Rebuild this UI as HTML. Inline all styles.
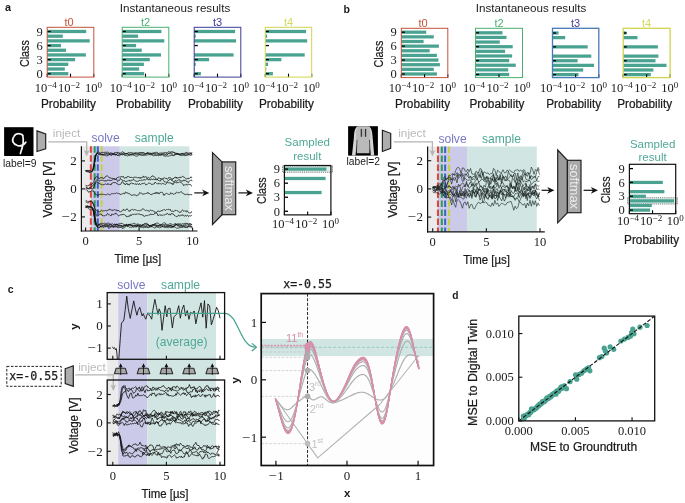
<!DOCTYPE html>
<html lang="en"><head><meta charset="utf-8"><title>Figure</title>
<style>
html,body{margin:0;padding:0;background:#fff;}
svg{display:block;}
</style></head><body>
<svg width="685" height="503" viewBox="0 0 685 503">
<rect width="685" height="503" fill="#ffffff"/>
<text x="4.9" y="10.8" font-size="10.8" fill="#1a1a1a" text-anchor="start" font-family='"Liberation Sans", sans-serif' font-weight="bold">a</text>
<text x="175" y="12.2" font-size="11.5" fill="#1a1a1a" text-anchor="middle" font-family='"Liberation Sans", sans-serif' textLength="110.5" lengthAdjust="spacingAndGlyphs">Instantaneous results</text>
<rect x="47.2" y="29.86" width="39" height="3.28" fill="#4aa391"/>
<rect x="47.2" y="34.55" width="15.6" height="3.28" fill="#4aa391"/>
<rect x="47.2" y="39.24" width="42.5" height="3.28" fill="#4aa391"/>
<rect x="47.2" y="43.93" width="13.8" height="3.28" fill="#4aa391"/>
<rect x="47.2" y="48.61" width="18.8" height="3.28" fill="#4aa391"/>
<rect x="47.2" y="53.3" width="38.7" height="3.28" fill="#4aa391"/>
<rect x="47.2" y="57.99" width="27.9" height="3.28" fill="#4aa391"/>
<rect x="47.2" y="62.68" width="21.1" height="3.28" fill="#4aa391"/>
<rect x="47.2" y="67.37" width="17.6" height="3.28" fill="#4aa391"/>
<rect x="47.2" y="72.06" width="21.1" height="3.28" fill="#4aa391"/>
<line x1="47.2" y1="31.5" x2="50.8" y2="31.5" stroke="#000" stroke-width="1.3"/>
<line x1="47.2" y1="45.57" x2="50.8" y2="45.57" stroke="#000" stroke-width="1.3"/>
<line x1="47.2" y1="59.63" x2="50.8" y2="59.63" stroke="#000" stroke-width="1.3"/>
<line x1="47.2" y1="73.7" x2="50.8" y2="73.7" stroke="#000" stroke-width="1.3"/>
<line x1="47.2" y1="77.1" x2="47.2" y2="73.7" stroke="#000" stroke-width="1.1"/>
<line x1="70.5" y1="77.1" x2="70.5" y2="73.7" stroke="#000" stroke-width="1.1"/>
<line x1="93.8" y1="77.1" x2="93.8" y2="73.7" stroke="#000" stroke-width="1.1"/>
<rect x="47.2" y="27.3" width="46.6" height="49.8" fill="none" stroke="#c5523c" stroke-width="1.0"/>
<text x="69" y="25.5" font-size="11" fill="#c5523c" text-anchor="middle" font-family='"Liberation Sans", sans-serif'>t0</text>
<text x="45.8" y="91.7" font-size="12.5" fill="#1a1a1a" text-anchor="middle" font-family='"Liberation Serif", serif'>10<tspan dy="-4.0" font-size="9">−4</tspan></text>
<text x="69.1" y="91.7" font-size="12.5" fill="#1a1a1a" text-anchor="middle" font-family='"Liberation Serif", serif'>10<tspan dy="-4.0" font-size="9">−2</tspan></text>
<text x="93.4" y="91.7" font-size="12.5" fill="#1a1a1a" text-anchor="middle" font-family='"Liberation Serif", serif'>10<tspan dy="-4.0" font-size="9">0</tspan></text>
<text x="68.5" y="107.9" font-size="12.3" fill="#1a1a1a" text-anchor="middle" font-family='"Liberation Sans", sans-serif' textLength="55" lengthAdjust="spacingAndGlyphs" stroke="#1a1a1a" stroke-width="0.22">Probability</text>
<rect x="122.2" y="29.86" width="39.2" height="3.28" fill="#4aa391"/>
<rect x="122.2" y="34.55" width="15.9" height="3.28" fill="#4aa391"/>
<rect x="122.2" y="39.24" width="42.1" height="3.28" fill="#4aa391"/>
<rect x="122.2" y="43.93" width="13.9" height="3.28" fill="#4aa391"/>
<rect x="122.2" y="48.61" width="19.6" height="3.28" fill="#4aa391"/>
<rect x="122.2" y="53.3" width="38.8" height="3.28" fill="#4aa391"/>
<rect x="122.2" y="57.99" width="27.6" height="3.28" fill="#4aa391"/>
<rect x="122.2" y="62.68" width="21.7" height="3.28" fill="#4aa391"/>
<rect x="122.2" y="67.37" width="17" height="3.28" fill="#4aa391"/>
<rect x="122.2" y="72.06" width="22" height="3.28" fill="#4aa391"/>
<line x1="122.2" y1="31.5" x2="125.8" y2="31.5" stroke="#000" stroke-width="1.3"/>
<line x1="122.2" y1="45.57" x2="125.8" y2="45.57" stroke="#000" stroke-width="1.3"/>
<line x1="122.2" y1="59.63" x2="125.8" y2="59.63" stroke="#000" stroke-width="1.3"/>
<line x1="122.2" y1="73.7" x2="125.8" y2="73.7" stroke="#000" stroke-width="1.3"/>
<line x1="122.2" y1="77.1" x2="122.2" y2="73.7" stroke="#000" stroke-width="1.1"/>
<line x1="145.5" y1="77.1" x2="145.5" y2="73.7" stroke="#000" stroke-width="1.1"/>
<line x1="168.8" y1="77.1" x2="168.8" y2="73.7" stroke="#000" stroke-width="1.1"/>
<rect x="122.2" y="27.3" width="46.6" height="49.8" fill="none" stroke="#4bb071" stroke-width="1.0"/>
<text x="145.5" y="25.5" font-size="11" fill="#4bb071" text-anchor="middle" font-family='"Liberation Sans", sans-serif'>t2</text>
<text x="120.8" y="91.7" font-size="12.5" fill="#1a1a1a" text-anchor="middle" font-family='"Liberation Serif", serif'>10<tspan dy="-4.0" font-size="9">−4</tspan></text>
<text x="144.1" y="91.7" font-size="12.5" fill="#1a1a1a" text-anchor="middle" font-family='"Liberation Serif", serif'>10<tspan dy="-4.0" font-size="9">−2</tspan></text>
<text x="168.4" y="91.7" font-size="12.5" fill="#1a1a1a" text-anchor="middle" font-family='"Liberation Serif", serif'>10<tspan dy="-4.0" font-size="9">0</tspan></text>
<text x="143.5" y="107.9" font-size="12.3" fill="#1a1a1a" text-anchor="middle" font-family='"Liberation Sans", sans-serif' textLength="55" lengthAdjust="spacingAndGlyphs" stroke="#1a1a1a" stroke-width="0.22">Probability</text>
<rect x="194.2" y="29.86" width="40.9" height="3.28" fill="#4aa391"/>
<rect x="194.2" y="34.55" width="1.6" height="3.28" fill="#4aa391"/>
<rect x="194.2" y="39.24" width="41.9" height="3.28" fill="#4aa391"/>
<rect x="194.2" y="53.3" width="39.4" height="3.28" fill="#4aa391"/>
<rect x="194.2" y="57.99" width="14.9" height="3.28" fill="#4aa391"/>
<rect x="194.2" y="62.68" width="1.6" height="3.28" fill="#4aa391"/>
<rect x="194.2" y="67.37" width="0.6" height="3.28" fill="#4aa391"/>
<rect x="194.2" y="72.06" width="6.7" height="3.28" fill="#4aa391"/>
<line x1="194.2" y1="31.5" x2="197.8" y2="31.5" stroke="#000" stroke-width="1.3"/>
<line x1="194.2" y1="45.57" x2="197.8" y2="45.57" stroke="#000" stroke-width="1.3"/>
<line x1="194.2" y1="59.63" x2="197.8" y2="59.63" stroke="#000" stroke-width="1.3"/>
<line x1="194.2" y1="73.7" x2="197.8" y2="73.7" stroke="#000" stroke-width="1.3"/>
<line x1="194.2" y1="77.1" x2="194.2" y2="73.7" stroke="#000" stroke-width="1.1"/>
<line x1="217.5" y1="77.1" x2="217.5" y2="73.7" stroke="#000" stroke-width="1.1"/>
<line x1="240.8" y1="77.1" x2="240.8" y2="73.7" stroke="#000" stroke-width="1.1"/>
<rect x="194.2" y="27.3" width="46.6" height="49.8" fill="none" stroke="#3d3c98" stroke-width="1.0"/>
<text x="217.5" y="25.5" font-size="11" fill="#3d3c98" text-anchor="middle" font-family='"Liberation Sans", sans-serif'>t3</text>
<text x="192.8" y="91.7" font-size="12.5" fill="#1a1a1a" text-anchor="middle" font-family='"Liberation Serif", serif'>10<tspan dy="-4.0" font-size="9">−4</tspan></text>
<text x="216.1" y="91.7" font-size="12.5" fill="#1a1a1a" text-anchor="middle" font-family='"Liberation Serif", serif'>10<tspan dy="-4.0" font-size="9">−2</tspan></text>
<text x="240.4" y="91.7" font-size="12.5" fill="#1a1a1a" text-anchor="middle" font-family='"Liberation Serif", serif'>10<tspan dy="-4.0" font-size="9">0</tspan></text>
<text x="215.5" y="107.9" font-size="12.3" fill="#1a1a1a" text-anchor="middle" font-family='"Liberation Sans", sans-serif' textLength="55" lengthAdjust="spacingAndGlyphs" stroke="#1a1a1a" stroke-width="0.22">Probability</text>
<rect x="265.3" y="29.86" width="40.7" height="3.28" fill="#4aa391"/>
<rect x="265.3" y="34.55" width="1.8" height="3.28" fill="#4aa391"/>
<rect x="265.3" y="39.24" width="41.9" height="3.28" fill="#4aa391"/>
<rect x="265.3" y="53.3" width="39.4" height="3.28" fill="#4aa391"/>
<rect x="265.3" y="57.99" width="16.1" height="3.28" fill="#4aa391"/>
<rect x="265.3" y="62.68" width="2.8" height="3.28" fill="#4aa391"/>
<rect x="265.3" y="67.37" width="1" height="3.28" fill="#4aa391"/>
<rect x="265.3" y="72.06" width="7.6" height="3.28" fill="#4aa391"/>
<line x1="265.3" y1="31.5" x2="268.9" y2="31.5" stroke="#000" stroke-width="1.3"/>
<line x1="265.3" y1="45.57" x2="268.9" y2="45.57" stroke="#000" stroke-width="1.3"/>
<line x1="265.3" y1="59.63" x2="268.9" y2="59.63" stroke="#000" stroke-width="1.3"/>
<line x1="265.3" y1="73.7" x2="268.9" y2="73.7" stroke="#000" stroke-width="1.3"/>
<line x1="265.3" y1="77.1" x2="265.3" y2="73.7" stroke="#000" stroke-width="1.1"/>
<line x1="288.5" y1="77.1" x2="288.5" y2="73.7" stroke="#000" stroke-width="1.1"/>
<line x1="311.7" y1="77.1" x2="311.7" y2="73.7" stroke="#000" stroke-width="1.1"/>
<rect x="265.3" y="27.3" width="46.4" height="49.8" fill="none" stroke="#d0d44c" stroke-width="1.0"/>
<text x="288.5" y="25.5" font-size="11" fill="#d6d95f" text-anchor="middle" font-family='"Liberation Sans", sans-serif'>t4</text>
<text x="263.9" y="91.7" font-size="12.5" fill="#1a1a1a" text-anchor="middle" font-family='"Liberation Serif", serif'>10<tspan dy="-4.0" font-size="9">−4</tspan></text>
<text x="287.1" y="91.7" font-size="12.5" fill="#1a1a1a" text-anchor="middle" font-family='"Liberation Serif", serif'>10<tspan dy="-4.0" font-size="9">−2</tspan></text>
<text x="311.3" y="91.7" font-size="12.5" fill="#1a1a1a" text-anchor="middle" font-family='"Liberation Serif", serif'>10<tspan dy="-4.0" font-size="9">0</tspan></text>
<text x="286.5" y="107.9" font-size="12.3" fill="#1a1a1a" text-anchor="middle" font-family='"Liberation Sans", sans-serif' textLength="55" lengthAdjust="spacingAndGlyphs" stroke="#1a1a1a" stroke-width="0.22">Probability</text>
<text x="39.7" y="35.7" font-size="12.5" fill="#1a1a1a" text-anchor="middle" font-family='"Liberation Serif", serif'>9</text>
<text x="39.7" y="49.77" font-size="12.5" fill="#1a1a1a" text-anchor="middle" font-family='"Liberation Serif", serif'>6</text>
<text x="39.7" y="63.83" font-size="12.5" fill="#1a1a1a" text-anchor="middle" font-family='"Liberation Serif", serif'>3</text>
<text x="39.7" y="77.9" font-size="12.5" fill="#1a1a1a" text-anchor="middle" font-family='"Liberation Serif", serif'>0</text>
<text x="29" y="53.6" font-size="12.3" fill="#1a1a1a" text-anchor="middle" font-family='"Liberation Sans", sans-serif' transform="rotate(-90 29 53.6)" textLength="26.8" lengthAdjust="spacingAndGlyphs" stroke="#1a1a1a" stroke-width="0.22">Class</text>
<text x="343.4" y="12.8" font-size="10.5" fill="#1a1a1a" text-anchor="start" font-family='"Liberation Sans", sans-serif' font-weight="bold">b</text>
<text x="531" y="12.2" font-size="11.5" fill="#1a1a1a" text-anchor="middle" font-family='"Liberation Sans", sans-serif' textLength="110.5" lengthAdjust="spacingAndGlyphs">Instantaneous results</text>
<rect x="401.3" y="30.57" width="24.9" height="3.25" fill="#4aa391"/>
<rect x="401.3" y="35.22" width="32.5" height="3.25" fill="#4aa391"/>
<rect x="401.3" y="39.86" width="22.3" height="3.25" fill="#4aa391"/>
<rect x="401.3" y="44.51" width="37.6" height="3.25" fill="#4aa391"/>
<rect x="401.3" y="49.15" width="28.4" height="3.25" fill="#4aa391"/>
<rect x="401.3" y="53.8" width="35.6" height="3.25" fill="#4aa391"/>
<rect x="401.3" y="58.44" width="37.2" height="3.25" fill="#4aa391"/>
<rect x="401.3" y="63.09" width="38.6" height="3.25" fill="#4aa391"/>
<rect x="401.3" y="67.73" width="32.5" height="3.25" fill="#4aa391"/>
<rect x="401.3" y="72.37" width="35.6" height="3.25" fill="#4aa391"/>
<line x1="401.3" y1="32.2" x2="404.9" y2="32.2" stroke="#000" stroke-width="1.3"/>
<line x1="401.3" y1="46.13" x2="404.9" y2="46.13" stroke="#000" stroke-width="1.3"/>
<line x1="401.3" y1="60.07" x2="404.9" y2="60.07" stroke="#000" stroke-width="1.3"/>
<line x1="401.3" y1="74" x2="404.9" y2="74" stroke="#000" stroke-width="1.3"/>
<line x1="401.3" y1="77.6" x2="401.3" y2="74.2" stroke="#000" stroke-width="1.1"/>
<line x1="424.55" y1="77.6" x2="424.55" y2="74.2" stroke="#000" stroke-width="1.1"/>
<line x1="447.8" y1="77.6" x2="447.8" y2="74.2" stroke="#000" stroke-width="1.1"/>
<rect x="401.3" y="28.3" width="46.5" height="49.3" fill="none" stroke="#c5523c" stroke-width="1.0"/>
<text x="423.05" y="26.5" font-size="11" fill="#c5523c" text-anchor="middle" font-family='"Liberation Sans", sans-serif'>t0</text>
<text x="399.9" y="92.1" font-size="12.5" fill="#1a1a1a" text-anchor="middle" font-family='"Liberation Serif", serif'>10<tspan dy="-4.0" font-size="9">−4</tspan></text>
<text x="423.15" y="92.1" font-size="12.5" fill="#1a1a1a" text-anchor="middle" font-family='"Liberation Serif", serif'>10<tspan dy="-4.0" font-size="9">−2</tspan></text>
<text x="447.4" y="92.1" font-size="12.5" fill="#1a1a1a" text-anchor="middle" font-family='"Liberation Serif", serif'>10<tspan dy="-4.0" font-size="9">0</tspan></text>
<text x="422.55" y="108.3" font-size="12.3" fill="#1a1a1a" text-anchor="middle" font-family='"Liberation Sans", sans-serif' textLength="55" lengthAdjust="spacingAndGlyphs" stroke="#1a1a1a" stroke-width="0.22">Probability</text>
<rect x="475.5" y="31.18" width="27" height="3.24" fill="#4aa391"/>
<rect x="475.5" y="35.81" width="31" height="3.24" fill="#4aa391"/>
<rect x="475.5" y="40.44" width="24.3" height="3.24" fill="#4aa391"/>
<rect x="475.5" y="45.08" width="37.2" height="3.24" fill="#4aa391"/>
<rect x="475.5" y="49.71" width="29.6" height="3.24" fill="#4aa391"/>
<rect x="475.5" y="54.34" width="36.6" height="3.24" fill="#4aa391"/>
<rect x="475.5" y="58.98" width="33.7" height="3.24" fill="#4aa391"/>
<rect x="475.5" y="63.61" width="40.3" height="3.24" fill="#4aa391"/>
<rect x="475.5" y="68.25" width="32.7" height="3.24" fill="#4aa391"/>
<rect x="475.5" y="72.88" width="33.7" height="3.24" fill="#4aa391"/>
<line x1="475.5" y1="32.8" x2="479.1" y2="32.8" stroke="#000" stroke-width="1.3"/>
<line x1="475.5" y1="46.7" x2="479.1" y2="46.7" stroke="#000" stroke-width="1.3"/>
<line x1="475.5" y1="60.6" x2="479.1" y2="60.6" stroke="#000" stroke-width="1.3"/>
<line x1="475.5" y1="74.5" x2="479.1" y2="74.5" stroke="#000" stroke-width="1.3"/>
<line x1="475.5" y1="77.6" x2="475.5" y2="74.2" stroke="#000" stroke-width="1.1"/>
<line x1="499" y1="77.6" x2="499" y2="74.2" stroke="#000" stroke-width="1.1"/>
<line x1="522.5" y1="77.6" x2="522.5" y2="74.2" stroke="#000" stroke-width="1.1"/>
<rect x="475.5" y="28.3" width="47" height="49.3" fill="none" stroke="#4bb071" stroke-width="1.0"/>
<text x="499" y="26.5" font-size="11" fill="#4bb071" text-anchor="middle" font-family='"Liberation Sans", sans-serif'>t2</text>
<text x="474.1" y="92.1" font-size="12.5" fill="#1a1a1a" text-anchor="middle" font-family='"Liberation Serif", serif'>10<tspan dy="-4.0" font-size="9">−4</tspan></text>
<text x="497.6" y="92.1" font-size="12.5" fill="#1a1a1a" text-anchor="middle" font-family='"Liberation Serif", serif'>10<tspan dy="-4.0" font-size="9">−2</tspan></text>
<text x="522.1" y="92.1" font-size="12.5" fill="#1a1a1a" text-anchor="middle" font-family='"Liberation Serif", serif'>10<tspan dy="-4.0" font-size="9">0</tspan></text>
<text x="497" y="108.3" font-size="12.3" fill="#1a1a1a" text-anchor="middle" font-family='"Liberation Sans", sans-serif' textLength="55" lengthAdjust="spacingAndGlyphs" stroke="#1a1a1a" stroke-width="0.22">Probability</text>
<rect x="552.5" y="31.38" width="6.1" height="3.24" fill="#4aa391"/>
<rect x="552.5" y="36" width="12.7" height="3.24" fill="#4aa391"/>
<rect x="552.5" y="45.25" width="35.2" height="3.24" fill="#4aa391"/>
<rect x="552.5" y="54.49" width="38.8" height="3.24" fill="#4aa391"/>
<rect x="552.5" y="59.12" width="25.1" height="3.24" fill="#4aa391"/>
<rect x="552.5" y="63.74" width="41.5" height="3.24" fill="#4aa391"/>
<rect x="552.5" y="68.36" width="30.7" height="3.24" fill="#4aa391"/>
<rect x="552.5" y="72.98" width="26" height="3.24" fill="#4aa391"/>
<line x1="552.5" y1="33" x2="556.1" y2="33" stroke="#000" stroke-width="1.3"/>
<line x1="552.5" y1="46.87" x2="556.1" y2="46.87" stroke="#000" stroke-width="1.3"/>
<line x1="552.5" y1="60.73" x2="556.1" y2="60.73" stroke="#000" stroke-width="1.3"/>
<line x1="552.5" y1="74.6" x2="556.1" y2="74.6" stroke="#000" stroke-width="1.3"/>
<line x1="552.5" y1="77.6" x2="552.5" y2="74.2" stroke="#000" stroke-width="1.1"/>
<line x1="575.65" y1="77.6" x2="575.65" y2="74.2" stroke="#000" stroke-width="1.1"/>
<line x1="598.8" y1="77.6" x2="598.8" y2="74.2" stroke="#000" stroke-width="1.1"/>
<rect x="552.5" y="28.3" width="46.3" height="49.3" fill="none" stroke="#4878b6" stroke-width="1.3"/>
<text x="575.65" y="26.5" font-size="11" fill="#463f93" text-anchor="middle" font-family='"Liberation Sans", sans-serif'>t3</text>
<text x="551.1" y="92.1" font-size="12.5" fill="#1a1a1a" text-anchor="middle" font-family='"Liberation Serif", serif'>10<tspan dy="-4.0" font-size="9">−4</tspan></text>
<text x="574.25" y="92.1" font-size="12.5" fill="#1a1a1a" text-anchor="middle" font-family='"Liberation Serif", serif'>10<tspan dy="-4.0" font-size="9">−2</tspan></text>
<text x="598.4" y="92.1" font-size="12.5" fill="#1a1a1a" text-anchor="middle" font-family='"Liberation Serif", serif'>10<tspan dy="-4.0" font-size="9">0</tspan></text>
<text x="573.65" y="108.3" font-size="12.3" fill="#1a1a1a" text-anchor="middle" font-family='"Liberation Sans", sans-serif' textLength="55" lengthAdjust="spacingAndGlyphs" stroke="#1a1a1a" stroke-width="0.22">Probability</text>
<rect x="623.2" y="31.38" width="3" height="3.24" fill="#4aa391"/>
<rect x="623.2" y="36" width="14.3" height="3.24" fill="#4aa391"/>
<rect x="623.2" y="45.25" width="34.7" height="3.24" fill="#4aa391"/>
<rect x="623.2" y="54.49" width="35.2" height="3.24" fill="#4aa391"/>
<rect x="623.2" y="59.12" width="32.3" height="3.24" fill="#4aa391"/>
<rect x="623.2" y="63.74" width="43.3" height="3.24" fill="#4aa391"/>
<rect x="623.2" y="68.36" width="30.2" height="3.24" fill="#4aa391"/>
<rect x="623.2" y="72.98" width="27.6" height="3.24" fill="#4aa391"/>
<line x1="623.2" y1="33" x2="626.8" y2="33" stroke="#000" stroke-width="1.3"/>
<line x1="623.2" y1="46.87" x2="626.8" y2="46.87" stroke="#000" stroke-width="1.3"/>
<line x1="623.2" y1="60.73" x2="626.8" y2="60.73" stroke="#000" stroke-width="1.3"/>
<line x1="623.2" y1="74.6" x2="626.8" y2="74.6" stroke="#000" stroke-width="1.3"/>
<line x1="623.2" y1="77.6" x2="623.2" y2="74.2" stroke="#000" stroke-width="1.1"/>
<line x1="646.65" y1="77.6" x2="646.65" y2="74.2" stroke="#000" stroke-width="1.1"/>
<line x1="670.1" y1="77.6" x2="670.1" y2="74.2" stroke="#000" stroke-width="1.1"/>
<rect x="623.2" y="28.3" width="46.9" height="49.3" fill="none" stroke="#d0d44c" stroke-width="1.3"/>
<text x="646.65" y="26.5" font-size="11" fill="#d6d95f" text-anchor="middle" font-family='"Liberation Sans", sans-serif'>t4</text>
<text x="621.8" y="92.1" font-size="12.5" fill="#1a1a1a" text-anchor="middle" font-family='"Liberation Serif", serif'>10<tspan dy="-4.0" font-size="9">−4</tspan></text>
<text x="645.25" y="92.1" font-size="12.5" fill="#1a1a1a" text-anchor="middle" font-family='"Liberation Serif", serif'>10<tspan dy="-4.0" font-size="9">−2</tspan></text>
<text x="669.7" y="92.1" font-size="12.5" fill="#1a1a1a" text-anchor="middle" font-family='"Liberation Serif", serif'>10<tspan dy="-4.0" font-size="9">0</tspan></text>
<text x="644.65" y="108.3" font-size="12.3" fill="#1a1a1a" text-anchor="middle" font-family='"Liberation Sans", sans-serif' textLength="55" lengthAdjust="spacingAndGlyphs" stroke="#1a1a1a" stroke-width="0.22">Probability</text>
<text x="393.6" y="36.4" font-size="12.5" fill="#1a1a1a" text-anchor="middle" font-family='"Liberation Serif", serif'>9</text>
<text x="393.6" y="50.33" font-size="12.5" fill="#1a1a1a" text-anchor="middle" font-family='"Liberation Serif", serif'>6</text>
<text x="393.6" y="64.27" font-size="12.5" fill="#1a1a1a" text-anchor="middle" font-family='"Liberation Serif", serif'>3</text>
<text x="393.6" y="78.2" font-size="12.5" fill="#1a1a1a" text-anchor="middle" font-family='"Liberation Serif", serif'>0</text>
<text x="383" y="54.1" font-size="12.3" fill="#1a1a1a" text-anchor="middle" font-family='"Liberation Sans", sans-serif' transform="rotate(-90 383 54.1)" textLength="26.8" lengthAdjust="spacingAndGlyphs" stroke="#1a1a1a" stroke-width="0.22">Class</text>
<rect x="4.1" y="127.2" width="29.4" height="28.8" fill="#000"/>
<path d="M23.04 135.75 C21.53 133.18 16.24 132.42 13.97 136.35 C11.18 140.5 12.84 144.05 17.52 145.56 C21.15 146.62 24.02 144.81 25.83 142.24 M22.51 134.99 C24.32 139.52 23.56 144.66 20.39 153.57" fill="none" stroke="#f4f4f4" stroke-width="1.7" stroke-linecap="round" stroke-linejoin="round"/>
<path d="M37 130.9 L45.7 133.9 L45.7 148.8 L37 151.5 Z" fill="#adadad" stroke="#222" stroke-width="1.2" stroke-linejoin="miter"/>
<text x="3" y="167" font-size="10.2" fill="#1a1a1a" text-anchor="start" font-family='"Liberation Sans", sans-serif' textLength="33.4" lengthAdjust="spacingAndGlyphs">label=9</text>
<text x="66.6" y="136.6" font-size="11.8" fill="#b9b9b9" text-anchor="middle" font-family='"Liberation Sans", sans-serif'>inject</text>
<rect x="81.4" y="146.3" width="9.55" height="84.7" fill="#ebebeb"/>
<rect x="90.95" y="146.3" width="28.89" height="84.7" fill="#cbcbe9"/>
<rect x="119.84" y="146.3" width="69.55" height="84.7" fill="#d1e6e2"/>
<line x1="90.84" y1="146.3" x2="90.84" y2="231" stroke="#e0423c" stroke-width="2.0" stroke-dasharray="6.4 2.6"/>
<line x1="94.69" y1="146.3" x2="94.69" y2="231" stroke="#2e9a58" stroke-width="2.0" stroke-dasharray="6.4 2.6"/>
<line x1="97.8" y1="146.3" x2="97.8" y2="231" stroke="#3c62c4" stroke-width="2.0" stroke-dasharray="6.4 2.6"/>
<line x1="101.65" y1="146.3" x2="101.65" y2="231" stroke="#c8cf45" stroke-width="2.0" stroke-dasharray="6.4 2.6"/>
<clipPath id="cpa"><rect x="81.4" y="144.3" width="116.1" height="86.69999999999999"/></clipPath><g clip-path="url(#cpa)">
<polyline points="85.6,170.5 86.05,170.39 86.49,170.64 86.94,170.96 87.38,170.58 87.83,170.67 88.27,170.96 88.72,171.68 89.16,171.95 89.61,172.11 90.05,172.06 90.5,172.55 90.95,172.28 91.39,171.87 91.84,171.44 92.28,171.17 92.73,169.94 93.17,169.23 93.62,167.54 94.06,165.79 94.51,163.84 94.95,160.61 95.4,157.36 95.85,155.08 96.29,154.07 96.74,153.36 97.18,152.31 97.63,152.03 98.07,151.82 98.52,151.9 98.96,152.15 99.41,152.48 99.85,152.84 100.3,152.99 100.75,153.02 101.19,152.48 101.64,152.59 102.08,152.8 102.53,152.17 102.97,152.07 103.42,152.7 103.86,152.39 104.31,152.41 104.75,152.26 105.2,151.9 105.65,152.57 106.09,152.74 106.54,152.21 106.98,152.1 107.43,152.04 107.87,152.3 108.32,152.53 108.76,152.94 109.21,153.19 109.65,153.31 110.1,152.99 110.55,152.92 110.99,153.09 111.44,153.26 111.88,153.02 112.33,153.38 112.77,153.35 113.22,153.43 113.66,153.4 114.11,152.98 114.55,152.58 115,152.92 115.45,152.8 115.89,152.28 116.34,152.28 116.78,152.79 117.23,152.8 117.67,152.37 118.12,152.42 118.56,152.9 119.01,153.36 119.45,153.29 119.9,152.98 120.35,153.1 120.79,152.75 121.24,152.53 121.68,152.38 122.13,151.82 122.57,151.83 123.02,152.09 123.46,152.31 123.91,152.32 124.36,153.19 124.8,153.72 125.25,153.95 125.69,153.79 126.14,153.77 126.58,153.27 127.03,153.77 127.47,153.48 127.92,152.82 128.36,152.6 128.81,152.44 129.26,152.46 129.7,152.88 130.15,152.61 130.59,152.64 131.04,152.71 131.48,152.78 131.93,152.73 132.37,152.61 132.82,153.2 133.26,153.39 133.71,153.07 134.16,153.06 134.6,153.44 135.05,152.86 135.49,153.11 135.94,153.3 136.38,153.75 136.83,154.3 137.27,154 137.72,154.13 138.16,153.56 138.61,153.35 139.06,153.3 139.5,153.53 139.95,153.31 140.39,153.09 140.84,152.5 141.28,152.65 141.73,152.52 142.17,152.61 142.62,152.57 143.06,151.98 143.51,152.58 143.96,153 144.4,153.12 144.85,153.31 145.29,153.6 145.74,153.2 146.18,153.63 146.63,153.02 147.07,152.84 147.52,152.89 147.96,152.67 148.41,152.76 148.86,153.27 149.3,153.08 149.75,153.22 150.19,153.61 150.64,153.55 151.08,153.02 151.53,153.33 151.97,153.72 152.42,153.3 152.86,152.73 153.31,153.1 153.76,152.85 154.2,153.05 154.65,153.3 155.09,153.02 155.54,153.31 155.98,153.71 156.43,153.19 156.87,152.91 157.32,153.01 157.76,152.7 158.21,153.31 158.66,153.71 159.1,153.49 159.55,153.1 159.99,153.24 160.44,153.12 160.88,152.98 161.33,153.12 161.77,152.8 162.22,153.1 162.66,152.96 163.11,153.03 163.56,152.86 164,152.57 164.45,152.39 164.89,152.79 165.34,152.91 165.78,152.38 166.23,152.36 166.67,152.77 167.12,152.69 167.56,152.73 168.01,152.21 168.46,151.63 168.9,151.87 169.35,151.78 169.79,152.17 170.24,152.03 170.68,152.24 171.13,152.13 171.57,151.83 172.02,151.39 172.46,151.98 172.91,152.3 173.36,152.31 173.8,152.51 174.25,152.58 174.69,152.94 175.14,153.78 175.58,154.1 176.03,153.57 176.47,153.66 176.92,153.8 177.36,153.66 177.81,153.68 178.26,153.83 178.7,153.67 179.15,153.85 179.59,154.24 180.04,153.93 180.48,153.91 180.93,153.76 181.37,153.46 181.82,153.58 182.26,153.61 182.71,153.46 183.16,153.74 183.6,154.02 184.05,153.64 184.49,153.14 184.94,152.73 185.38,152.79 185.83,152.39 186.27,152.45 186.72,152.05 187.16,152.6 187.61,153.23 188.06,153.51 188.5,153.19 188.95,153.15 189.39,152.92 189.84,152.87 190.28,152.82 190.73,153.14 191.17,153.12 191.62,153.86 192.06,154.73" fill="none" stroke="#0d0d0d" stroke-width="0.75" stroke-linejoin="round"/>
<polyline points="85.6,171.68 86.05,171.89 86.49,171.61 86.94,171.42 87.38,171.37 87.83,170.97 88.27,170.48 88.72,170.7 89.16,170.94 89.61,170.47 90.05,170.5 90.5,170.71 90.95,170.75 91.39,171.33 91.84,171.2 92.28,170.76 92.73,170.03 93.17,169.29 93.62,168.25 94.06,166.36 94.51,163.65 94.95,160.42 95.4,157.72 95.85,156.03 96.29,154.95 96.74,153.78 97.18,153.6 97.63,153.41 98.07,153.43 98.52,154.33 98.96,154.42 99.41,154.22 99.85,154.44 100.3,154.13 100.75,154.04 101.19,154.06 101.64,153.8 102.08,154.33 102.53,154.42 102.97,154.55 103.42,154.48 103.86,154.21 104.31,153.97 104.75,154.31 105.2,153.93 105.65,154.03 106.09,153.75 106.54,153.73 106.98,153.66 107.43,153.57 107.87,153.54 108.32,153.65 108.76,153.31 109.21,153.31 109.65,153.55 110.1,153.97 110.55,153.79 110.99,153.39 111.44,153.28 111.88,153.18 112.33,153.39 112.77,153.6 113.22,153.56 113.66,154.04 114.11,153.99 114.55,154.53 115,154.8 115.45,154.61 115.89,154.49 116.34,154.55 116.78,154.08 117.23,153.6 117.67,152.68 118.12,152.69 118.56,153 119.01,153.47 119.45,153.37 119.9,153.38 120.35,153.8 120.79,153.95 121.24,153.8 121.68,154.02 122.13,153.72 122.57,153.59 123.02,153.68 123.46,153.34 123.91,153.08 124.36,153.31 124.8,153.33 125.25,153.55 125.69,153.68 126.14,153.55 126.58,153.88 127.03,154.08 127.47,154.26 127.92,154.36 128.36,154.51 128.81,154.39 129.26,154.61 129.7,154.53 130.15,154.46 130.59,154.14 131.04,154.22 131.48,154.12 131.93,153.94 132.37,153.65 132.82,153.5 133.26,153.94 133.71,153.99 134.16,153.44 134.6,153.05 135.05,153.24 135.49,153.02 135.94,152.82 136.38,152.81 136.83,152.9 137.27,152.89 137.72,152.7 138.16,152.86 138.61,153.1 139.06,153.21 139.5,152.44 139.95,152.45 140.39,152.58 140.84,153.22 141.28,153.03 141.73,153.2 142.17,153.32 142.62,153.2 143.06,153.38 143.51,153.96 143.96,153.76 144.4,153.83 144.85,154.11 145.29,154.04 145.74,154.31 146.18,153.91 146.63,153.57 147.07,153.55 147.52,153.61 147.96,152.9 148.41,153.38 148.86,153.7 149.3,153.76 149.75,153.68 150.19,153.33 150.64,153.12 151.08,153.83 151.53,153.8 151.97,153.66 152.42,153.6 152.86,153.41 153.31,153.8 153.76,153.68 154.2,152.91 154.65,152.49 155.09,152.38 155.54,152.78 155.98,152.35 156.43,152.11 156.87,152.57 157.32,153.01 157.76,153.38 158.21,153.88 158.66,154.06 159.1,154.28 159.55,154.22 159.99,154.26 160.44,154.2 160.88,154.31 161.33,154.25 161.77,153.96 162.22,153.35 162.66,153.8 163.11,153.72 163.56,153.8 164,153.91 164.45,153.8 164.89,153.75 165.34,154.23 165.78,154.14 166.23,153.65 166.67,153.57 167.12,154.16 167.56,154.32 168.01,153.55 168.46,153.43 168.9,153.45 169.35,153.37 169.79,152.78 170.24,152.68 170.68,152.6 171.13,152.79 171.57,152.96 172.02,152.86 172.46,152.89 172.91,152.84 173.36,152.49 173.8,152.18 174.25,152.32 174.69,152.68 175.14,152.86 175.58,152.98 176.03,153.21 176.47,153.28 176.92,153.2 177.36,154.14 177.81,154.01 178.26,153.95 178.7,153.75 179.15,153.94 179.59,154.25 180.04,154.66 180.48,154.01 180.93,154.1 181.37,153.7 181.82,153.52 182.26,153.45 182.71,153.58 183.16,153.26 183.6,153.63 184.05,154.01 184.49,154.13 184.94,154.91 185.38,155.01 185.83,155.03 186.27,154.69 186.72,154.22 187.16,154.05 187.61,154.16 188.06,153.88 188.5,154.04 188.95,154.22 189.39,154.21 189.84,153.69 190.28,153.36 190.73,153.25 191.17,152.99 191.62,152.96 192.06,152.45" fill="none" stroke="#0d0d0d" stroke-width="0.75" stroke-linejoin="round"/>
<polyline points="85.6,170.48 86.05,171.09 86.49,170.88 86.94,171.2 87.38,172.06 87.83,171.91 88.27,172.07 88.72,172.18 89.16,172.29 89.61,172.39 90.05,172.54 90.5,172.04 90.95,172.01 91.39,171.87 91.84,171.95 92.28,171.73 92.73,170.82 93.17,169.43 93.62,168.17 94.06,165.5 94.51,162.41 94.95,159.44 95.4,156.83 95.85,155.03 96.29,154.28 96.74,153.4 97.18,153.35 97.63,152.93 98.07,153.16 98.52,153.06 98.96,153.29 99.41,153.42 99.85,153.76 100.3,153.65 100.75,154.42 101.19,154.46 101.64,154.42 102.08,154.15 102.53,154.4 102.97,154.48 103.42,154.91 103.86,154.47 104.31,153.91 104.75,154.05 105.2,154.32 105.65,154.32 106.09,154.3 106.54,153.92 106.98,154.12 107.43,154.48 107.87,154.71 108.32,154.48 108.76,154.3 109.21,154.44 109.65,154.74 110.1,154.74 110.55,155.04 110.99,155.22 111.44,155.47 111.88,155.21 112.33,154.7 112.77,154.1 113.22,154.53 113.66,154.04 114.11,153.67 114.55,153.45 115,153.71 115.45,154.22 115.89,154.92 116.34,154.3 116.78,154.58 117.23,155.15 117.67,155.27 118.12,155.31 118.56,155.14 119.01,154.33 119.45,154.67 119.9,154.16 120.35,154.37 120.79,154.56 121.24,154.56 121.68,154.6 122.13,154.77 122.57,154.74 123.02,154.96 123.46,154.39 123.91,154.38 124.36,154.5 124.8,154.32 125.25,153.84 125.69,153.88 126.14,153.85 126.58,153.58 127.03,153.42 127.47,153.31 127.92,153.82 128.36,154.33 128.81,153.94 129.26,153.88 129.7,154.02 130.15,154.44 130.59,154.85 131.04,154.78 131.48,154.64 131.93,154.9 132.37,154.63 132.82,154.57 133.26,154.73 133.71,154.66 134.16,154.21 134.6,154.02 135.05,154.05 135.49,154.21 135.94,154.07 136.38,154.17 136.83,154.14 137.27,154.2 137.72,154.22 138.16,154.54 138.61,154.7 139.06,154.58 139.5,154.54 139.95,154.85 140.39,154.97 140.84,154.95 141.28,154.8 141.73,155.36 142.17,155.29 142.62,154.84 143.06,155.11 143.51,154.97 143.96,154.68 144.4,154.32 144.85,154.11 145.29,154.06 145.74,154.01 146.18,154 146.63,153.13 147.07,152.62 147.52,153 147.96,153.11 148.41,153.26 148.86,153.4 149.3,153.84 149.75,154.43 150.19,154.76 150.64,154.83 151.08,154.61 151.53,154.81 151.97,154.4 152.42,154.36 152.86,154.13 153.31,153.83 153.76,153.71 154.2,154.16 154.65,154.52 155.09,154.68 155.54,154.62 155.98,154.86 156.43,155.07 156.87,155.14 157.32,155.11 157.76,154.71 158.21,154.61 158.66,154.44 159.1,154.89 159.55,155.06 159.99,154.7 160.44,155.27 160.88,155.46 161.33,155.03 161.77,154.67 162.22,154.59 162.66,154.71 163.11,154.99 163.56,154.55 164,154.83 164.45,154.83 164.89,154.98 165.34,154.9 165.78,154.93 166.23,154.92 166.67,154.86 167.12,154.6 167.56,154.37 168.01,153.96 168.46,153.59 168.9,153.35 169.35,153.34 169.79,153.71 170.24,153.59 170.68,153.97 171.13,153.99 171.57,154.02 172.02,154.34 172.46,154.86 172.91,154.93 173.36,155.21 173.8,154.78 174.25,154.54 174.69,154.91 175.14,154.53 175.58,153.9 176.03,154.04 176.47,154.24 176.92,154.2 177.36,154.07 177.81,154.19 178.26,154.52 178.7,154.32 179.15,154.57 179.59,154.67 180.04,154.56 180.48,154.72 180.93,155.09 181.37,154.9 181.82,154.63 182.26,154.59 182.71,154.14 183.16,154.42 183.6,154.49 184.05,154 184.49,154.06 184.94,154.1 185.38,153.76 185.83,153.39 186.27,153.07 186.72,153.29 187.16,153.57 187.61,153.9 188.06,154.11 188.5,154.07 188.95,154.32 189.39,154.32 189.84,153.79 190.28,153.92 190.73,154.05 191.17,153.89 191.62,153.94 192.06,153.82" fill="none" stroke="#0d0d0d" stroke-width="0.75" stroke-linejoin="round"/>
<polyline points="85.6,170.55 86.05,171.03 86.49,170.85 86.94,170.59 87.38,170.62 87.83,170.34 88.27,170.6 88.72,171.14 89.16,170.51 89.61,170.91 90.05,171.71 90.5,171.85 90.95,171.58 91.39,171.68 91.84,171.36 92.28,170.89 92.73,169.18 93.17,167.53 93.62,165.23 94.06,162.13 94.51,159.47 94.95,157.13 95.4,155.04 95.85,154.62 96.29,154.44 96.74,153.8 97.18,153.74 97.63,153.62 98.07,153.8 98.52,154.2 98.96,154.02 99.41,154.33 99.85,154.96 100.3,154.77 100.75,154.77 101.19,154.76 101.64,154.89 102.08,155.33 102.53,154.93 102.97,155.11 103.42,155.1 103.86,155.11 104.31,155.15 104.75,155.14 105.2,155.42 105.65,155.95 106.09,155.74 106.54,155.87 106.98,155.61 107.43,155.72 107.87,155.82 108.32,155.24 108.76,155.08 109.21,154.43 109.65,154.36 110.1,154.88 110.55,154.71 110.99,154.25 111.44,154.35 111.88,154.56 112.33,154.52 112.77,154.52 113.22,154.68 113.66,154.05 114.11,154.26 114.55,155.04 115,155.09 115.45,155.01 115.89,154.81 116.34,154.42 116.78,155.14 117.23,155.37 117.67,155.38 118.12,155.46 118.56,155.59 119.01,155.74 119.45,155.77 119.9,155.53 120.35,155.21 120.79,154.86 121.24,154.1 121.68,154.25 122.13,154.19 122.57,153.99 123.02,154.3 123.46,154.74 123.91,154.8 124.36,155.03 124.8,155.51 125.25,155.51 125.69,155.45 126.14,155.5 126.58,155.59 127.03,155.84 127.47,156.14 127.92,155.58 128.36,155.59 128.81,155.4 129.26,155.59 129.7,155.3 130.15,154.87 130.59,155.06 131.04,155.22 131.48,154.84 131.93,155.07 132.37,154.91 132.82,154.73 133.26,154.87 133.71,155.07 134.16,155.08 134.6,155.58 135.05,155.71 135.49,155.98 135.94,155.91 136.38,156.07 136.83,156.23 137.27,156.09 137.72,155.7 138.16,155.27 138.61,155.01 139.06,154.69 139.5,154.84 139.95,154.86 140.39,154.69 140.84,154.76 141.28,154.74 141.73,154.75 142.17,155.1 142.62,155.4 143.06,155.11 143.51,155.09 143.96,155.17 144.4,155.31 144.85,155.28 145.29,155.35 145.74,155.13 146.18,155.18 146.63,154.98 147.07,155.19 147.52,154.88 147.96,154.79 148.41,154.73 148.86,154.71 149.3,154.71 149.75,154.31 150.19,154.15 150.64,153.85 151.08,154.23 151.53,154.45 151.97,154.9 152.42,154.93 152.86,155.69 153.31,155.68 153.76,155.76 154.2,155.58 154.65,155.61 155.09,155.64 155.54,155.26 155.98,154.84 156.43,155.38 156.87,155.43 157.32,155.1 157.76,155.07 158.21,155.43 158.66,155.66 159.1,155.38 159.55,154.85 159.99,155.14 160.44,154.8 160.88,154.67 161.33,154.83 161.77,154.54 162.22,154.66 162.66,155.13 163.11,155.41 163.56,155.61 164,155.67 164.45,155.94 164.89,156.27 165.34,156.43 165.78,155.95 166.23,155.81 166.67,155.92 167.12,156.01 167.56,156.13 168.01,156.42 168.46,156.09 168.9,155.9 169.35,155.83 169.79,155.81 170.24,155.73 170.68,155.58 171.13,155.56 171.57,155.37 172.02,155.76 172.46,155.53 172.91,155.59 173.36,155.66 173.8,155.41 174.25,155.05 174.69,155.31 175.14,154.62 175.58,154.6 176.03,154.37 176.47,153.9 176.92,153.81 177.36,153.99 177.81,154.28 178.26,154.13 178.7,154.05 179.15,154.63 179.59,155.04 180.04,155.26 180.48,155.32 180.93,155.41 181.37,155.3 181.82,155.51 182.26,155.63 182.71,155.38 183.16,155.21 183.6,155.44 184.05,155.79 184.49,155.6 184.94,155.43 185.38,155.34 185.83,155.88 186.27,155.39 186.72,155.26 187.16,155.02 187.61,155.4 188.06,155.17 188.5,154.85 188.95,154.52 189.39,154.67 189.84,154.97 190.28,155.5 190.73,155.2 191.17,154.71 191.62,155.09 192.06,154.95" fill="none" stroke="#0d0d0d" stroke-width="0.75" stroke-linejoin="round"/>
<polyline points="85.6,185.31 86.05,185.58 86.49,185.52 86.94,185.81 87.38,186.01 87.83,185.82 88.27,185.72 88.72,185.12 89.16,185.35 89.61,185.29 90.05,184.37 90.5,183.9 90.95,184.34 91.39,184.59 91.84,184.32 92.28,183.33 92.73,183.48 93.17,182.82 93.62,182.47 94.06,181.15 94.51,178.9 94.95,177.83 95.4,178.1 95.85,177.13 96.29,176.62 96.74,176.55 97.18,176.9 97.63,177.06 98.07,177.58 98.52,178.05 98.96,178.37 99.41,178.94 99.85,178.66 100.3,177.46 100.75,177.52 101.19,177.85 101.64,177.24 102.08,177.71 102.53,177.95 102.97,177.67 103.42,178.64 103.86,178.69 104.31,177.8 104.75,177.78 105.2,177.03 105.65,176.35 106.09,176.54 106.54,175.9 106.98,175.77 107.43,175.67 107.87,176.22 108.32,176.79 108.76,177.44 109.21,177.71 109.65,177.96 110.1,177.36 110.55,178.21 110.99,177.98 111.44,178.45 111.88,178.16 112.33,178.23 112.77,178.37 113.22,179.07 113.66,178.81 114.11,178.98 114.55,179.13 115,179.2 115.45,179.3 115.89,178.76 116.34,178.67 116.78,177.98 117.23,177.68 117.67,177.61 118.12,177.69 118.56,176.99 119.01,177.03 119.45,176.84 119.9,177.34 120.35,177.22 120.79,177.16 121.24,176.24 121.68,176.5 122.13,176.83 122.57,177.17 123.02,176.17 123.46,176.6 123.91,177.55 124.36,178.43 124.8,178.07 125.25,177.53 125.69,177.43 126.14,178.2 126.58,177.99 127.03,176.87 127.47,176.63 127.92,176.04 128.36,176.58 128.81,176.75 129.26,176.86 129.7,176.95 130.15,177.78 130.59,177.21 131.04,177.71 131.48,177.27 131.93,176.89 132.37,177.34 132.82,177.81 133.26,177.92 133.71,178.13 134.16,177.04 134.6,177.15 135.05,177.05 135.49,177.25 135.94,176.96 136.38,177.4 136.83,177.16 137.27,177.55 137.72,178.01 138.16,177.99 138.61,177.33 139.06,178.03 139.5,177.6 139.95,178.63 140.39,178.39 140.84,177.32 141.28,177.88 141.73,178.08 142.17,177.18 142.62,177.1 143.06,176.37 143.51,176.22 143.96,177.51 144.4,176.86 144.85,177.21 145.29,176.92 145.74,176.63 146.18,176.67 146.63,177.43 147.07,177.54 147.52,178.06 147.96,177.72 148.41,177.46 148.86,178.1 149.3,178.45 149.75,178.1 150.19,177.55 150.64,177.22 151.08,176.78 151.53,176.82 151.97,175.99 152.42,176 152.86,175.63 153.31,176.46 153.76,176.23 154.2,176.85 154.65,176.95 155.09,177.55 155.54,178.48 155.98,179.33 156.43,178.86 156.87,178.95 157.32,179.4 157.76,178.97 158.21,178.46 158.66,177.54 159.1,177.75 159.55,178.03 159.99,178.49 160.44,178.53 160.88,179.03 161.33,178.96 161.77,179.2 162.22,179 162.66,179.29 163.11,178.85 163.56,177.94 164,177.78 164.45,177.85 164.89,178.01 165.34,178.41 165.78,178.43 166.23,177.98 166.67,178.86 167.12,179.25 167.56,179.3 168.01,178.64 168.46,177.65 168.9,177.31 169.35,177.87 169.79,177.98 170.24,177.68 170.68,177.81 171.13,178.21 171.57,179.26 172.02,179.77 172.46,179.49 172.91,178.36 173.36,178.89 173.8,178 174.25,177.75 174.69,177.57 175.14,176.9 175.58,177.2 176.03,178.19 176.47,177.01 176.92,178.29 177.36,178.35 177.81,177.68 178.26,177.85 178.7,177.67 179.15,177.28 179.59,178.05 180.04,177.29 180.48,177.21 180.93,177.91 181.37,177.31 181.82,176.71 182.26,176.44 182.71,176.04 183.16,176.67 183.6,177.15 184.05,176.88 184.49,177.41 184.94,177.75 185.38,178.34 185.83,178.62 186.27,178.72 186.72,178.84 187.16,178.54 187.61,178.49 188.06,179.11 188.5,178.17 188.95,178.42 189.39,178.25 189.84,178.51 190.28,178.1 190.73,177.06 191.17,176.66 191.62,177.6 192.06,177.35" fill="none" stroke="#0d0d0d" stroke-width="0.75" stroke-linejoin="round"/>
<polyline points="85.6,187.14 86.05,186.6 86.49,186.93 86.94,188.28 87.38,188.28 87.83,187.9 88.27,188.13 88.72,188.76 89.16,189.34 89.61,188.32 90.05,188.06 90.5,187.76 90.95,187.77 91.39,186.8 91.84,186.1 92.28,186.18 92.73,185.86 93.17,184.9 93.62,185.13 94.06,183.84 94.51,183.87 94.95,183.2 95.4,181.25 95.85,180.6 96.29,180.49 96.74,179.76 97.18,180.15 97.63,180.34 98.07,180.1 98.52,180.94 98.96,181.07 99.41,180.98 99.85,181.23 100.3,180.49 100.75,179.91 101.19,180.36 101.64,180.16 102.08,180.32 102.53,180.27 102.97,180.17 103.42,180.51 103.86,181.02 104.31,180.85 104.75,181.22 105.2,180.37 105.65,180.72 106.09,181.35 106.54,180.9 106.98,180.03 107.43,180.25 107.87,179.83 108.32,180.28 108.76,180.13 109.21,179.9 109.65,180.65 110.1,180.85 110.55,180.44 110.99,180.55 111.44,180.46 111.88,180.48 112.33,179.81 112.77,179.43 113.22,178.97 113.66,178.64 114.11,179.19 114.55,178.86 115,178.73 115.45,179.66 115.89,179.19 116.34,179.12 116.78,179.33 117.23,180.81 117.67,181.47 118.12,181.24 118.56,180.67 119.01,180.81 119.45,180.03 119.9,179.76 120.35,178.45 120.79,179.21 121.24,179.7 121.68,179.66 122.13,179.7 122.57,180.56 123.02,180.29 123.46,180.7 123.91,180.73 124.36,180.38 124.8,180.97 125.25,181.87 125.69,181.95 126.14,181.17 126.58,181.29 127.03,181.01 127.47,181.03 127.92,180.77 128.36,180.79 128.81,180.56 129.26,180.93 129.7,180.07 130.15,180.49 130.59,181.14 131.04,180.93 131.48,180.1 131.93,180.04 132.37,180.12 132.82,180.12 133.26,180.07 133.71,179.29 134.16,179.89 134.6,180.4 135.05,180.62 135.49,180.9 135.94,181.1 136.38,181.26 136.83,181.45 137.27,180.88 137.72,181.43 138.16,181.27 138.61,180.97 139.06,180.88 139.5,180.39 139.95,180.55 140.39,180.99 140.84,180.49 141.28,180.43 141.73,179.99 142.17,179.91 142.62,180.45 143.06,179.94 143.51,179.75 143.96,180.26 144.4,179.53 144.85,180.06 145.29,180.11 145.74,179.78 146.18,179.31 146.63,179.05 147.07,178.34 147.52,179.13 147.96,179.93 148.41,179.97 148.86,179.28 149.3,179.81 149.75,179.6 150.19,180.05 150.64,180.08 151.08,178.65 151.53,178.96 151.97,179.48 152.42,179.59 152.86,179.4 153.31,179.24 153.76,178.8 154.2,179.8 154.65,179.6 155.09,179.16 155.54,179.61 155.98,179.84 156.43,179.83 156.87,179.64 157.32,178.86 157.76,179.86 158.21,180.45 158.66,180.58 159.1,180.88 159.55,180.89 159.99,181.3 160.44,181.14 160.88,179.6 161.33,179.51 161.77,178.81 162.22,178.85 162.66,179.29 163.11,179.7 163.56,180.21 164,181.45 164.45,181.67 164.89,181.79 165.34,181.78 165.78,182.25 166.23,182.52 166.67,182.19 167.12,181.79 167.56,181.12 168.01,180.6 168.46,180.66 168.9,180.18 169.35,179.95 169.79,179.24 170.24,179.06 170.68,179.36 171.13,180.09 171.57,180.03 172.02,180.85 172.46,180.84 172.91,181.18 173.36,181.45 173.8,181.71 174.25,180.97 174.69,181.28 175.14,180.5 175.58,180.5 176.03,181.2 176.47,181.09 176.92,181.22 177.36,180.87 177.81,180.51 178.26,180 178.7,179.99 179.15,179.46 179.59,180.17 180.04,180.32 180.48,180.98 180.93,180.47 181.37,181.38 181.82,180.91 182.26,181.37 182.71,180.72 183.16,180.18 183.6,180.04 184.05,181.1 184.49,180.36 184.94,180.2 185.38,179.91 185.83,180.67 186.27,181.32 186.72,181.83 187.16,181.33 187.61,182.19 188.06,182.71 188.5,182.44 188.95,181.42 189.39,181.05 189.84,180.76 190.28,180.4 190.73,180.42 191.17,180.14 191.62,180.02 192.06,181.13" fill="none" stroke="#0d0d0d" stroke-width="0.75" stroke-linejoin="round"/>
<polyline points="85.6,188.35 86.05,188.37 86.49,188.64 86.94,188.87 87.38,188.74 87.83,188.04 88.27,188.64 88.72,188.02 89.16,187.64 89.61,187.35 90.05,187.87 90.5,188.48 90.95,188.23 91.39,188.7 91.84,189.1 92.28,188.84 92.73,189.12 93.17,188.76 93.62,187.09 94.06,187.38 94.51,185.36 94.95,184.12 95.4,183.58 95.85,182.69 96.29,181.96 96.74,181.62 97.18,181.4 97.63,181.93 98.07,182.88 98.52,182.82 98.96,182.88 99.41,183.09 99.85,184.04 100.3,184 100.75,184.36 101.19,184.45 101.64,184.69 102.08,184.57 102.53,184.89 102.97,184.33 103.42,184.7 103.86,184.99 104.31,184.35 104.75,184.35 105.2,184 105.65,183.73 106.09,184.27 106.54,184.49 106.98,184.26 107.43,184.51 107.87,183.42 108.32,184.19 108.76,184.32 109.21,184.32 109.65,184.43 110.1,184.77 110.55,184.37 110.99,185.09 111.44,183.6 111.88,183.46 112.33,183.43 112.77,182.63 113.22,182.24 113.66,182.8 114.11,182.29 114.55,182.96 115,183.11 115.45,182.71 115.89,182.44 116.34,183.01 116.78,183.78 117.23,183.75 117.67,183.98 118.12,184.19 118.56,184.87 119.01,185.21 119.45,184.83 119.9,184.28 120.35,184.54 120.79,183.73 121.24,183.63 121.68,182.09 122.13,181.61 122.57,181.75 123.02,182.14 123.46,182.9 123.91,183.91 124.36,183.68 124.8,183.88 125.25,184.92 125.69,184.31 126.14,184.2 126.58,183.21 127.03,183.74 127.47,183.82 127.92,184.88 128.36,183.94 128.81,184.68 129.26,185.1 129.7,184.84 130.15,183.42 130.59,183.43 131.04,183.28 131.48,182.94 131.93,182.96 132.37,183.27 132.82,184.03 133.26,183.63 133.71,183.59 134.16,183.77 134.6,184.22 135.05,184.29 135.49,183.91 135.94,183.75 136.38,184.5 136.83,183.84 137.27,183.83 137.72,183.9 138.16,184.41 138.61,184.48 139.06,183.74 139.5,183.49 139.95,184.53 140.39,184.57 140.84,184.35 141.28,184.2 141.73,183.67 142.17,183.87 142.62,183.28 143.06,183.56 143.51,183.55 143.96,183.11 144.4,182.84 144.85,183.64 145.29,184.02 145.74,184.85 146.18,184.48 146.63,184.59 147.07,184.6 147.52,184.09 147.96,183.56 148.41,183.19 148.86,183.21 149.3,183.41 149.75,183.15 150.19,183.4 150.64,183.47 151.08,183.75 151.53,184.53 151.97,184.74 152.42,184.33 152.86,184.44 153.31,184.12 153.76,184.15 154.2,184 154.65,183.04 155.09,182.04 155.54,182.49 155.98,182.67 156.43,183.19 156.87,183.66 157.32,183.8 157.76,183.86 158.21,184.07 158.66,183.19 159.1,183.44 159.55,183.68 159.99,183.55 160.44,183.68 160.88,183.93 161.33,184.07 161.77,184.05 162.22,183.68 162.66,183.16 163.11,183.41 163.56,183.85 164,183.63 164.45,184.11 164.89,184.53 165.34,184.55 165.78,183.87 166.23,183.72 166.67,183.37 167.12,183.01 167.56,182.25 168.01,182.52 168.46,182.68 168.9,183.26 169.35,183.08 169.79,182.52 170.24,182.61 170.68,182.96 171.13,183.47 171.57,184.04 172.02,183.15 172.46,183.76 172.91,184.86 173.36,183.69 173.8,182.68 174.25,183.15 174.69,182.25 175.14,182.28 175.58,182.18 176.03,182.17 176.47,182.83 176.92,183.14 177.36,182.54 177.81,182.83 178.26,182.7 178.7,182.44 179.15,182.24 179.59,182.05 180.04,182.18 180.48,182.19 180.93,182.28 181.37,182.92 181.82,183.33 182.26,183.75 182.71,183.72 183.16,184.46 183.6,185.56 184.05,185.41 184.49,184.77 184.94,184.73 185.38,184.95 185.83,184.78 186.27,184.87 186.72,184.25 187.16,184.57 187.61,185.06 188.06,184.75 188.5,183.93 188.95,184.38 189.39,184.42 189.84,184.38 190.28,184.45 190.73,184.67 191.17,185.65 191.62,185.98 192.06,185.65" fill="none" stroke="#0d0d0d" stroke-width="0.75" stroke-linejoin="round"/>
<polyline points="85.6,189.9 86.05,189.97 86.49,189.79 86.94,190.31 87.38,190.46 87.83,190.77 88.27,192.04 88.72,192.35 89.16,191.82 89.61,191.93 90.05,191.19 90.5,191.68 90.95,191.12 91.39,190.64 91.84,190.99 92.28,190.91 92.73,190.96 93.17,190.84 93.62,190.91 94.06,192.05 94.51,192.66 94.95,192.98 95.4,194.56 95.85,195.02 96.29,194.95 96.74,194.59 97.18,195.2 97.63,195.48 98.07,195.61 98.52,194.53 98.96,194.28 99.41,194.43 99.85,194.97 100.3,194.64 100.75,194.22 101.19,193.79 101.64,194.43 102.08,194.43 102.53,194.42 102.97,194.34 103.42,194.15 103.86,194.74 104.31,194.89 104.75,194.43 105.2,194.45 105.65,194.71 106.09,195.23 106.54,194.81 106.98,194.24 107.43,193.89 107.87,194.04 108.32,194.19 108.76,194.1 109.21,194.62 109.65,195.03 110.1,194.85 110.55,194.68 110.99,194.31 111.44,193.58 111.88,193.62 112.33,193.67 112.77,193.64 113.22,193.59 113.66,193.7 114.11,193.38 114.55,193.45 115,193.43 115.45,193.68 115.89,193.23 116.34,192.72 116.78,192.99 117.23,193.17 117.67,193.33 118.12,193.51 118.56,193.63 119.01,193.4 119.45,193.64 119.9,193.72 120.35,194.64 120.79,194.71 121.24,194.08 121.68,194.03 122.13,193.99 122.57,193.65 123.02,193.71 123.46,193.17 123.91,193 124.36,193.89 124.8,193.91 125.25,192.18 125.69,191.89 126.14,192.48 126.58,192.76 127.03,192.97 127.47,193.03 127.92,192.69 128.36,193.5 128.81,194.06 129.26,193.68 129.7,193.65 130.15,194.19 130.59,194.8 131.04,195.22 131.48,195.55 131.93,194.75 132.37,195.25 132.82,195.25 133.26,194.95 133.71,194.7 134.16,194.92 134.6,194.96 135.05,194.54 135.49,195.05 135.94,195.17 136.38,195.92 136.83,195.85 137.27,195.22 137.72,194.97 138.16,195.25 138.61,194.8 139.06,193.9 139.5,192.89 139.95,192.41 140.39,193.13 140.84,193.42 141.28,193.31 141.73,193.02 142.17,193.72 142.62,194.01 143.06,194.53 143.51,193.82 143.96,193.78 144.4,193.89 144.85,193.7 145.29,193.5 145.74,193.91 146.18,193.27 146.63,193.36 147.07,193.11 147.52,193.05 147.96,192.32 148.41,193.48 148.86,193.01 149.3,193.39 149.75,193.95 150.19,194.11 150.64,194.61 151.08,195.06 151.53,194.26 151.97,194.06 152.42,194.09 152.86,194.15 153.31,193.49 153.76,193.62 154.2,192.89 154.65,193.17 155.09,193.93 155.54,193.23 155.98,192.27 156.43,193.25 156.87,192.52 157.32,193.4 157.76,192.7 158.21,192.6 158.66,193.8 159.1,194.01 159.55,193.17 159.99,193.1 160.44,192.21 160.88,192.51 161.33,192.47 161.77,192.11 162.22,192.29 162.66,192.61 163.11,193.61 163.56,195.17 164,195.38 164.45,195.26 164.89,194.03 165.34,193.89 165.78,193.81 166.23,193.52 166.67,193.32 167.12,193.63 167.56,193.85 168.01,193.99 168.46,194.27 168.9,194.58 169.35,194.68 169.79,194.16 170.24,193.94 170.68,192.69 171.13,193.47 171.57,194.13 172.02,193.6 172.46,193.38 172.91,194.03 173.36,194.34 173.8,194.07 174.25,194.17 174.69,193.68 175.14,193.64 175.58,193.61 176.03,192.64 176.47,191.98 176.92,192.3 177.36,192.69 177.81,193.14 178.26,192.62 178.7,192.61 179.15,193.06 179.59,192.56 180.04,192.35 180.48,191.99 180.93,191.61 181.37,191.65 181.82,191.96 182.26,192.77 182.71,193.36 183.16,193.87 183.6,193.56 184.05,194.14 184.49,194 184.94,194.61 185.38,194.09 185.83,194.68 186.27,194.47 186.72,194.22 187.16,193.89 187.61,194.29 188.06,194.08 188.5,195.06 188.95,194.64 189.39,194.46 189.84,194.8 190.28,194.47 190.73,195.09 191.17,194.98 191.62,194.2 192.06,194.75" fill="none" stroke="#0d0d0d" stroke-width="0.75" stroke-linejoin="round"/>
<polyline points="85.6,200.33 86.05,200.78 86.49,200.84 86.94,200.77 87.38,201.36 87.83,201.59 88.27,201.26 88.72,201.97 89.16,201.65 89.61,201.27 90.05,201.28 90.5,201.26 90.95,200.93 91.39,201.43 91.84,201.83 92.28,201.94 92.73,202.17 93.17,203.42 93.62,204.27 94.06,205.3 94.51,206.07 94.95,208.11 95.4,209.43 95.85,210.14 96.29,210.25 96.74,210.63 97.18,211.2 97.63,211.48 98.07,211.54 98.52,211.6 98.96,211.9 99.41,211.9 99.85,211.94 100.3,211.28 100.75,210.71 101.19,210.37 101.64,210.39 102.08,210.72 102.53,211.02 102.97,210.9 103.42,210.75 103.86,210.8 104.31,211.05 104.75,210.54 105.2,210.65 105.65,210.48 106.09,210.62 106.54,210.94 106.98,210.71 107.43,209.95 107.87,210.45 108.32,209.95 108.76,209.66 109.21,209.74 109.65,209.04 110.1,209.19 110.55,210 110.99,210.2 111.44,210.13 111.88,210.2 112.33,209.84 112.77,210.68 113.22,210.46 113.66,209.9 114.11,209.49 114.55,209.71 115,209.92 115.45,210.07 115.89,209.93 116.34,209.92 116.78,210.82 117.23,211.05 117.67,210.26 118.12,210.41 118.56,210.54 119.01,210.61 119.45,211.46 119.9,211.45 120.35,211.67 120.79,211.82 121.24,211.74 121.68,211.54 122.13,210.68 122.57,210.03 123.02,209.47 123.46,209.41 123.91,210.46 124.36,210.01 124.8,210.21 125.25,210.57 125.69,209.7 126.14,209.5 126.58,209.51 127.03,208.71 127.47,209.29 127.92,209.97 128.36,210.38 128.81,211.28 129.26,210.93 129.7,211.22 130.15,211.19 130.59,209.98 131.04,209.59 131.48,209.77 131.93,209.44 132.37,209.4 132.82,209.47 133.26,209.88 133.71,210.08 134.16,210.1 134.6,209.59 135.05,209.52 135.49,210.07 135.94,209.71 136.38,210.2 136.83,210.23 137.27,210.39 137.72,210.74 138.16,210.74 138.61,210.22 139.06,210.68 139.5,210.71 139.95,210.49 140.39,210.41 140.84,210.23 141.28,210.24 141.73,210.15 142.17,209.39 142.62,208.69 143.06,208.74 143.51,209.12 143.96,209.3 144.4,209.72 144.85,209.89 145.29,210.45 145.74,210.66 146.18,210.33 146.63,210.26 147.07,210.68 147.52,210.83 147.96,210.35 148.41,210.75 148.86,210.84 149.3,211.44 149.75,210.65 150.19,210.29 150.64,210.04 151.08,210.22 151.53,210.8 151.97,210.91 152.42,210.59 152.86,210.95 153.31,210.69 153.76,211.17 154.2,212.06 154.65,212.12 155.09,212.05 155.54,212.22 155.98,212 156.43,212.56 156.87,211.79 157.32,211.3 157.76,211.3 158.21,211.4 158.66,210.7 159.1,211.51 159.55,211.61 159.99,211.46 160.44,211.38 160.88,211.03 161.33,210.48 161.77,211.13 162.22,210.16 162.66,210.17 163.11,210.08 163.56,210.01 164,209.53 164.45,209.47 164.89,209.95 165.34,210.46 165.78,210.01 166.23,209.71 166.67,209.66 167.12,209.75 167.56,209.23 168.01,209.68 168.46,209.28 168.9,209.3 169.35,209.76 169.79,210.05 170.24,209.35 170.68,210.63 171.13,210.68 171.57,211.36 172.02,211.01 172.46,211.08 172.91,210.8 173.36,211.54 173.8,211.62 174.25,211.08 174.69,210.68 175.14,210.83 175.58,210.21 176.03,210.5 176.47,211 176.92,210.48 177.36,210.82 177.81,210.74 178.26,211.27 178.7,211.76 179.15,212.5 179.59,212.24 180.04,212.28 180.48,212.25 180.93,212.41 181.37,211.32 181.82,210.52 182.26,210.18 182.71,210.08 183.16,210.45 183.6,211.24 184.05,211.24 184.49,210.75 184.94,211.19 185.38,211.13 185.83,211.51 186.27,211.88 186.72,210.73 187.16,210.68 187.61,211.62 188.06,212.3 188.5,212.37 188.95,212.71 189.39,212.89 189.84,213 190.28,212.8 190.73,213.1 191.17,211.83 191.62,211.75 192.06,211.46" fill="none" stroke="#0d0d0d" stroke-width="0.75" stroke-linejoin="round"/>
<polyline points="85.6,201.81 86.05,201.71 86.49,202.14 86.94,202.37 87.38,202.98 87.83,202.93 88.27,202.81 88.72,202.7 89.16,202.38 89.61,201.93 90.05,201.66 90.5,201.12 90.95,201.59 91.39,201.34 91.84,201.82 92.28,202.11 92.73,203.66 93.17,203.7 93.62,205.16 94.06,206.32 94.51,208.28 94.95,209.43 95.4,211.93 95.85,213.43 96.29,215.56 96.74,216.14 97.18,216.22 97.63,215.86 98.07,216.19 98.52,215.6 98.96,215.25 99.41,214.3 99.85,213.77 100.3,214.04 100.75,213.88 101.19,214.05 101.64,214.94 102.08,215.5 102.53,215.27 102.97,215.97 103.42,216.07 103.86,215.58 104.31,215.9 104.75,215.51 105.2,215.37 105.65,215.1 106.09,215.55 106.54,215.16 106.98,214.27 107.43,213.56 107.87,213.6 108.32,214.26 108.76,214.85 109.21,214.49 109.65,214.86 110.1,215.46 110.55,215.66 110.99,216.08 111.44,215.13 111.88,213.88 112.33,214.01 112.77,214.61 113.22,214.78 113.66,214.4 114.11,213.77 114.55,213.88 115,213.71 115.45,213.77 115.89,212.9 116.34,213.88 116.78,214.35 117.23,214.74 117.67,215.04 118.12,215.46 118.56,215.88 119.01,215.76 119.45,215.16 119.9,215.06 120.35,214.73 120.79,215.08 121.24,215.16 121.68,214.44 122.13,215.06 122.57,214.39 123.02,214.33 123.46,214.39 123.91,214.09 124.36,214.64 124.8,215.12 125.25,215.28 125.69,215.95 126.14,215.85 126.58,216.82 127.03,216.7 127.47,216.81 127.92,216.14 128.36,216.19 128.81,216.33 129.26,216.62 129.7,215.39 130.15,215.24 130.59,214.67 131.04,215.77 131.48,215.13 131.93,214.81 132.37,214.09 132.82,214.16 133.26,214.34 133.71,214.44 134.16,214.03 134.6,214.42 135.05,214.2 135.49,214.12 135.94,214.74 136.38,214.39 136.83,213.82 137.27,214.23 137.72,213.75 138.16,213.9 138.61,214.1 139.06,213.73 139.5,213.97 139.95,214.68 140.39,214.46 140.84,214.85 141.28,214.76 141.73,214.32 142.17,215.03 142.62,215.3 143.06,214.87 143.51,215.71 143.96,216.32 144.4,215.85 144.85,216.45 145.29,215.86 145.74,215.42 146.18,215.56 146.63,215.38 147.07,215.29 147.52,215.74 147.96,215.61 148.41,215.09 148.86,214.68 149.3,215.08 149.75,214.78 150.19,214.76 150.64,213.88 151.08,213.88 151.53,214.6 151.97,214.87 152.42,214.48 152.86,214.6 153.31,214.45 153.76,214.66 154.2,214.14 154.65,213.2 155.09,213.25 155.54,212.91 155.98,213.41 156.43,212.91 156.87,213.15 157.32,213.74 157.76,215.37 158.21,215.98 158.66,215.31 159.1,214.7 159.55,215.05 159.99,214.62 160.44,214.95 160.88,215.46 161.33,214.85 161.77,215.23 162.22,215.49 162.66,215.2 163.11,215.28 163.56,214.83 164,214.81 164.45,215.01 164.89,214.89 165.34,214.31 165.78,214.42 166.23,214.51 166.67,214.17 167.12,213.13 167.56,213.59 168.01,214.19 168.46,214.64 168.9,213.99 169.35,214.14 169.79,214.36 170.24,215.18 170.68,214.2 171.13,213.57 171.57,213.58 172.02,214.27 172.46,213.61 172.91,213.64 173.36,213.93 173.8,214.75 174.25,215.38 174.69,215.39 175.14,215.58 175.58,216.15 176.03,216.76 176.47,216.64 176.92,216.5 177.36,216.27 177.81,216.32 178.26,215.83 178.7,214.87 179.15,215.56 179.59,215.94 180.04,215.93 180.48,215.73 180.93,215.22 181.37,214.88 181.82,215.55 182.26,215.56 182.71,214.64 183.16,214.88 183.6,215.44 184.05,215.96 184.49,216.27 184.94,215.65 185.38,215.31 185.83,216.09 186.27,216.13 186.72,216.07 187.16,215.36 187.61,215.17 188.06,215.64 188.5,216.51 188.95,216.48 189.39,216.11 189.84,215.6 190.28,216.14 190.73,216.05 191.17,215.83 191.62,215.33 192.06,214.93" fill="none" stroke="#0d0d0d" stroke-width="0.75" stroke-linejoin="round"/>
<polyline points="85.6,205.88 86.05,206.19 86.49,206.26 86.94,205.57 87.38,205.65 87.83,206.49 88.27,206.49 88.72,206.43 89.16,206.41 89.61,206.52 90.05,206.54 90.5,206.32 90.95,206.55 91.39,206.99 91.84,207.4 92.28,207.6 92.73,207.75 93.17,208.32 93.62,209.68 94.06,210.81 94.51,212.65 94.95,215.11 95.4,218.58 95.85,221.39 96.29,222.71 96.74,224.04 97.18,225.03 97.63,225.29 98.07,225.18 98.52,225.08 98.96,224.24 99.41,224.29 99.85,224.02 100.3,223.71 100.75,223.52 101.19,223.24 101.64,223.31 102.08,223.17 102.53,223.38 102.97,223.4 103.42,223.54 103.86,223.44 104.31,223.19 104.75,223.33 105.2,223.69 105.65,223.47 106.09,223.52 106.54,223.38 106.98,223.25 107.43,223.36 107.87,222.86 108.32,222.93 108.76,223.11 109.21,223.78 109.65,223.95 110.1,223.76 110.55,224.05 110.99,224.23 111.44,224.17 111.88,224 112.33,223.76 112.77,223.92 113.22,224.27 113.66,224.68 114.11,224.28 114.55,224.08 115,223.97 115.45,224.34 115.89,224.68 116.34,224.73 116.78,224.41 117.23,224.64 117.67,224.53 118.12,224.19 118.56,223.95 119.01,223.98 119.45,223.74 119.9,223.53 120.35,223.78 120.79,223.21 121.24,222.98 121.68,223.72 122.13,223.94 122.57,223.57 123.02,224.04 123.46,224.24 123.91,224.5 124.36,224.55 124.8,224.77 125.25,225.09 125.69,225.04 126.14,224.76 126.58,224.16 127.03,224.85 127.47,225.06 127.92,224.59 128.36,224.9 128.81,224.82 129.26,224.24 129.7,224.51 130.15,224.05 130.59,224.22 131.04,224.25 131.48,224.07 131.93,224.25 132.37,224.15 132.82,223.82 133.26,223.66 133.71,223.18 134.16,223.43 134.6,223.4 135.05,223.59 135.49,224.17 135.94,223.88 136.38,224.29 136.83,224.37 137.27,224.08 137.72,223.92 138.16,224.18 138.61,224.19 139.06,224.35 139.5,224.69 139.95,224.31 140.39,224.47 140.84,225.31 141.28,225.41 141.73,225.29 142.17,225.16 142.62,224.84 143.06,224.82 143.51,224.92 143.96,224.38 144.4,224.26 144.85,223.63 145.29,223.62 145.74,223.38 146.18,223.58 146.63,223.25 147.07,223.5 147.52,223.88 147.96,224.78 148.41,224.92 148.86,225.39 149.3,225.48 149.75,225.56 150.19,225.67 150.64,225.14 151.08,224.93 151.53,225.21 151.97,225.16 152.42,224.87 152.86,224.56 153.31,224.6 153.76,224.43 154.2,224.23 154.65,224.15 155.09,224.06 155.54,223.45 155.98,223.2 156.43,223.21 156.87,223.14 157.32,222.84 157.76,223.12 158.21,223.32 158.66,223.98 159.1,224.21 159.55,224.24 159.99,224.71 160.44,225.12 160.88,225.04 161.33,224.35 161.77,224.23 162.22,223.96 162.66,223.96 163.11,223.54 163.56,223.07 164,222.52 164.45,222.71 164.89,223.15 165.34,223.56 165.78,223.51 166.23,223.84 166.67,224.39 167.12,224.54 167.56,224.84 168.01,224.82 168.46,224.46 168.9,224.01 169.35,223.88 169.79,224.1 170.24,223.97 170.68,223.72 171.13,223.55 171.57,224.3 172.02,224.42 172.46,224.77 172.91,224.82 173.36,224.5 173.8,224.62 174.25,224.21 174.69,223.93 175.14,223.89 175.58,223.31 176.03,223.76 176.47,224.25 176.92,224.17 177.36,224.01 177.81,223.71 178.26,223.92 178.7,224.05 179.15,223.71 179.59,223.81 180.04,223.78 180.48,223.94 180.93,224.16 181.37,224.32 181.82,223.96 182.26,223.74 182.71,223.76 183.16,223.92 183.6,223.88 184.05,224.19 184.49,223.39 184.94,223.38 185.38,223.39 185.83,223.18 186.27,223.3 186.72,223.75 187.16,223.83 187.61,224.2 188.06,224.3 188.5,224.37 188.95,224.17 189.39,223.94 189.84,224.75 190.28,224.53 190.73,224.49 191.17,224.52 191.62,224.58 192.06,224.92" fill="none" stroke="#0d0d0d" stroke-width="0.75" stroke-linejoin="round"/>
<polyline points="85.6,207.2 86.05,206.72 86.49,206.79 86.94,206.67 87.38,206.25 87.83,206.3 88.27,205.96 88.72,206.47 89.16,206.63 89.61,206.49 90.05,206.64 90.5,206.98 90.95,206.82 91.39,207.2 91.84,207.21 92.28,207.59 92.73,208.59 93.17,209.77 93.62,211.49 94.06,214.37 94.51,217.64 94.95,220.35 95.4,222.75 95.85,224.28 96.29,225.41 96.74,225.95 97.18,226.21 97.63,226.03 98.07,225.62 98.52,225.17 98.96,224.43 99.41,224.31 99.85,224.23 100.3,224.17 100.75,224.28 101.19,224.15 101.64,224.5 102.08,225.03 102.53,225.03 102.97,225.11 103.42,225.28 103.86,225.01 104.31,224.56 104.75,224.53 105.2,224.73 105.65,225.08 106.09,225.27 106.54,224.85 106.98,224.67 107.43,224.89 107.87,225.01 108.32,225.34 108.76,224.76 109.21,224.15 109.65,224.61 110.1,224.87 110.55,224.89 110.99,224.99 111.44,225.17 111.88,225.13 112.33,225.64 112.77,225.12 113.22,224.78 113.66,225.02 114.11,224.91 114.55,224.56 115,225.06 115.45,224.37 115.89,224.73 116.34,224.51 116.78,223.81 117.23,224.7 117.67,224.99 118.12,224.82 118.56,225.23 119.01,225.37 119.45,225.31 119.9,225.57 120.35,225.29 120.79,225.73 121.24,226.01 121.68,225.77 122.13,225.7 122.57,225.83 123.02,225.81 123.46,225.56 123.91,225.36 124.36,225.05 124.8,225.53 125.25,225.04 125.69,224.67 126.14,224.62 126.58,224.29 127.03,224.57 127.47,225.28 127.92,224.81 128.36,224.49 128.81,224.39 129.26,224.58 129.7,224.89 130.15,224.99 130.59,224.51 131.04,225.21 131.48,225.65 131.93,225.79 132.37,225.93 132.82,225.9 133.26,225.69 133.71,225.5 134.16,225.95 134.6,225.83 135.05,225.74 135.49,225.91 135.94,226.36 136.38,226.24 136.83,226.23 137.27,225.65 137.72,225.65 138.16,225.52 138.61,225.12 139.06,225.02 139.5,225.48 139.95,225.51 140.39,225.42 140.84,225.37 141.28,225.56 141.73,225.41 142.17,224.66 142.62,224.4 143.06,224.36 143.51,224.43 143.96,224.19 144.4,223.77 144.85,223.78 145.29,224.02 145.74,224.53 146.18,224.36 146.63,223.98 147.07,223.99 147.52,224.34 147.96,224.83 148.41,224.73 148.86,224.84 149.3,225.93 149.75,225.88 150.19,225.82 150.64,225.5 151.08,225.51 151.53,225.59 151.97,224.86 152.42,224.43 152.86,224.88 153.31,224.83 153.76,224.87 154.2,224.68 154.65,225.34 155.09,225.67 155.54,225.85 155.98,225.62 156.43,225.66 156.87,225.4 157.32,225.24 157.76,225.09 158.21,225.54 158.66,225.44 159.1,225.09 159.55,224.98 159.99,225.1 160.44,225.25 160.88,225.07 161.33,224.89 161.77,224.59 162.22,224.82 162.66,225.03 163.11,224.8 163.56,224.57 164,224.86 164.45,224.6 164.89,224.77 165.34,224.93 165.78,224.63 166.23,225.09 166.67,225 167.12,225.11 167.56,225.52 168.01,225.49 168.46,225.49 168.9,225.57 169.35,225.5 169.79,225.71 170.24,225.44 170.68,225.68 171.13,225.76 171.57,225.66 172.02,226.01 172.46,226.66 172.91,226.58 173.36,226.66 173.8,226.08 174.25,225.79 174.69,225.26 175.14,225.08 175.58,224.8 176.03,224.52 176.47,224.55 176.92,224.57 177.36,224.36 177.81,224.65 178.26,224.28 178.7,224.21 179.15,224.89 179.59,224.77 180.04,224.39 180.48,224.9 180.93,225.34 181.37,225.17 181.82,225.34 182.26,225.43 182.71,225.36 183.16,225.2 183.6,225.28 184.05,225 184.49,224.94 184.94,224.67 185.38,224.48 185.83,224.56 186.27,224.3 186.72,223.56 187.16,223.7 187.61,223.58 188.06,223.88 188.5,224.23 188.95,223.62 189.39,223.47 189.84,224.08 190.28,223.68 190.73,223.73 191.17,224.2 191.62,224.34 192.06,224.4" fill="none" stroke="#0d0d0d" stroke-width="0.75" stroke-linejoin="round"/>
<polyline points="85.6,206.36 86.05,206.6 86.49,206.68 86.94,206.91 87.38,206.78 87.83,207.25 88.27,206.99 88.72,207.18 89.16,206.98 89.61,206.93 90.05,207.31 90.5,207.34 90.95,206.84 91.39,207.24 91.84,207.24 92.28,207.86 92.73,208.62 93.17,210.14 93.62,211.92 94.06,214.55 94.51,217.73 94.95,220.79 95.4,222.51 95.85,224.15 96.29,224.64 96.74,225.58 97.18,225.46 97.63,225.58 98.07,225.2 98.52,224.95 98.96,224.88 99.41,225.74 99.85,225.99 100.3,225.84 100.75,226.13 101.19,225.92 101.64,225.95 102.08,225.92 102.53,225.6 102.97,225.34 103.42,225.67 103.86,225.51 104.31,225.56 104.75,225.26 105.2,225.19 105.65,224.78 106.09,224.75 106.54,224.68 106.98,225.24 107.43,225.16 107.87,224.85 108.32,225.43 108.76,225.75 109.21,225.26 109.65,225.17 110.1,224.78 110.55,224.64 110.99,225.15 111.44,225.18 111.88,225.5 112.33,225.68 112.77,225.64 113.22,225.96 113.66,226.63 114.11,226.23 114.55,225.84 115,225.74 115.45,225.52 115.89,225.4 116.34,225.2 116.78,224.84 117.23,224.84 117.67,224.46 118.12,225.55 118.56,225.73 119.01,225.5 119.45,225.26 119.9,225.42 120.35,225.55 120.79,225.76 121.24,225.13 121.68,225.59 122.13,225.94 122.57,226.52 123.02,225.94 123.46,225.98 123.91,225.98 124.36,226.12 124.8,225.63 125.25,225.68 125.69,225.8 126.14,225.76 126.58,225.5 127.03,225.81 127.47,225.45 127.92,225.32 128.36,224.84 128.81,224.32 129.26,224.86 129.7,224.76 130.15,224.66 130.59,225.48 131.04,225.33 131.48,225.53 131.93,226.02 132.37,225.8 132.82,226.11 133.26,226.25 133.71,225.72 134.16,225.14 134.6,225.14 135.05,225.43 135.49,225.45 135.94,225.08 136.38,225.38 136.83,225.24 137.27,224.79 137.72,224.73 138.16,225.8 138.61,225.54 139.06,226.33 139.5,226.61 139.95,225.81 140.39,225.96 140.84,226.33 141.28,226.29 141.73,225.66 142.17,225.19 142.62,225.45 143.06,225.79 143.51,225.8 143.96,226.13 144.4,225.88 144.85,225.93 145.29,226.1 145.74,225.91 146.18,225.45 146.63,225.22 147.07,225.14 147.52,224.91 147.96,224.9 148.41,225.06 148.86,225.68 149.3,226.11 149.75,226.08 150.19,226.34 150.64,226.09 151.08,226.41 151.53,226.91 151.97,226.58 152.42,225.86 152.86,225.75 153.31,225.33 153.76,225.06 154.2,224.93 154.65,224.74 155.09,223.7 155.54,224.4 155.98,224.98 156.43,225.09 156.87,225.18 157.32,225.73 157.76,225.72 158.21,226.07 158.66,225.62 159.1,225.75 159.55,225.48 159.99,225.54 160.44,224.85 160.88,224.85 161.33,225.07 161.77,225.31 162.22,225.29 162.66,225.68 163.11,225.71 163.56,225.98 164,225.77 164.45,225.63 164.89,225.98 165.34,226.3 165.78,226.35 166.23,226.01 166.67,225.75 167.12,226.05 167.56,226.1 168.01,225.8 168.46,226.1 168.9,226.38 169.35,226.24 169.79,226.6 170.24,226.77 170.68,227 171.13,227 171.57,227.2 172.02,226.46 172.46,226.41 172.91,226.33 173.36,226.47 173.8,226.29 174.25,226.47 174.69,225.88 175.14,225.27 175.58,225.23 176.03,225.02 176.47,224.51 176.92,224.74 177.36,225.11 177.81,225.5 178.26,225.28 178.7,225.56 179.15,225.77 179.59,225.89 180.04,225.84 180.48,225.65 180.93,225.52 181.37,226.21 181.82,225.93 182.26,226.09 182.71,226.35 183.16,226.27 183.6,226.03 184.05,226.39 184.49,226.07 184.94,225.89 185.38,225.85 185.83,225.71 186.27,225.49 186.72,225.98 187.16,226.03 187.61,226.14 188.06,225.75 188.5,225.58 188.95,225.61 189.39,225.8 189.84,225.37 190.28,225.69 190.73,226.01 191.17,226.13 191.62,226.27 192.06,227.05" fill="none" stroke="#0d0d0d" stroke-width="0.75" stroke-linejoin="round"/>
<polyline points="85.6,207.03 86.05,207.04 86.49,206.86 86.94,206.6 87.38,206.62 87.83,206.88 88.27,207.36 88.72,207.41 89.16,207.34 89.61,207.31 90.05,207.46 90.5,207.38 90.95,207.66 91.39,207.58 91.84,207.93 92.28,208.75 92.73,209.18 93.17,210.38 93.62,212.76 94.06,215.22 94.51,217.73 94.95,220.89 95.4,223.54 95.85,225.38 96.29,225.96 96.74,226.4 97.18,227.09 97.63,227.35 98.07,227.03 98.52,227 98.96,227.25 99.41,227.3 99.85,227.42 100.3,226.57 100.75,226.35 101.19,226.44 101.64,226.78 102.08,226.5 102.53,226.03 102.97,226.45 103.42,226.31 103.86,226.41 104.31,226.24 104.75,225.84 105.2,225.81 105.65,226.76 106.09,226.68 106.54,226.53 106.98,226.45 107.43,226.3 107.87,226.65 108.32,226.89 108.76,226 109.21,225.75 109.65,226.59 110.1,226.62 110.55,226.48 110.99,226.69 111.44,226.31 111.88,226.44 112.33,226.76 112.77,226.59 113.22,226.89 113.66,227.3 114.11,227.08 114.55,227.09 115,226.62 115.45,226.08 115.89,226.27 116.34,226.39 116.78,226.47 117.23,226.25 117.67,226.02 118.12,226.56 118.56,227.04 119.01,226.61 119.45,226.03 119.9,225.82 120.35,226.31 120.79,226.43 121.24,226.18 121.68,226.18 122.13,226.96 122.57,227 123.02,227.17 123.46,226.82 123.91,226.4 124.36,225.74 124.8,225.81 125.25,225.55 125.69,225.18 126.14,224.85 126.58,224.92 127.03,225.72 127.47,226.49 127.92,226.25 128.36,225.56 128.81,225.86 129.26,225.29 129.7,224.67 130.15,224.96 130.59,224.89 131.04,225.15 131.48,225.62 131.93,225.44 132.37,226.24 132.82,226.76 133.26,226.12 133.71,226.15 134.16,225.89 134.6,225.94 135.05,225.93 135.49,225.56 135.94,225.53 136.38,225.79 136.83,226.44 137.27,225.88 137.72,225.18 138.16,225.43 138.61,226.15 139.06,225.98 139.5,225.99 139.95,226.41 140.39,226.45 140.84,226.56 141.28,226.68 141.73,226.25 142.17,226.58 142.62,226.45 143.06,226.07 143.51,226.19 143.96,226.36 144.4,226.22 144.85,226.65 145.29,226.77 145.74,226.75 146.18,227.07 146.63,227.22 147.07,226.98 147.52,227.15 147.96,227.22 148.41,227.56 148.86,227.61 149.3,227.4 149.75,226.99 150.19,227.03 150.64,226.79 151.08,226.37 151.53,225.98 151.97,225.84 152.42,225.44 152.86,225.66 153.31,225.17 153.76,225.48 154.2,225.55 154.65,225.46 155.09,225.91 155.54,226.04 155.98,226.36 156.43,226.6 156.87,226.38 157.32,226.47 157.76,226.54 158.21,226.34 158.66,226.43 159.1,226.25 159.55,226.04 159.99,225.99 160.44,226.21 160.88,226.12 161.33,226.34 161.77,226.08 162.22,226.33 162.66,226.58 163.11,226.58 163.56,227.12 164,226.64 164.45,226.38 164.89,226 165.34,226.23 165.78,226.04 166.23,226.64 166.67,226.55 167.12,226.85 167.56,226.6 168.01,226.73 168.46,226.25 168.9,226.24 169.35,225.67 169.79,226.01 170.24,226.01 170.68,224.98 171.13,225.67 171.57,226.29 172.02,226.66 172.46,226.85 172.91,226.87 173.36,226.3 173.8,226.61 174.25,225.25 174.69,224.85 175.14,225.03 175.58,224.72 176.03,224.1 176.47,224.74 176.92,224.97 177.36,225.69 177.81,226.18 178.26,226 178.7,225.94 179.15,226.1 179.59,226.58 180.04,226.95 180.48,226.91 180.93,226.39 181.37,225.98 181.82,226.2 182.26,226.48 182.71,226.42 183.16,226.32 183.6,225.98 184.05,226.44 184.49,226.68 184.94,226.99 185.38,227.49 185.83,226.97 186.27,226.87 186.72,227.16 187.16,226.97 187.61,226.91 188.06,226.14 188.5,226.34 188.95,226.44 189.39,226.43 189.84,225.82 190.28,225.71 190.73,226.45 191.17,226.81 191.62,226.59 192.06,226.52" fill="none" stroke="#0d0d0d" stroke-width="0.75" stroke-linejoin="round"/>
<polyline points="85.6,207.43 86.05,206.9 86.49,207.71 86.94,207.79 87.38,207.54 87.83,208.06 88.27,208.46 88.72,209.09 89.16,209.28 89.61,209.03 90.05,208.79 90.5,209.02 90.95,209.11 91.39,208.82 91.84,208.82 92.28,209.4 92.73,209.62 93.17,210.29 93.62,211.49 94.06,213.44 94.51,215.25 94.95,216.73 95.4,220.45 95.85,223.32 96.29,224.67 96.74,225.58 97.18,225.99 97.63,227.02 98.07,227.3 98.52,227.18 98.96,227.5 99.41,227.73 99.85,227.25 100.3,227.04 100.75,226.17 101.19,226.56 101.64,226.67 102.08,226.44 102.53,226.68 102.97,227.02 103.42,227.56 103.86,227.36 104.31,227.1 104.75,226.94 105.2,226.51 105.65,225.87 106.09,225.91 106.54,226.13 106.98,226.44 107.43,226.83 107.87,226.65 108.32,227.36 108.76,228.42 109.21,228.3 109.65,227.65 110.1,227.34 110.55,227.39 110.99,227.3 111.44,226.92 111.88,226.6 112.33,226.57 112.77,227.15 113.22,226.73 113.66,226.7 114.11,226.72 114.55,226.36 115,226.77 115.45,226.91 115.89,226.98 116.34,226.89 116.78,226.64 117.23,227.16 117.67,227.83 118.12,227.31 118.56,227.34 119.01,227.27 119.45,227.37 119.9,227.84 120.35,227.58 120.79,227.27 121.24,227.85 121.68,227.71 122.13,227.8 122.57,228.58 123.02,227.96 123.46,228.02 123.91,227.94 124.36,227.7 124.8,227.59 125.25,226.97 125.69,226.23 126.14,225.93 126.58,225.98 127.03,226.14 127.47,225.98 127.92,226.24 128.36,226.21 128.81,226.47 129.26,227.28 129.7,227.28 130.15,226.95 130.59,227.27 131.04,227.45 131.48,227.33 131.93,227.08 132.37,226.61 132.82,227.09 133.26,227.4 133.71,226.94 134.16,226.85 134.6,227.02 135.05,226.56 135.49,226.94 135.94,227.26 136.38,227 136.83,226.61 137.27,226.15 137.72,226.43 138.16,226.86 138.61,227.01 139.06,226.75 139.5,227.14 139.95,227.12 140.39,227.3 140.84,227.07 141.28,227.34 141.73,227.25 142.17,227.3 142.62,227.42 143.06,227.66 143.51,227.86 143.96,227.74 144.4,227.18 144.85,227.29 145.29,227.51 145.74,226.74 146.18,226.67 146.63,226.59 147.07,226.8 147.52,226.78 147.96,227.43 148.41,226.92 148.86,226.64 149.3,226.41 149.75,226.63 150.19,226.43 150.64,226.39 151.08,226.16 151.53,226.39 151.97,226.39 152.42,226.71 152.86,227.19 153.31,227.22 153.76,227.55 154.2,227.99 154.65,227.99 155.09,228.26 155.54,227.78 155.98,226.95 156.43,226.67 156.87,226.98 157.32,227.3 157.76,227.14 158.21,227.01 158.66,227.34 159.1,227.57 159.55,227.85 159.99,227.55 160.44,227.52 160.88,227.54 161.33,226.91 161.77,227.04 162.22,226.62 162.66,226.54 163.11,226.43 163.56,226.88 164,227.52 164.45,227.2 164.89,227.18 165.34,227.7 165.78,227.43 166.23,227.56 166.67,227.16 167.12,227.32 167.56,227.8 168.01,227.55 168.46,227.65 168.9,227.57 169.35,227.18 169.79,227.29 170.24,227.48 170.68,227.39 171.13,227.6 171.57,227.35 172.02,227.13 172.46,227.28 172.91,227.06 173.36,227.14 173.8,227.19 174.25,226.73 174.69,227.05 175.14,227.17 175.58,227.62 176.03,228.04 176.47,228.16 176.92,227.92 177.36,228.21 177.81,228.01 178.26,228.18 178.7,227.8 179.15,227.82 179.59,227.74 180.04,227.95 180.48,227.49 180.93,227.34 181.37,227.4 181.82,227.69 182.26,227.24 182.71,227.35 183.16,227.23 183.6,226.96 184.05,227.26 184.49,226.89 184.94,226.72 185.38,227.33 185.83,226.96 186.27,227.38 186.72,227.45 187.16,227.3 187.61,227.56 188.06,227.19 188.5,226.69 188.95,227.08 189.39,226.87 189.84,226.92 190.28,226.86 190.73,227.29 191.17,227.77 191.62,227.89 192.06,228.12" fill="none" stroke="#0d0d0d" stroke-width="0.75" stroke-linejoin="round"/>
</g>
<line x1="81.4" y1="146.3" x2="81.4" y2="231.6" stroke="#111" stroke-width="1.2"/>
<line x1="80.8" y1="231" x2="197.5" y2="231" stroke="#111" stroke-width="1.2"/>
<line x1="85.6" y1="231" x2="85.6" y2="227.4" stroke="#111" stroke-width="1.1"/>
<text x="85.6" y="245.2" font-size="12.5" fill="#1a1a1a" text-anchor="middle" font-family='"Liberation Serif", serif'>0</text>
<line x1="139.1" y1="231" x2="139.1" y2="227.4" stroke="#111" stroke-width="1.1"/>
<text x="139.1" y="245.2" font-size="12.5" fill="#1a1a1a" text-anchor="middle" font-family='"Liberation Serif", serif'>5</text>
<line x1="192.6" y1="231" x2="192.6" y2="227.4" stroke="#111" stroke-width="1.1"/>
<text x="192.6" y="245.2" font-size="12.5" fill="#1a1a1a" text-anchor="middle" font-family='"Liberation Serif", serif'>10</text>
<line x1="81.4" y1="160.9" x2="85" y2="160.9" stroke="#111" stroke-width="1.1"/>
<text x="76.8" y="165.2" font-size="13.0" fill="#1a1a1a" text-anchor="end" font-family='"Liberation Serif", serif'>2</text>
<line x1="81.4" y1="188.9" x2="85" y2="188.9" stroke="#111" stroke-width="1.1"/>
<text x="76.8" y="193.2" font-size="13.0" fill="#1a1a1a" text-anchor="end" font-family='"Liberation Serif", serif'>0</text>
<line x1="81.4" y1="216.9" x2="85" y2="216.9" stroke="#111" stroke-width="1.1"/>
<text x="76.8" y="221.2" font-size="13.0" fill="#1a1a1a" text-anchor="end" font-family='"Liberation Serif", serif'>2</text>
<text x="69.7" y="221.2" font-size="13.0" fill="#1a1a1a" text-anchor="end" font-family='"Liberation Serif", serif' textLength="8.4" lengthAdjust="spacingAndGlyphs">−</text>
<path d="M48.2 141.9 L86.7 141.9 L86.7 152.5" fill="none" stroke="#b4b4b4" stroke-width="1.3"/>
<path d="M86.7 156.5 L83.8 149.9 L86.7 151.6 L89.6 149.9 Z" fill="#b4b4b4"/>
<text x="51.6" y="189.6" font-size="12.3" fill="#1a1a1a" text-anchor="middle" font-family='"Liberation Sans", sans-serif' transform="rotate(-90 51.6 189.6)" textLength="56" lengthAdjust="spacingAndGlyphs" stroke="#1a1a1a" stroke-width="0.22">Voltage [V]</text>
<text x="137.8" y="263" font-size="12.3" fill="#1a1a1a" text-anchor="middle" font-family='"Liberation Sans", sans-serif' textLength="46.8" lengthAdjust="spacingAndGlyphs" stroke="#1a1a1a" stroke-width="0.22">Time [µs]</text>
<text x="105.5" y="141.8" font-size="12.1" fill="#7678c2" text-anchor="middle" font-family='"Liberation Sans", sans-serif'>solve</text>
<text x="154.3" y="141.8" font-size="12.1" fill="#4fa897" text-anchor="middle" font-family='"Liberation Sans", sans-serif'>sample</text>
<line x1="194.3" y1="192.9" x2="204.98" y2="192.9" stroke="#111" stroke-width="1.2"/>
<path d="M209.3 192.9 L202.1 189.52 L204.26 192.9 L202.1 196.28 Z" fill="#111"/>
<path d="M212.5 152.6 L222.1 161.9 L222.1 214.7 L212.5 224.5 Z" fill="#9c9c9c" stroke="#222" stroke-width="1.2"/>
<rect x="222.1" y="161.9" width="13.6" height="52.8" fill="#a9a9a9" stroke="#222" stroke-width="1.2"/>
<text x="225" y="188.3" font-size="12.8" fill="#ececec" text-anchor="middle" font-family='"Liberation Sans", sans-serif' transform="rotate(90 225 188.3)">softmax</text>
<line x1="238.4" y1="192.9" x2="248.68" y2="192.9" stroke="#111" stroke-width="1.2"/>
<path d="M253 192.9 L245.8 189.52 L247.96 192.9 L245.8 196.28 Z" fill="#111"/>
<rect x="282.6" y="166" width="49.9" height="6.2" fill="#e2f0ed" stroke="#333" stroke-width="0.7" stroke-dasharray="1 0.9"/>
<rect x="284.4" y="167.46" width="42" height="3.28" fill="#4aa391"/>
<rect x="284.4" y="176.84" width="41.2" height="3.28" fill="#4aa391"/>
<rect x="284.4" y="190.9" width="37.2" height="3.28" fill="#4aa391"/>
<line x1="284.4" y1="169.1" x2="288" y2="169.1" stroke="#000" stroke-width="1.3"/>
<line x1="284.4" y1="183.17" x2="288" y2="183.17" stroke="#000" stroke-width="1.3"/>
<line x1="284.4" y1="197.23" x2="288" y2="197.23" stroke="#000" stroke-width="1.3"/>
<line x1="284.4" y1="211.3" x2="288" y2="211.3" stroke="#000" stroke-width="1.3"/>
<line x1="284.4" y1="214.9" x2="284.4" y2="211.5" stroke="#000" stroke-width="1.1"/>
<line x1="307.65" y1="214.9" x2="307.65" y2="211.5" stroke="#000" stroke-width="1.1"/>
<line x1="330.9" y1="214.9" x2="330.9" y2="211.5" stroke="#000" stroke-width="1.1"/>
<rect x="284.4" y="165.5" width="46.5" height="49.4" fill="none" stroke="#111" stroke-width="1.2"/>
<text x="276.8" y="173.3" font-size="12.5" fill="#1a1a1a" text-anchor="middle" font-family='"Liberation Serif", serif'>9</text>
<text x="276.8" y="187.37" font-size="12.5" fill="#1a1a1a" text-anchor="middle" font-family='"Liberation Serif", serif'>6</text>
<text x="276.8" y="201.43" font-size="12.5" fill="#1a1a1a" text-anchor="middle" font-family='"Liberation Serif", serif'>3</text>
<text x="276.8" y="215.5" font-size="12.5" fill="#1a1a1a" text-anchor="middle" font-family='"Liberation Serif", serif'>0</text>
<text x="266" y="190.7" font-size="12.3" fill="#1a1a1a" text-anchor="middle" font-family='"Liberation Sans", sans-serif' transform="rotate(-90 266 190.7)" textLength="26.8" lengthAdjust="spacingAndGlyphs" stroke="#1a1a1a" stroke-width="0.22">Class</text>
<text x="283" y="227.9" font-size="12.5" fill="#1a1a1a" text-anchor="middle" font-family='"Liberation Serif", serif'>10<tspan dy="-4.0" font-size="9">−4</tspan></text>
<text x="306.25" y="227.9" font-size="12.5" fill="#1a1a1a" text-anchor="middle" font-family='"Liberation Serif", serif'>10<tspan dy="-4.0" font-size="9">−2</tspan></text>
<text x="330.5" y="227.9" font-size="12.5" fill="#1a1a1a" text-anchor="middle" font-family='"Liberation Serif", serif'>10<tspan dy="-4.0" font-size="9">0</tspan></text>
<text x="307.3" y="146" font-size="11.5" fill="#4fa897" text-anchor="middle" font-family='"Liberation Sans", sans-serif'>Sampled</text>
<text x="307.3" y="159.6" font-size="11.5" fill="#4fa897" text-anchor="middle" font-family='"Liberation Sans", sans-serif'>result</text>
<rect x="348.1" y="126.2" width="29.8" height="29.4" fill="#000"/>
<clipPath id="cpp"><rect x="348.1" y="126.2" width="29.8" height="29.4"/></clipPath>
<filter id="bl" x="-10%" y="-10%" width="120%" height="120%"><feGaussianBlur stdDeviation="0.35"/></filter>
<g clip-path="url(#cpp)"><g filter="url(#bl)">
<path d="M358.11 125.93 C355.08 127.29 354.18 131.06 353.95 137.11 L351.91 155.99 L355.46 155.99 L357.2 140.88 L369.28 140.88 L370.79 155.99 L374.27 155.99 L372.61 137.11 C372.31 131.06 371.32 127.29 368.3 125.93 Z" fill="#d4d4d4"/>
<path d="M357.73 125.93 L368.68 125.93 L370.64 131.82 L369.44 153.34 L357.05 153.34 L355.84 131.82 Z" fill="#bababa"/>
<path d="M361.28 128.95 L361.28 136.8 M365.66 128.95 L365.66 136.8" stroke="#141414" stroke-width="1.0" fill="none"/>
<path d="M357.05 139.75 L356.29 154.1 M369.44 139.75 L370.19 154.1" stroke="#2a2a2a" stroke-width="0.7" fill="none"/>
<path d="M362.79 129.25 L362.79 136.35 M364.15 129.25 L364.15 136.35" stroke="#9a9a9a" stroke-width="0.5" fill="none"/>
</g></g>
<path d="M382.4 130.3 L390.7 133.3 L390.7 148.4 L382.4 151.5 Z" fill="#adadad" stroke="#222" stroke-width="1.2" stroke-linejoin="miter"/>
<text x="346.6" y="164.8" font-size="10.2" fill="#1a1a1a" text-anchor="start" font-family='"Liberation Sans", sans-serif' textLength="33.4" lengthAdjust="spacingAndGlyphs">label=2</text>
<text x="412" y="136.6" font-size="11.8" fill="#b9b9b9" text-anchor="middle" font-family='"Liberation Sans", sans-serif'>inject</text>
<rect x="427.6" y="146.5" width="9.93" height="85.3" fill="#ebebeb"/>
<rect x="437.53" y="146.5" width="29.51" height="85.3" fill="#cbcbe9"/>
<rect x="467.04" y="146.5" width="69.74" height="85.3" fill="#d1e6e2"/>
<line x1="437.96" y1="146.5" x2="437.96" y2="231.8" stroke="#e0423c" stroke-width="2.0" stroke-dasharray="6.4 2.6"/>
<line x1="441.82" y1="146.5" x2="441.82" y2="231.8" stroke="#2e9a58" stroke-width="2.0" stroke-dasharray="6.4 2.6"/>
<line x1="445.15" y1="146.5" x2="445.15" y2="231.8" stroke="#3c62c4" stroke-width="2.0" stroke-dasharray="6.4 2.6"/>
<line x1="449.01" y1="146.5" x2="449.01" y2="231.8" stroke="#c8cf45" stroke-width="2.0" stroke-dasharray="6.4 2.6"/>
<polyline points="432.7,187.39 434.05,187.39 435.4,187.26 436.75,185.5 438.11,188.07 439.46,185.86 440.81,185.09 442.16,184.63 443.51,180.38 444.86,180.3 446.21,178.27 447.57,178.76 448.92,175.17 450.27,175.71 451.62,174.22 452.97,173.53 454.32,175.02 455.67,170.54 457.03,167.93 458.38,167.24 459.73,168.69 461.08,173.77 462.43,167.93 463.78,168 465.13,170.98 466.49,171.49 467.84,169 469.19,171.72 470.54,168.39 471.89,173.82 473.24,174.29 474.59,173.67 475.95,177.6 477.3,173.71 478.65,172.37 480,177.65 481.35,170.66 482.7,175.01 484.05,171.79 485.41,172.56 486.76,173.31 488.11,172.85 489.46,174.71 490.81,173.52 492.16,173.81 493.51,168.36 494.87,169.87 496.22,175.67 497.57,170.18 498.92,171.46 500.27,172.7 501.62,172.69 502.97,169.7 504.33,172.67 505.68,173.01 507.03,169.98 508.38,171.06 509.73,169.83 511.08,171.6 512.43,172.19 513.79,172.72 515.14,170.15 516.49,170.11 517.84,169.67 519.19,171.46 520.54,169.77 521.89,171.46 523.25,169.8 524.6,170.07 525.95,175.08 527.3,172.36 528.65,173.57 530,174.11 531.35,167.04 532.71,169.81 534.06,174.34 535.41,169.58 536.76,170.58 538.11,167.36 539.46,170.25" fill="none" stroke="#16211f" stroke-width="0.62" stroke-linejoin="round"/>
<polyline points="432.7,188.39 434.05,186.43 435.4,186.69 436.75,187.22 438.11,185.33 439.46,183.75 440.81,183.71 442.16,182.71 443.51,177.99 444.86,176.34 446.21,180.2 447.57,178.08 448.92,176.83 450.27,177.01 451.62,179.84 452.97,173.92 454.32,175.34 455.67,175.02 457.03,172.67 458.38,176.2 459.73,174.95 461.08,174.69 462.43,176.31 463.78,174.68 465.13,173.82 466.49,174.78 467.84,171.84 469.19,177.51 470.54,175.99 471.89,178.6 473.24,176.36 474.59,177.15 475.95,171.35 477.3,172.37 478.65,172.58 480,168.44 481.35,169.2 482.7,172.83 484.05,176.43 485.41,179.39 486.76,177.58 488.11,178.36 489.46,178.34 490.81,177.89 492.16,180.55 493.51,173.6 494.87,180.92 496.22,178.74 497.57,175.34 498.92,180.17 500.27,174.16 501.62,173.32 502.97,176.67 504.33,177.88 505.68,175.96 507.03,178.99 508.38,171.29 509.73,174.7 511.08,176.34 512.43,177.01 513.79,174.11 515.14,172.98 516.49,179.29 517.84,179.37 519.19,181.68 520.54,175.86 521.89,176.3 523.25,171.24 524.6,174.3 525.95,175.03 527.3,176.44 528.65,172.58 530,178.7 531.35,175.53 532.71,177.21 534.06,176.98 535.41,177 536.76,171.9 538.11,169.38 539.46,174.6" fill="none" stroke="#16211f" stroke-width="0.62" stroke-linejoin="round"/>
<polyline points="432.7,187.34 434.05,188.43 435.4,187.41 436.75,189.03 438.11,187.96 439.46,186.9 440.81,186.71 442.16,187.55 443.51,185.84 444.86,186.45 446.21,187 447.57,182.97 448.92,180.63 450.27,179.08 451.62,184.17 452.97,178.41 454.32,177.61 455.67,178.41 457.03,182.91 458.38,173.6 459.73,174.99 461.08,175.81 462.43,181.38 463.78,181.03 465.13,174.97 466.49,174.59 467.84,176.55 469.19,178.38 470.54,176.56 471.89,180.03 473.24,178.91 474.59,179.71 475.95,177.17 477.3,179.45 478.65,174.73 480,175.2 481.35,178.42 482.7,173.64 484.05,180.32 485.41,177.28 486.76,177.23 488.11,176.88 489.46,185.19 490.81,177.48 492.16,175.85 493.51,174.9 494.87,183.5 496.22,178.57 497.57,177.36 498.92,180.24 500.27,175.22 501.62,180.58 502.97,175.82 504.33,177.85 505.68,181.01 507.03,180.13 508.38,178.51 509.73,176.73 511.08,174.46 512.43,177.35 513.79,174.76 515.14,180.81 516.49,185.63 517.84,178.73 519.19,176.66 520.54,178.83 521.89,180.2 523.25,176.13 524.6,173.77 525.95,179.24 527.3,179.79 528.65,180.93 530,175.67 531.35,179.6 532.71,178.71 534.06,176.86 535.41,176.9 536.76,180.5 538.11,176.56 539.46,176.23" fill="none" stroke="#16211f" stroke-width="0.62" stroke-linejoin="round"/>
<polyline points="432.7,188.05 434.05,187.19 435.4,187.49 436.75,187.98 438.11,185.11 439.46,187.86 440.81,184.14 442.16,186.29 443.51,183.44 444.86,179.72 446.21,186.18 447.57,183.28 448.92,177.27 450.27,178.71 451.62,179.99 452.97,178.34 454.32,180.55 455.67,178.25 457.03,174.98 458.38,178.44 459.73,177.17 461.08,175.03 462.43,173.28 463.78,179.63 465.13,178.56 466.49,179.51 467.84,180.39 469.19,179.88 470.54,179.94 471.89,182.45 473.24,184.48 474.59,182.11 475.95,180.13 477.3,178.54 478.65,182.09 480,181.3 481.35,179.26 482.7,179.24 484.05,181.1 485.41,181.53 486.76,176.43 488.11,180.93 489.46,181.06 490.81,184.3 492.16,178.92 493.51,181.74 494.87,176.9 496.22,182.23 497.57,179.21 498.92,179.65 500.27,177.66 501.62,183.6 502.97,177.02 504.33,180.46 505.68,179.77 507.03,179.66 508.38,180.39 509.73,180.79 511.08,185.93 512.43,177.99 513.79,179.28 515.14,182.38 516.49,179.56 517.84,172.9 519.19,179.82 520.54,181.45 521.89,176.39 523.25,181.99 524.6,180.93 525.95,181.51 527.3,181.38 528.65,180.41 530,180.6 531.35,184.55 532.71,183.07 534.06,181.21 535.41,181.29 536.76,180.62 538.11,181.55 539.46,180.99" fill="none" stroke="#16211f" stroke-width="0.62" stroke-linejoin="round"/>
<polyline points="432.7,191.07 434.05,190.4 435.4,191.74 436.75,190.08 438.11,189.75 439.46,188.14 440.81,189.75 442.16,188.2 443.51,190.44 444.86,188.19 446.21,186.39 447.57,186.27 448.92,186.79 450.27,186.48 451.62,188.28 452.97,189.57 454.32,186.85 455.67,185.86 457.03,187.17 458.38,186.16 459.73,185.07 461.08,191.78 462.43,187.86 463.78,185.64 465.13,186.86 466.49,183.42 467.84,185.41 469.19,188.16 470.54,187.17 471.89,184.04 473.24,186.2 474.59,185.28 475.95,183.23 477.3,184.34 478.65,181.93 480,186.18 481.35,186.14 482.7,188.01 484.05,188.98 485.41,188.07 486.76,193.68 488.11,186.17 489.46,185.63 490.81,188.84 492.16,188.81 493.51,185.82 494.87,188.36 496.22,186.82 497.57,182.3 498.92,186.29 500.27,185.66 501.62,186.95 502.97,185.81 504.33,187.6 505.68,187.49 507.03,185.19 508.38,190.21 509.73,187.96 511.08,185.35 512.43,188.99 513.79,186 515.14,188.71 516.49,185.32 517.84,184.35 519.19,182.69 520.54,185.69 521.89,187.57 523.25,185.36 524.6,184.11 525.95,182.69 527.3,191.33 528.65,186.59 530,191.98 531.35,186.75 532.71,187.18 534.06,186.52 535.41,184.47 536.76,185.15 538.11,186.45 539.46,185.38" fill="none" stroke="#16211f" stroke-width="0.62" stroke-linejoin="round"/>
<polyline points="432.7,186.67 434.05,186.73 435.4,187.73 436.75,187.59 438.11,187.63 439.46,186.99 440.81,187.66 442.16,188.37 443.51,188.35 444.86,187.84 446.21,187.41 447.57,187.96 448.92,185.34 450.27,187.32 451.62,188.25 452.97,186.09 454.32,188.74 455.67,187.52 457.03,191.29 458.38,184.25 459.73,185.67 461.08,184.85 462.43,182.78 463.78,183.75 465.13,186.71 466.49,181.32 467.84,186.75 469.19,184 470.54,181.75 471.89,186.22 473.24,183.94 474.59,187.18 475.95,183.84 477.3,188.36 478.65,190.75 480,186.03 481.35,186.12 482.7,189.97 484.05,185.3 485.41,186.98 486.76,180.1 488.11,183.17 489.46,188.2 490.81,186.15 492.16,188.08 493.51,185.72 494.87,185.09 496.22,183.02 497.57,184.79 498.92,188.29 500.27,186.96 501.62,181.56 502.97,182.59 504.33,185.93 505.68,186.2 507.03,186.74 508.38,187.02 509.73,190.94 511.08,184.73 512.43,187.91 513.79,185.87 515.14,191.6 516.49,184.57 517.84,181.5 519.19,189.94 520.54,181.12 521.89,183.78 523.25,187.42 524.6,190.13 525.95,183.87 527.3,186.87 528.65,187.24 530,189.06 531.35,189.51 532.71,185.84 534.06,189.04 535.41,183.7 536.76,189.55 538.11,188.89 539.46,189.74" fill="none" stroke="#16211f" stroke-width="0.62" stroke-linejoin="round"/>
<polyline points="432.7,191.92 434.05,192.72 435.4,192.68 436.75,192.65 438.11,193.27 439.46,194.08 440.81,193.13 442.16,192.81 443.51,189.04 444.86,188.06 446.21,191.35 447.57,191.22 448.92,190.85 450.27,189.45 451.62,193.16 452.97,194.46 454.32,187.6 455.67,189.78 457.03,196.63 458.38,197.53 459.73,196.2 461.08,193.79 462.43,191.56 463.78,192.64 465.13,195.16 466.49,190.08 467.84,188.79 469.19,190.4 470.54,192.19 471.89,189.91 473.24,191.64 474.59,193.81 475.95,190.37 477.3,194.07 478.65,189.59 480,190.15 481.35,194.15 482.7,192.56 484.05,189.22 485.41,196.08 486.76,192.47 488.11,189.24 489.46,196.79 490.81,194.74 492.16,197.57 493.51,194.38 494.87,199.03 496.22,197.92 497.57,194.99 498.92,193.78 500.27,192.29 501.62,191.34 502.97,189.01 504.33,190.31 505.68,189.02 507.03,193.16 508.38,191.59 509.73,183.38 511.08,184.37 512.43,188.21 513.79,188.26 515.14,187.6 516.49,191.59 517.84,187.07 519.19,193.1 520.54,192.7 521.89,187.77 523.25,197.19 524.6,191.14 525.95,196.19 527.3,194.53 528.65,192.81 530,193.28 531.35,192.49 532.71,194.25 534.06,191.68 535.41,194.61 536.76,193.94 538.11,196.46 539.46,192.19" fill="none" stroke="#16211f" stroke-width="0.62" stroke-linejoin="round"/>
<polyline points="432.7,189.49 434.05,191.03 435.4,191.73 436.75,189.03 438.11,189.29 439.46,189.37 440.81,188.04 442.16,188.33 443.51,192.39 444.86,190.35 446.21,189.26 447.57,193.8 448.92,192.94 450.27,190.84 451.62,193.31 452.97,195.36 454.32,194.35 455.67,196.59 457.03,191.84 458.38,197.12 459.73,190.38 461.08,196 462.43,192.81 463.78,196.44 465.13,194.42 466.49,191.66 467.84,192.03 469.19,190.07 470.54,193.5 471.89,191.2 473.24,190.35 474.59,188.88 475.95,191.11 477.3,187.23 478.65,190.43 480,189.06 481.35,190.56 482.7,189.51 484.05,192.38 485.41,191.56 486.76,192.74 488.11,190.22 489.46,191 490.81,189.95 492.16,195.5 493.51,185.47 494.87,193.42 496.22,189.02 497.57,188.92 498.92,197.51 500.27,191.66 501.62,187.09 502.97,197.25 504.33,189.12 505.68,191.99 507.03,191.16 508.38,190.16 509.73,196.02 511.08,190.55 512.43,192.96 513.79,193.31 515.14,190.05 516.49,182.88 517.84,191.22 519.19,191.12 520.54,192.05 521.89,194.06 523.25,190.28 524.6,187.19 525.95,189.69 527.3,189.1 528.65,190.96 530,184.49 531.35,194.44 532.71,190.5 534.06,190.26 535.41,190.82 536.76,195.53 538.11,196.41 539.46,193.34" fill="none" stroke="#16211f" stroke-width="0.62" stroke-linejoin="round"/>
<polyline points="432.7,189.17 434.05,190.61 435.4,189.92 436.75,189.5 438.11,190.73 439.46,188.72 440.81,190.56 442.16,190.86 443.51,195.95 444.86,196.37 446.21,198.37 447.57,192.31 448.92,193.25 450.27,190.52 451.62,189.62 452.97,195.08 454.32,194.82 455.67,191.69 457.03,190.74 458.38,195.52 459.73,192.5 461.08,195.65 462.43,195.56 463.78,191.28 465.13,196.88 466.49,198.08 467.84,193.53 469.19,195.51 470.54,194.95 471.89,193.86 473.24,191.8 474.59,192.88 475.95,191.03 477.3,191.9 478.65,189.08 480,189.14 481.35,191.31 482.7,193.37 484.05,193.83 485.41,196.13 486.76,188.1 488.11,195.74 489.46,193.87 490.81,191.59 492.16,197.85 493.51,196.6 494.87,195.3 496.22,195.82 497.57,196.53 498.92,194.94 500.27,190.66 501.62,191.45 502.97,194.35 504.33,194.46 505.68,198.29 507.03,192.34 508.38,193.17 509.73,196.37 511.08,194.23 512.43,195.71 513.79,198.28 515.14,199.14 516.49,197.97 517.84,196.73 519.19,192.58 520.54,190.39 521.89,191.03 523.25,193.03 524.6,195.39 525.95,190.11 527.3,200.59 528.65,192.64 530,193.52 531.35,193.52 532.71,194.16 534.06,192.91 535.41,196.31 536.76,198.96 538.11,196.08 539.46,200.95" fill="none" stroke="#16211f" stroke-width="0.62" stroke-linejoin="round"/>
<polyline points="432.7,189.06 434.05,187.81 435.4,190.22 436.75,188.83 438.11,188.98 439.46,190.41 440.81,192.03 442.16,189.89 443.51,192.93 444.86,191.16 446.21,193.11 447.57,194.69 448.92,195.3 450.27,193.93 451.62,195.36 452.97,196.73 454.32,194.63 455.67,193.6 457.03,194.62 458.38,194.4 459.73,195.43 461.08,193.46 462.43,195.02 463.78,195.26 465.13,188.54 466.49,193.73 467.84,192.52 469.19,197.5 470.54,194.17 471.89,196.71 473.24,186.92 474.59,196.28 475.95,196.69 477.3,191.6 478.65,192.11 480,200.15 481.35,196.45 482.7,193.53 484.05,198.59 485.41,194.31 486.76,197.84 488.11,198.34 489.46,196.52 490.81,196.97 492.16,198.79 493.51,189.05 494.87,194.94 496.22,196.33 497.57,192.01 498.92,193.82 500.27,190.23 501.62,194.77 502.97,193.39 504.33,194.66 505.68,194.62 507.03,196.06 508.38,195.48 509.73,191.48 511.08,196.31 512.43,196.38 513.79,196.62 515.14,193.71 516.49,193.32 517.84,192.77 519.19,197.78 520.54,193.73 521.89,195.24 523.25,195.42 524.6,193.71 525.95,198.77 527.3,193.1 528.65,194.25 530,198.46 531.35,195.5 532.71,191.05 534.06,194.29 535.41,190.76 536.76,192.33 538.11,194.65 539.46,194.82" fill="none" stroke="#16211f" stroke-width="0.62" stroke-linejoin="round"/>
<polyline points="432.7,187.4 434.05,186.61 435.4,186.51 436.75,187.95 438.11,189.06 439.46,188.1 440.81,189.17 442.16,189.32 443.51,191.55 444.86,193.68 446.21,194.17 447.57,194.03 448.92,197.6 450.27,196.92 451.62,200.47 452.97,196.61 454.32,193.85 455.67,201.89 457.03,196.15 458.38,195.77 459.73,197.58 461.08,196.58 462.43,198.74 463.78,199.07 465.13,195.37 466.49,194.94 467.84,195.67 469.19,193.45 470.54,193.5 471.89,198.43 473.24,191.4 474.59,192.62 475.95,197.24 477.3,192.2 478.65,195.33 480,196.51 481.35,192.82 482.7,202.49 484.05,200.67 485.41,195.67 486.76,198.09 488.11,199.53 489.46,194.89 490.81,196.34 492.16,199.27 493.51,197.02 494.87,193.95 496.22,191.41 497.57,200.48 498.92,196.43 500.27,198.22 501.62,200.84 502.97,197.21 504.33,201.18 505.68,198.45 507.03,193.51 508.38,196.95 509.73,196.84 511.08,196.4 512.43,196.72 513.79,196.82 515.14,200.37 516.49,198.15 517.84,198.57 519.19,201.84 520.54,199.15 521.89,195.71 523.25,193.29 524.6,196.05 525.95,196.1 527.3,194.11 528.65,194.96 530,197.3 531.35,193.91 532.71,194.29 534.06,196.04 535.41,189.71 536.76,195.28 538.11,196.37 539.46,196.48" fill="none" stroke="#16211f" stroke-width="0.62" stroke-linejoin="round"/>
<polyline points="432.7,186.86 434.05,188.96 435.4,190.15 436.75,189.3 438.11,189.13 439.46,189.84 440.81,192.75 442.16,191.85 443.51,195.82 444.86,192.12 446.21,195.91 447.57,198 448.92,197.5 450.27,199.78 451.62,204.97 452.97,199.53 454.32,204.55 455.67,207.29 457.03,200.12 458.38,199.73 459.73,201.02 461.08,204.11 462.43,208.25 463.78,203.14 465.13,201.91 466.49,205.2 467.84,201.73 469.19,208.36 470.54,204.7 471.89,204.25 473.24,208.3 474.59,208.98 475.95,205.81 477.3,203.62 478.65,201.99 480,203.72 481.35,202.74 482.7,202.32 484.05,202.69 485.41,202 486.76,202.67 488.11,205.16 489.46,205 490.81,206.66 492.16,202.86 493.51,205.79 494.87,200.35 496.22,204.34 497.57,202.93 498.92,206.45 500.27,204.57 501.62,203.37 502.97,203.46 504.33,204.98 505.68,204.95 507.03,202.58 508.38,202.37 509.73,201.79 511.08,201.43 512.43,205.64 513.79,210.24 515.14,206.15 516.49,208.71 517.84,207.5 519.19,202.08 520.54,202.31 521.89,204.45 523.25,205.1 524.6,203.46 525.95,208.01 527.3,203.03 528.65,205.73 530,200.24 531.35,206.28 532.71,200.7 534.06,204.81 535.41,200.74 536.76,206.42 538.11,202.86 539.46,205.79" fill="none" stroke="#16211f" stroke-width="0.62" stroke-linejoin="round"/>
<line x1="427.6" y1="146.5" x2="427.6" y2="232.4" stroke="#111" stroke-width="1.2"/>
<line x1="427" y1="231.8" x2="544.8" y2="231.8" stroke="#111" stroke-width="1.2"/>
<line x1="432.7" y1="231.8" x2="432.7" y2="228.2" stroke="#111" stroke-width="1.1"/>
<text x="432.7" y="246" font-size="12.5" fill="#1a1a1a" text-anchor="middle" font-family='"Liberation Serif", serif'>0</text>
<line x1="486.35" y1="231.8" x2="486.35" y2="228.2" stroke="#111" stroke-width="1.1"/>
<text x="486.35" y="246" font-size="12.5" fill="#1a1a1a" text-anchor="middle" font-family='"Liberation Serif", serif'>5</text>
<line x1="540" y1="231.8" x2="540" y2="228.2" stroke="#111" stroke-width="1.1"/>
<text x="540" y="246" font-size="12.5" fill="#1a1a1a" text-anchor="middle" font-family='"Liberation Serif", serif'>10</text>
<line x1="427.6" y1="160.7" x2="431.2" y2="160.7" stroke="#111" stroke-width="1.1"/>
<text x="423" y="165" font-size="13.0" fill="#1a1a1a" text-anchor="end" font-family='"Liberation Serif", serif'>2</text>
<line x1="427.6" y1="188.9" x2="431.2" y2="188.9" stroke="#111" stroke-width="1.1"/>
<text x="423" y="193.2" font-size="13.0" fill="#1a1a1a" text-anchor="end" font-family='"Liberation Serif", serif'>0</text>
<line x1="427.6" y1="217.1" x2="431.2" y2="217.1" stroke="#111" stroke-width="1.1"/>
<text x="423" y="221.4" font-size="13.0" fill="#1a1a1a" text-anchor="end" font-family='"Liberation Serif", serif'>2</text>
<text x="415.9" y="221.4" font-size="13.0" fill="#1a1a1a" text-anchor="end" font-family='"Liberation Serif", serif' textLength="8.4" lengthAdjust="spacingAndGlyphs">−</text>
<path d="M393.8 141.9 L432.4 141.9 L432.4 152.5" fill="none" stroke="#b4b4b4" stroke-width="1.3"/>
<path d="M432.4 156.5 L429.5 149.9 L432.4 151.6 L435.3 149.9 Z" fill="#b4b4b4"/>
<text x="397" y="189.8" font-size="12.3" fill="#1a1a1a" text-anchor="middle" font-family='"Liberation Sans", sans-serif' transform="rotate(-90 397 189.8)" textLength="56" lengthAdjust="spacingAndGlyphs" stroke="#1a1a1a" stroke-width="0.22">Voltage [V]</text>
<text x="486.6" y="263.6" font-size="12.3" fill="#1a1a1a" text-anchor="middle" font-family='"Liberation Sans", sans-serif' textLength="46.8" lengthAdjust="spacingAndGlyphs" stroke="#1a1a1a" stroke-width="0.22">Time [µs]</text>
<text x="452.5" y="143.4" font-size="12.1" fill="#7678c2" text-anchor="middle" font-family='"Liberation Sans", sans-serif'>solve</text>
<text x="501.5" y="143.4" font-size="12.1" fill="#4fa897" text-anchor="middle" font-family='"Liberation Sans", sans-serif'>sample</text>
<line x1="541.6" y1="190.3" x2="550.08" y2="190.3" stroke="#111" stroke-width="1.2"/>
<path d="M554.4 190.3 L547.2 186.92 L549.36 190.3 L547.2 193.68 Z" fill="#111"/>
<path d="M557.7 150 L567.4 160.3 L567.4 212.7 L557.7 222.8 Z" fill="#9c9c9c" stroke="#222" stroke-width="1.2"/>
<rect x="567.4" y="160.3" width="13.6" height="52.4" fill="#a9a9a9" stroke="#222" stroke-width="1.2"/>
<text x="570.3" y="186.5" font-size="12.8" fill="#ececec" text-anchor="middle" font-family='"Liberation Sans", sans-serif' transform="rotate(90 570.3 186.5)">softmax</text>
<line x1="583.6" y1="190.3" x2="593.68" y2="190.3" stroke="#111" stroke-width="1.2"/>
<path d="M598 190.3 L590.8 186.92 L592.96 190.3 L590.8 193.68 Z" fill="#111"/>
<rect x="627.6" y="197.78" width="49.7" height="6.2" fill="#e2f0ed" stroke="#333" stroke-width="0.7" stroke-dasharray="1 0.9"/>
<rect x="629.4" y="180.82" width="33.4" height="3.23" fill="#4aa391"/>
<rect x="629.4" y="190.04" width="35" height="3.23" fill="#4aa391"/>
<rect x="629.4" y="194.65" width="16.5" height="3.23" fill="#4aa391"/>
<rect x="629.4" y="199.26" width="44.6" height="3.23" fill="#4aa391"/>
<rect x="629.4" y="203.88" width="22.4" height="3.23" fill="#4aa391"/>
<rect x="629.4" y="208.49" width="20.7" height="3.23" fill="#4aa391"/>
<line x1="629.4" y1="168.6" x2="633" y2="168.6" stroke="#000" stroke-width="1.3"/>
<line x1="629.4" y1="182.43" x2="633" y2="182.43" stroke="#000" stroke-width="1.3"/>
<line x1="629.4" y1="196.27" x2="633" y2="196.27" stroke="#000" stroke-width="1.3"/>
<line x1="629.4" y1="210.1" x2="633" y2="210.1" stroke="#000" stroke-width="1.3"/>
<line x1="629.4" y1="213.7" x2="629.4" y2="210.3" stroke="#000" stroke-width="1.1"/>
<line x1="652.55" y1="213.7" x2="652.55" y2="210.3" stroke="#000" stroke-width="1.1"/>
<line x1="675.7" y1="213.7" x2="675.7" y2="210.3" stroke="#000" stroke-width="1.1"/>
<rect x="629.4" y="164.3" width="46.3" height="49.4" fill="none" stroke="#111" stroke-width="1.2"/>
<text x="621.6" y="172.8" font-size="12.5" fill="#1a1a1a" text-anchor="middle" font-family='"Liberation Serif", serif'>9</text>
<text x="621.6" y="186.63" font-size="12.5" fill="#1a1a1a" text-anchor="middle" font-family='"Liberation Serif", serif'>6</text>
<text x="621.6" y="200.47" font-size="12.5" fill="#1a1a1a" text-anchor="middle" font-family='"Liberation Serif", serif'>3</text>
<text x="621.6" y="214.3" font-size="12.5" fill="#1a1a1a" text-anchor="middle" font-family='"Liberation Serif", serif'>0</text>
<text x="610" y="189.85" font-size="12.3" fill="#1a1a1a" text-anchor="middle" font-family='"Liberation Sans", sans-serif' transform="rotate(-90 610 189.85)" textLength="26.8" lengthAdjust="spacingAndGlyphs" stroke="#1a1a1a" stroke-width="0.22">Class</text>
<text x="628" y="225.3" font-size="12.5" fill="#1a1a1a" text-anchor="middle" font-family='"Liberation Serif", serif'>10<tspan dy="-4.0" font-size="9">−4</tspan></text>
<text x="651.15" y="225.3" font-size="12.5" fill="#1a1a1a" text-anchor="middle" font-family='"Liberation Serif", serif'>10<tspan dy="-4.0" font-size="9">−2</tspan></text>
<text x="675.3" y="225.3" font-size="12.5" fill="#1a1a1a" text-anchor="middle" font-family='"Liberation Serif", serif'>10<tspan dy="-4.0" font-size="9">0</tspan></text>
<text x="652.6" y="147.7" font-size="11.5" fill="#4fa897" text-anchor="middle" font-family='"Liberation Sans", sans-serif'>Sampled</text>
<text x="652.6" y="160.8" font-size="11.5" fill="#4fa897" text-anchor="middle" font-family='"Liberation Sans", sans-serif'>result</text>
<text x="651.55" y="244.4" font-size="12.3" fill="#1a1a1a" text-anchor="middle" font-family='"Liberation Sans", sans-serif' textLength="55" lengthAdjust="spacingAndGlyphs" stroke="#1a1a1a" stroke-width="0.22">Probability</text>
<text x="7.8" y="293.2" font-size="10.5" fill="#1a1a1a" text-anchor="start" font-family='"Liberation Sans", sans-serif' font-weight="bold">c</text>
<rect x="107.2" y="292.6" width="10.96" height="172.7" fill="#ebebeb"/>
<rect x="118.16" y="292.6" width="29.16" height="172.7" fill="#cbcbe9"/>
<rect x="147.32" y="292.6" width="68.72" height="172.7" fill="#d1e6e2"/>
<text x="131.4" y="289.2" font-size="12.1" fill="#7678c2" text-anchor="middle" font-family='"Liberation Sans", sans-serif'>solve</text>
<text x="180.6" y="289.2" font-size="12.1" fill="#4fa897" text-anchor="middle" font-family='"Liberation Sans", sans-serif'>sample</text>
<clipPath id="cpc1"><rect x="107.2" y="292.6" width="117.39999999999999" height="66.69999999999999"/></clipPath><g clip-path="url(#cpc1)">
<polyline points="112.41,346.71 113.52,348.62 114.63,347.66 115.59,349.89 116.38,348.62 117.02,354.98 117.5,361.02 118.13,363.25 118.77,359.75 119.56,348.62 120.36,337.49 121.47,323.17 122.58,321.9 123.86,319.99 125.13,310.45 126.72,296.13 128.31,308.86 130.22,318.4 132.13,308.86 133.72,300.9 135.31,308.86 136.9,315.22 138.17,310.45 139.76,307.27 141.03,312.04 142.15,316.01 143.26,313.63 144.53,316.81 145.81,319.19 146.92,315.22 148.03,312.83 149.3,315.22 150.58,316.81 151.69,319.19 152.8,310.45 154.87,299.31 156.46,307.27 158.05,314.42 159.17,308.86 160.44,312.04 162.03,330.33 163.3,319.99 165.21,305.68 166.8,316.81 168.07,308.86 169.98,308.06 172.37,327.94 173.96,316.81 176.34,314.42 178.73,305.68 180.33,318.26 182.05,309.43 183.78,305 185.5,316.06 187.23,310.53 188.95,319.37 190.68,312.3 192.4,313.85 194.13,310.97 195.85,323.79 197.58,314.95 199.3,309.43 201.03,302.8 202.75,317.16 204.48,300.58 206.2,328.21 207.93,303.9 209.65,306.11 211.38,324.89 213.1,319.37 214.83,313.85 216.55,307.21 218.28,310.53 220,318.26" fill="none" stroke="#151515" stroke-width="0.9" stroke-linejoin="round"/>
</g>
<path d="M147.32 313.29 L224.6 313.29 C238.6 313.29 239.6 347.2 255.6 347.2" fill="none" stroke="#4aa391" stroke-width="1.25"/>
<path d="M252.2 343.6 L256.4 347.2 L252.2 350.8" fill="none" stroke="#4aa391" stroke-width="1.25" stroke-linecap="round" stroke-linejoin="round"/>
<text x="181.6" y="345.6" font-size="12.1" fill="#4fa897" text-anchor="middle" font-family='"Liberation Sans", sans-serif'>(average)</text>
<rect x="107.2" y="292.6" width="117.4" height="66.7" fill="none" stroke="#111" stroke-width="1.3"/>
<line x1="107.2" y1="303.9" x2="110.8" y2="303.9" stroke="#111" stroke-width="1.1"/>
<text x="102.8" y="308.2" font-size="13.0" fill="#1a1a1a" text-anchor="end" font-family='"Liberation Serif", serif'>1</text>
<line x1="107.2" y1="326" x2="110.8" y2="326" stroke="#111" stroke-width="1.1"/>
<text x="102.8" y="330.3" font-size="13.0" fill="#1a1a1a" text-anchor="end" font-family='"Liberation Serif", serif'>0</text>
<line x1="107.2" y1="348.1" x2="110.8" y2="348.1" stroke="#111" stroke-width="1.1"/>
<text x="102.8" y="352.4" font-size="13.0" fill="#1a1a1a" text-anchor="end" font-family='"Liberation Serif", serif'>1</text>
<text x="95.7" y="352.4" font-size="13.0" fill="#1a1a1a" text-anchor="end" font-family='"Liberation Serif", serif' textLength="8.4" lengthAdjust="spacingAndGlyphs">−</text>
<line x1="112.8" y1="359.3" x2="112.8" y2="355.7" stroke="#111" stroke-width="1.1"/>
<line x1="166.4" y1="359.3" x2="166.4" y2="355.7" stroke="#111" stroke-width="1.1"/>
<line x1="220" y1="359.3" x2="220" y2="355.7" stroke="#111" stroke-width="1.1"/>
<text x="78" y="326.5" font-size="11.5" fill="#1a1a1a" text-anchor="middle" font-family='"Liberation Sans", sans-serif' font-weight="bold" transform="rotate(-90 78 326.5)">y</text>
<rect x="6.8" y="366.4" width="54.4" height="19.9" fill="#fff" stroke="#222" stroke-width="1.0" stroke-dasharray="2.6 1.5"/>
<text x="33.7" y="379.8" font-size="11.6" fill="#1a1a1a" text-anchor="middle" font-family='"DejaVu Sans Mono", "Liberation Mono", monospace' stroke="#1a1a1a" stroke-width="0.25">x=-0.55</text>
<path d="M65.2 368.7 L73.3 365.8 L73.3 386.3 L65.2 383.6 Z" fill="#adadad" stroke="#222" stroke-width="1.2" stroke-linejoin="miter"/>
<text x="92" y="371.2" font-size="11.8" fill="#b9b9b9" text-anchor="middle" font-family='"Liberation Sans", sans-serif'>inject</text>
<path d="M75.3 374.9 L113.3 374.9 L113.3 387" fill="none" stroke="#b4b4b4" stroke-width="1.3"/>
<path d="M113.3 391 L110.4 384.4 L113.3 386.1 L116.2 384.4 Z" fill="#b4b4b4"/>
<path d="M114.4 373.7 L116.1 368.3 L125.3 368.3 L127 373.7 Z" fill="#a8a8a8" stroke="#2a2a2a" stroke-width="1.1" stroke-linejoin="round"/>
<line x1="120.7" y1="374.9" x2="120.7" y2="366.4" stroke="#111" stroke-width="0.9"/>
<path d="M120.7 363.2 L118.8 367.3 L122.6 367.3 Z" fill="#111"/>
<path d="M137.2 373.7 L138.9 368.3 L148.1 368.3 L149.8 373.7 Z" fill="#a8a8a8" stroke="#2a2a2a" stroke-width="1.1" stroke-linejoin="round"/>
<line x1="143.5" y1="374.9" x2="143.5" y2="366.4" stroke="#111" stroke-width="0.9"/>
<path d="M143.5 363.2 L141.6 367.3 L145.4 367.3 Z" fill="#111"/>
<path d="M160.1 373.7 L161.8 368.3 L171 368.3 L172.7 373.7 Z" fill="#a8a8a8" stroke="#2a2a2a" stroke-width="1.1" stroke-linejoin="round"/>
<line x1="166.4" y1="374.9" x2="166.4" y2="366.4" stroke="#111" stroke-width="0.9"/>
<path d="M166.4 363.2 L164.5 367.3 L168.3 367.3 Z" fill="#111"/>
<path d="M182.9 373.7 L184.6 368.3 L193.8 368.3 L195.5 373.7 Z" fill="#a8a8a8" stroke="#2a2a2a" stroke-width="1.1" stroke-linejoin="round"/>
<line x1="189.2" y1="374.9" x2="189.2" y2="366.4" stroke="#111" stroke-width="0.9"/>
<path d="M189.2 363.2 L187.3 367.3 L191.1 367.3 Z" fill="#111"/>
<path d="M206 373.7 L207.7 368.3 L216.9 368.3 L218.6 373.7 Z" fill="#a8a8a8" stroke="#2a2a2a" stroke-width="1.1" stroke-linejoin="round"/>
<line x1="212.3" y1="374.9" x2="212.3" y2="366.4" stroke="#111" stroke-width="0.9"/>
<path d="M212.3 363.2 L210.4 367.3 L214.2 367.3 Z" fill="#111"/>
<clipPath id="cpc2"><rect x="107.2" y="380.0" width="117.39999999999999" height="85.30000000000001"/></clipPath><g clip-path="url(#cpc2)">
<polyline points="112.8,406.21 113.52,405.84 114.23,405.03 114.95,405.99 115.66,405.45 116.38,405.47 117.1,406.38 117.81,404.27 118.53,405.56 119.24,403.49 119.96,400.93 120.67,394.99 121.39,389.82 122.11,386.89 122.82,386.7 123.54,387.33 124.25,387.36 124.97,388.62 125.69,390.07 126.4,389.51 127.12,390.63 127.83,390.86 128.55,391.66 129.26,389.87 129.98,389.79 130.7,389.08 131.41,388.25 132.13,388.19 132.84,387.86 133.56,388.38 134.28,387.72 134.99,387.12 135.71,386.62 136.42,387.68 137.14,388.48 137.86,388.41 138.57,388.32 139.29,386.84 140,389.37 140.72,389.07 141.43,391.08 142.15,391.14 142.87,389.33 143.58,388.88 144.3,386.92 145.01,386.52 145.73,386.08 146.45,385.68 147.16,385.9 147.88,387.71 148.59,387.31 149.31,388.01 150.03,389.04 150.74,388.53 151.46,389.47 152.17,388.56 152.89,386.88 153.6,387.54 154.32,387.91 155.04,388.45 155.75,388.32 156.47,388.21 157.18,387.98 157.9,389.03 158.62,387.32 159.33,387.47 160.05,387.77 160.76,387.36 161.48,387.25 162.19,386.09 162.91,386.14 163.63,385.5 164.34,386.99 165.06,387.75 165.77,388.07 166.49,388.7 167.21,388.83 167.92,388.19 168.64,386.99 169.35,388.66 170.07,387.82 170.79,389.96 171.5,391.06 172.22,388.12 172.93,386.44 173.65,386.85 174.36,386.72 175.08,386.9 175.8,388.39 176.51,386.19 177.23,386.18 177.94,386.6 178.66,387.57 179.38,388.8 180.09,388.18 180.81,387.42 181.52,387.85 182.24,388.54 182.95,387.51 183.67,388.36 184.39,389.42 185.1,388.98 185.82,387.82 186.53,389.45 187.25,387.18 187.97,387.95 188.68,386.93 189.4,384.53 190.11,386.3 190.83,388.55 191.55,388.16 192.26,386.91 192.98,387.97 193.69,386.73 194.41,386.74 195.12,389 195.84,388.85 196.56,388.7 197.27,388.77 197.99,387.74 198.7,386.78 199.42,386.42 200.14,386.78 200.85,387.2 201.57,389.63 202.28,391.16 203,389.06 203.71,390.37 204.43,388.74 205.15,386.96 205.86,387.03 206.58,385.6 207.29,385.8 208.01,385.76 208.73,388.23 209.44,387.77 210.16,389.86 210.87,391.17 211.59,390.33 212.31,389.94 213.02,389.13 213.74,389.26 214.45,389.42 215.17,387.65 215.88,390.33 216.6,388.42 217.32,386.97 218.03,387.11 218.75,388.88 219.46,387.85" fill="none" stroke="#111" stroke-width="0.8" stroke-linejoin="round"/>
<polyline points="112.8,406.38 113.52,405.28 114.23,407.08 114.95,406.55 115.66,405.99 116.38,406.04 117.1,406.98 117.81,404.81 118.53,403.15 119.24,404.58 119.96,401.14 120.67,399.21 121.39,395.93 122.11,390.33 122.82,388.03 123.54,385.74 124.25,386.45 124.97,385.53 125.69,388.27 126.4,388.56 127.12,389.05 127.83,388.83 128.55,388.36 129.26,388.24 129.98,389.31 130.7,390.16 131.41,389.25 132.13,390.72 132.84,391.81 133.56,393.38 134.28,392.78 134.99,392 135.71,391.62 136.42,388.42 137.14,388.84 137.86,389.49 138.57,390.29 139.29,391.14 140,391.38 140.72,390.11 141.43,387.83 142.15,386.61 142.87,387.47 143.58,390.32 144.3,390.77 145.01,392.75 145.73,389.96 146.45,389.65 147.16,389.58 147.88,391.23 148.59,390.59 149.31,390.47 150.03,390.49 150.74,389.27 151.46,390.85 152.17,389.94 152.89,390.03 153.6,390.06 154.32,388.61 155.04,389.67 155.75,390.17 156.47,389.24 157.18,390.37 157.9,389.3 158.62,388.62 159.33,389.5 160.05,390.02 160.76,390.5 161.48,390.34 162.19,390.75 162.91,390.71 163.63,390.84 164.34,391.83 165.06,390.75 165.77,390.72 166.49,389.97 167.21,390.29 167.92,391.6 168.64,390.46 169.35,389.86 170.07,389.15 170.79,388.85 171.5,387.73 172.22,388.57 172.93,390.27 173.65,389.84 174.36,389.97 175.08,390.84 175.8,390.51 176.51,390.84 177.23,391.26 177.94,390.37 178.66,390.19 179.38,389.59 180.09,389.63 180.81,388.67 181.52,387.75 182.24,388.45 182.95,389.83 183.67,390.26 184.39,389.3 185.1,390.07 185.82,390.08 186.53,390.41 187.25,392.72 187.97,392.26 188.68,392.43 189.4,392.39 190.11,392.3 190.83,391.23 191.55,391.92 192.26,391.85 192.98,389.05 193.69,389.62 194.41,388.42 195.12,388.51 195.84,391.71 196.56,389.8 197.27,392.98 197.99,390.56 198.7,391.02 199.42,391.83 200.14,389.52 200.85,390.5 201.57,392.51 202.28,390.65 203,391.99 203.71,391.47 204.43,390.66 205.15,390.07 205.86,389.42 206.58,388.54 207.29,389.25 208.01,390.54 208.73,390.19 209.44,389.92 210.16,390.13 210.87,387.94 211.59,388.36 212.31,388.38 213.02,387.9 213.74,390.97 214.45,391.12 215.17,391.11 215.88,389.99 216.6,388.41 217.32,389.45 218.03,388.94 218.75,390.94 219.46,391.97" fill="none" stroke="#111" stroke-width="0.8" stroke-linejoin="round"/>
<polyline points="112.8,405.24 113.52,406.15 114.23,404.39 114.95,405.85 115.66,406.05 116.38,405.39 117.1,404.05 117.81,405.38 118.53,405.09 119.24,405.19 119.96,403.32 120.67,401.8 121.39,399.01 122.11,395.71 122.82,393.64 123.54,392.42 124.25,391.73 124.97,392.24 125.69,390.31 126.4,394.11 127.12,395.8 127.83,397.62 128.55,398.52 129.26,396.58 129.98,393.97 130.7,392.99 131.41,393.06 132.13,396.32 132.84,398.11 133.56,397.82 134.28,397.47 134.99,396.83 135.71,394.9 136.42,396.01 137.14,395.69 137.86,393.11 138.57,395.43 139.29,395.96 140,395.12 140.72,395.76 141.43,395.35 142.15,395.72 142.87,395.25 143.58,394.57 144.3,395.52 145.01,395.75 145.73,395.89 146.45,397.27 147.16,397.54 147.88,397.4 148.59,396.51 149.31,395.67 150.03,394.38 150.74,394.39 151.46,395.69 152.17,392.84 152.89,393.94 153.6,393.49 154.32,392.89 155.04,394.75 155.75,396.35 156.47,396.09 157.18,394.02 157.9,394.38 158.62,393.76 159.33,393.41 160.05,395.17 160.76,393.78 161.48,393.88 162.19,395.06 162.91,394.23 163.63,393.82 164.34,393.81 165.06,393.21 165.77,392.24 166.49,393.06 167.21,395.32 167.92,393.91 168.64,395.9 169.35,395.85 170.07,395.07 170.79,395.96 171.5,395.94 172.22,396.04 172.93,396.15 173.65,396.04 174.36,395.47 175.08,395.77 175.8,393.72 176.51,395.19 177.23,392.5 177.94,392.41 178.66,393.57 179.38,394.19 180.09,394.78 180.81,395.32 181.52,394.52 182.24,393.19 182.95,393.79 183.67,392.58 184.39,394.61 185.1,392.96 185.82,394.35 186.53,395.66 187.25,394.71 187.97,393.72 188.68,393.51 189.4,394.52 190.11,393.73 190.83,396.26 191.55,397.62 192.26,395.94 192.98,396.98 193.69,395.56 194.41,395.7 195.12,397.19 195.84,394.83 196.56,396.39 197.27,395.51 197.99,395.18 198.7,394.29 199.42,395.52 200.14,396.65 200.85,395.95 201.57,396.06 202.28,394.37 203,394.53 203.71,395.22 204.43,395.14 205.15,397.28 205.86,394.8 206.58,396.25 207.29,395.94 208.01,394.78 208.73,394.89 209.44,394.83 210.16,394.45 210.87,396.86 211.59,397.59 212.31,396.26 213.02,395.95 213.74,393.59 214.45,395.49 215.17,397.18 215.88,395.6 216.6,396.28 217.32,395.16 218.03,395.25 218.75,395.59 219.46,396.89" fill="none" stroke="#111" stroke-width="0.8" stroke-linejoin="round"/>
<polyline points="112.8,418.33 113.52,417.1 114.23,417.05 114.95,417.35 115.66,416.53 116.38,416.59 117.1,417.55 117.81,418.57 118.53,418.51 119.24,418.56 119.96,417.44 120.67,416.47 121.39,414.76 122.11,412.92 122.82,411.68 123.54,412.6 124.25,412.39 124.97,412.41 125.69,413.38 126.4,412.91 127.12,413.02 127.83,413.43 128.55,412.38 129.26,413.19 129.98,413.62 130.7,414.68 131.41,414.08 132.13,415.07 132.84,415.97 133.56,416.26 134.28,415.61 134.99,414.77 135.71,413.74 136.42,411.52 137.14,413.39 137.86,414.58 138.57,414.11 139.29,414.36 140,414.07 140.72,414.37 141.43,412.54 142.15,414.04 142.87,414.95 143.58,416.08 144.3,416.91 145.01,414.69 145.73,413.44 146.45,414.62 147.16,416.14 147.88,416.87 148.59,417.76 149.31,416.73 150.03,414.94 150.74,414.42 151.46,415.27 152.17,414.95 152.89,416.32 153.6,415.35 154.32,415.38 155.04,412.86 155.75,412.61 156.47,412.83 157.18,413.46 157.9,414.96 158.62,413.73 159.33,414.8 160.05,413.3 160.76,414.04 161.48,413.8 162.19,414.98 162.91,417.38 163.63,415.69 164.34,414.96 165.06,414.81 165.77,413.31 166.49,415.65 167.21,416.11 167.92,416.9 168.64,416.34 169.35,413.97 170.07,415.81 170.79,412.37 171.5,413.37 172.22,411.2 172.93,412.62 173.65,413.95 174.36,413.52 175.08,414.06 175.8,413.22 176.51,411.59 177.23,413.12 177.94,415.16 178.66,414.99 179.38,413.53 180.09,411.7 180.81,411.43 181.52,413.12 182.24,415.02 182.95,416.24 183.67,415.44 184.39,414.09 185.1,415.33 185.82,413.82 186.53,415.26 187.25,414.86 187.97,414.24 188.68,414.35 189.4,414.34 190.11,414.37 190.83,413.76 191.55,414.49 192.26,412.83 192.98,414.42 193.69,415.97 194.41,415.2 195.12,415.86 195.84,415.92 196.56,413.63 197.27,413.7 197.99,414.32 198.7,414.13 199.42,414.91 200.14,415.36 200.85,414.17 201.57,415.06 202.28,415.02 203,414.1 203.71,414.2 204.43,413.56 205.15,412.48 205.86,411.93 206.58,412.49 207.29,411.56 208.01,411.69 208.73,413.19 209.44,413.48 210.16,415.68 210.87,413.92 211.59,413.67 212.31,414.93 213.02,413.53 213.74,412.6 214.45,413.29 215.17,412.85 215.88,411.47 216.6,411.56 217.32,411.9 218.03,413.39 218.75,414.69 219.46,414.73" fill="none" stroke="#111" stroke-width="0.8" stroke-linejoin="round"/>
<polyline points="112.8,415.62 113.52,414.9 114.23,416.14 114.95,417.36 115.66,415.86 116.38,415.14 117.1,413.82 117.81,414.72 118.53,415.2 119.24,414.18 119.96,414.14 120.67,414.38 121.39,415.93 122.11,415.64 122.82,416.66 123.54,416.75 124.25,415.83 124.97,416.04 125.69,417.8 126.4,417.32 127.12,417.14 127.83,417.73 128.55,417.31 129.26,415.19 129.98,415.1 130.7,413.61 131.41,414.36 132.13,414.95 132.84,415.12 133.56,417.64 134.28,417.42 134.99,417.74 135.71,417.01 136.42,415.74 137.14,416.77 137.86,414.52 138.57,415.42 139.29,414.71 140,415.89 140.72,415.47 141.43,415.5 142.15,416.98 142.87,417.02 143.58,414.99 144.3,415.92 145.01,416.08 145.73,414.66 146.45,416.32 147.16,414.27 147.88,415.69 148.59,418.26 149.31,418.02 150.03,417.84 150.74,417.71 151.46,416.5 152.17,416.19 152.89,416.35 153.6,415.91 154.32,415 155.04,414.48 155.75,414.12 156.47,415.78 157.18,416 157.9,416.54 158.62,414.85 159.33,414.06 160.05,414.25 160.76,415.59 161.48,415.58 162.19,418.36 162.91,417.28 163.63,416.73 164.34,417.17 165.06,416.67 165.77,416.41 166.49,416.18 167.21,415.17 167.92,416.89 168.64,416.56 169.35,416.39 170.07,415.83 170.79,414.95 171.5,415.07 172.22,416.45 172.93,416.57 173.65,418.65 174.36,417.7 175.08,418.22 175.8,418.37 176.51,416.56 177.23,416.46 177.94,417.31 178.66,416.37 179.38,415.79 180.09,415.13 180.81,413.68 181.52,414.42 182.24,416.86 182.95,417.11 183.67,416.86 184.39,416.02 185.1,414.33 185.82,413.74 186.53,415.33 187.25,416.74 187.97,417.22 188.68,417.83 189.4,417.01 190.11,416.48 190.83,414.64 191.55,414.56 192.26,416.5 192.98,413.84 193.69,416.14 194.41,415.09 195.12,413.43 195.84,414.84 196.56,415.77 197.27,415.11 197.99,414.82 198.7,416.21 199.42,416.02 200.14,417.33 200.85,416.43 201.57,416.91 202.28,415.66 203,413.71 203.71,413.31 204.43,412.88 205.15,412.41 205.86,414.54 206.58,414.47 207.29,415.7 208.01,416.67 208.73,415.63 209.44,418.27 210.16,418.77 210.87,418.53 211.59,418.8 212.31,417.64 213.02,417.69 213.74,417.07 214.45,417.01 215.17,416.45 215.88,414.57 216.6,415.27 217.32,415.14 218.03,415.28 218.75,416 219.46,415.73" fill="none" stroke="#111" stroke-width="0.8" stroke-linejoin="round"/>
<polyline points="112.8,420.3 113.52,420.76 114.23,418.99 114.95,420.21 115.66,420.75 116.38,420.65 117.1,422.12 117.81,421.92 118.53,421.88 119.24,421.28 119.96,421.43 120.67,420.51 121.39,419.45 122.11,418.67 122.82,418.51 123.54,419.08 124.25,418.58 124.97,417.17 125.69,418.12 126.4,416.32 127.12,416.81 127.83,418.18 128.55,418.88 129.26,418.97 129.98,419.27 130.7,417.5 131.41,419.06 132.13,417.54 132.84,416.56 133.56,419.73 134.28,418.22 134.99,418.15 135.71,417.32 136.42,418.39 137.14,417.95 137.86,420.01 138.57,420.58 139.29,421.18 140,418.35 140.72,418.8 141.43,417.16 142.15,417.18 142.87,417.79 143.58,417.92 144.3,419.06 145.01,417.53 145.73,417.38 146.45,418.65 147.16,418.18 147.88,417.12 148.59,417.4 149.31,416.98 150.03,416.59 150.74,416.2 151.46,414.72 152.17,415.63 152.89,415.77 153.6,415.42 154.32,415.01 155.04,418.06 155.75,415.8 156.47,417.47 157.18,419.89 157.9,417.86 158.62,418.83 159.33,417.58 160.05,417.28 160.76,417.04 161.48,418.28 162.19,416.63 162.91,417.22 163.63,418.38 164.34,418.54 165.06,416.75 165.77,417.75 166.49,418.05 167.21,418.29 167.92,419.85 168.64,419.17 169.35,418.95 170.07,420.24 170.79,418.99 171.5,417.68 172.22,418.98 172.93,417.21 173.65,416.72 174.36,417.48 175.08,418.21 175.8,421.35 176.51,419 177.23,418.38 177.94,416.45 178.66,417.13 179.38,416.17 180.09,416.55 180.81,418.35 181.52,418.46 182.24,419.25 182.95,419.08 183.67,417.39 184.39,417.52 185.1,416.61 185.82,418.43 186.53,420.22 187.25,417.93 187.97,419.15 188.68,418.57 189.4,417.8 190.11,420.56 190.83,420.4 191.55,419.71 192.26,419.34 192.98,418.38 193.69,418.63 194.41,419.86 195.12,420.33 195.84,420.29 196.56,419.06 197.27,419.74 197.99,419.33 198.7,419.28 199.42,418.48 200.14,418.47 200.85,417.71 201.57,416.57 202.28,416 203,418.01 203.71,418 204.43,418.51 205.15,420.5 205.86,420.34 206.58,420.34 207.29,421.12 208.01,418.17 208.73,417.41 209.44,419.82 210.16,418.5 210.87,417.61 211.59,418.86 212.31,418.4 213.02,417.75 213.74,418.54 214.45,416.55 215.17,416.12 215.88,417.05 216.6,417.01 217.32,416.73 218.03,414.93 218.75,415.87 219.46,414.6" fill="none" stroke="#111" stroke-width="0.8" stroke-linejoin="round"/>
<polyline points="112.8,421.76 113.52,421.42 114.23,422.41 114.95,421.39 115.66,422.64 116.38,422.34 117.1,420.88 117.81,423.98 118.53,423.4 119.24,424.24 119.96,422.73 120.67,421.57 121.39,419.21 122.11,418.78 122.82,419.65 123.54,417.84 124.25,419.4 124.97,420.16 125.69,421.66 126.4,421.23 127.12,422.52 127.83,421.39 128.55,421.1 129.26,420.18 129.98,420.86 130.7,420.51 131.41,420.73 132.13,421.64 132.84,420.09 133.56,420.71 134.28,419.89 134.99,420.31 135.71,421.03 136.42,421.54 137.14,423.08 137.86,421.85 138.57,421.66 139.29,421.84 140,422.05 140.72,422.36 141.43,420.73 142.15,421.52 142.87,419.31 143.58,418.07 144.3,418.91 145.01,420.34 145.73,423.45 146.45,423.25 147.16,423.51 147.88,424.17 148.59,423.22 149.31,424.47 150.03,424.6 150.74,422.4 151.46,419.85 152.17,417.88 152.89,419.61 153.6,421.35 154.32,423.39 155.04,423.86 155.75,422.17 156.47,421.73 157.18,421.86 157.9,423.49 158.62,422.09 159.33,421.53 160.05,421.22 160.76,420.15 161.48,420.23 162.19,419.03 162.91,421.02 163.63,420.39 164.34,420.66 165.06,420.94 165.77,420.88 166.49,419.34 167.21,418.92 167.92,420.29 168.64,420.5 169.35,420.82 170.07,421.04 170.79,419.97 171.5,420.56 172.22,419.14 172.93,419.92 173.65,420.42 174.36,421.31 175.08,421.25 175.8,419.4 176.51,420.08 177.23,418.02 177.94,418.24 178.66,419.91 179.38,419.72 180.09,420.07 180.81,420.32 181.52,420.77 182.24,421.49 182.95,421.86 183.67,422.23 184.39,420.66 185.1,420.12 185.82,421.33 186.53,420.08 187.25,421.37 187.97,421.59 188.68,420.13 189.4,421.41 190.11,422.52 190.83,423.43 191.55,423.66 192.26,422.2 192.98,421.19 193.69,421.14 194.41,422.07 195.12,421.55 195.84,421.59 196.56,421 197.27,421.78 197.99,421.76 198.7,419.93 199.42,421.25 200.14,420.82 200.85,423.28 201.57,421.1 202.28,420.59 203,419.88 203.71,418.75 204.43,418.81 205.15,419.75 205.86,421.87 206.58,421.02 207.29,420.97 208.01,421.39 208.73,419.9 209.44,422 210.16,421.47 210.87,421.91 211.59,422.58 212.31,422.09 213.02,423.16 213.74,422.54 214.45,421.3 215.17,419.48 215.88,419.32 216.6,419.66 217.32,418.94 218.03,420.21 218.75,420.03 219.46,421.05" fill="none" stroke="#111" stroke-width="0.8" stroke-linejoin="round"/>
<polyline points="112.8,422.1 113.52,424.08 114.23,423.04 114.95,423.1 115.66,421.65 116.38,423.28 117.1,424.53 117.81,425.18 118.53,425.64 119.24,424.64 119.96,423.63 120.67,423.71 121.39,422.8 122.11,422.29 122.82,423.15 123.54,423.63 124.25,425.51 124.97,423.77 125.69,423.46 126.4,424.84 127.12,424.71 127.83,425.06 128.55,424.12 129.26,424.55 129.98,423.64 130.7,423.81 131.41,424.07 132.13,423.73 132.84,423.1 133.56,423.9 134.28,423.24 134.99,423.34 135.71,423.52 136.42,423.33 137.14,422.32 137.86,424.68 138.57,423.86 139.29,423.56 140,424.56 140.72,426.38 141.43,426.63 142.15,427.06 142.87,425.27 143.58,423.35 144.3,422.56 145.01,423.48 145.73,423.26 146.45,422.61 147.16,424.15 147.88,421.77 148.59,423.03 149.31,422.54 150.03,422.08 150.74,424.53 151.46,423.48 152.17,422.62 152.89,423.82 153.6,423.22 154.32,424.35 155.04,423.39 155.75,422.85 156.47,421.74 157.18,422.56 157.9,422.06 158.62,424.36 159.33,426.05 160.05,425.45 160.76,426.33 161.48,424.58 162.19,424.68 162.91,423.39 163.63,422.62 164.34,420.37 165.06,422.12 165.77,421.79 166.49,425.18 167.21,424.22 167.92,423.16 168.64,423.83 169.35,422.68 170.07,424.42 170.79,423.75 171.5,422.51 172.22,421.86 172.93,420.98 173.65,419.8 174.36,420.27 175.08,422.34 175.8,422.79 176.51,422.18 177.23,422.44 177.94,422.68 178.66,422.72 179.38,423.16 180.09,422.3 180.81,423.32 181.52,424.18 182.24,422.55 182.95,423.76 183.67,424.03 184.39,423.64 185.1,423.73 185.82,421.83 186.53,423.24 187.25,423.03 187.97,424.83 188.68,426.42 189.4,424.64 190.11,424.62 190.83,424.39 191.55,424.47 192.26,425.93 192.98,426.48 193.69,425.14 194.41,423.59 195.12,422.69 195.84,423.51 196.56,422.56 197.27,421.85 197.99,421.14 198.7,421.52 199.42,419.97 200.14,421.43 200.85,423.74 201.57,423.07 202.28,423.85 203,423.97 203.71,424.31 204.43,424.63 205.15,425.92 205.86,424.65 206.58,424.91 207.29,424.79 208.01,424.76 208.73,423.49 209.44,422.71 210.16,422.73 210.87,422.21 211.59,423.61 212.31,424.01 213.02,423.97 213.74,424.15 214.45,424.16 215.17,425.03 215.88,422.53 216.6,424 217.32,423.53 218.03,424.69 218.75,424.15 219.46,424.74" fill="none" stroke="#111" stroke-width="0.8" stroke-linejoin="round"/>
<polyline points="112.8,415.64 113.52,416.57 114.23,417.41 114.95,417.9 115.66,418.47 116.38,417.27 117.1,418.34 117.81,418.14 118.53,417.07 119.24,418.9 119.96,416.9 120.67,415.05 121.39,415.45 122.11,412.28 122.82,411.24 123.54,411.57 124.25,412.14 124.97,412.81 125.69,413.78 126.4,411.82 127.12,411.81 127.83,411.97 128.55,412.38 129.26,411.84 129.98,411.92 130.7,412.54 131.41,414 132.13,414.97 132.84,414.4 133.56,412.52 134.28,412.04 134.99,411.42 135.71,411.91 136.42,412.57 137.14,413.27 137.86,413.92 138.57,411.44 139.29,411.68 140,410.52 140.72,411.78 141.43,412.44 142.15,413.6 142.87,412 143.58,409.68 144.3,410.74 145.01,411.03 145.73,410.23 146.45,413.31 147.16,413.38 147.88,414.06 148.59,416.1 149.31,414.26 150.03,414.82 150.74,414.19 151.46,412.83 152.17,412.15 152.89,411.14 153.6,410.47 154.32,410.08 155.04,411.15 155.75,411.94 156.47,412.18 157.18,413.84 157.9,413.25 158.62,412.75 159.33,413.99 160.05,412.93 160.76,412.88 161.48,411.95 162.19,412.53 162.91,414.21 163.63,414.25 164.34,414.33 165.06,413.3 165.77,411.3 166.49,412.63 167.21,411.43 167.92,412.4 168.64,412.21 169.35,412.41 170.07,413.01 170.79,411.19 171.5,412.94 172.22,412.03 172.93,413.86 173.65,412.99 174.36,411.25 175.08,411.44 175.8,412.86 176.51,412.94 177.23,416.32 177.94,416.31 178.66,414.29 179.38,415.19 180.09,414.46 180.81,415.07 181.52,414.65 182.24,415.07 182.95,413.68 183.67,411.68 184.39,412.09 185.1,411.48 185.82,413.33 186.53,413.16 187.25,413.69 187.97,413.18 188.68,411.48 189.4,412.78 190.11,411.34 190.83,410.86 191.55,414.11 192.26,413.16 192.98,412.97 193.69,412.65 194.41,411.19 195.12,411.65 195.84,412.11 196.56,413.03 197.27,413.72 197.99,413.56 198.7,412.87 199.42,414.19 200.14,412.92 200.85,412.83 201.57,412.91 202.28,412.2 203,413.54 203.71,413.08 204.43,415.35 205.15,415.4 205.86,415.74 206.58,414.08 207.29,412.26 208.01,411.94 208.73,410.98 209.44,411.1 210.16,411.74 210.87,411.72 211.59,412.71 212.31,412.94 213.02,412.36 213.74,411.1 214.45,411.48 215.17,410.88 215.88,412.52 216.6,411.86 217.32,413.48 218.03,412.31 218.75,410.04 219.46,410.58" fill="none" stroke="#111" stroke-width="0.8" stroke-linejoin="round"/>
<polyline points="112.8,434.83 113.52,435.71 114.23,434.19 114.95,433.71 115.66,435.33 116.38,432.68 117.1,435.8 117.81,436.22 118.53,434.75 119.24,435.51 119.96,439.21 120.67,441.69 121.39,447.18 122.11,449.99 122.82,450.02 123.54,449.84 124.25,448.81 124.97,449.66 125.69,448.34 126.4,447.18 127.12,446.89 127.83,447.22 128.55,444.9 129.26,446.41 129.98,446.08 130.7,446.08 131.41,446.43 132.13,445.85 132.84,445.25 133.56,444.23 134.28,444.39 134.99,444.02 135.71,443.82 136.42,445.03 137.14,445.3 137.86,445.21 138.57,444.86 139.29,444.08 140,442.2 140.72,443.44 141.43,445.43 142.15,445.88 142.87,445.2 143.58,446.07 144.3,445.75 145.01,446.49 145.73,445.19 146.45,446.82 147.16,448.57 147.88,446.29 148.59,446.92 149.31,446.28 150.03,444.68 150.74,445.24 151.46,445.09 152.17,445.31 152.89,445.86 153.6,448.49 154.32,450.55 155.04,448.81 155.75,446.99 156.47,446.25 157.18,444.85 157.9,446 158.62,445.76 159.33,444.68 160.05,446.67 160.76,447.09 161.48,447.36 162.19,446.68 162.91,447.2 163.63,446.67 164.34,446.72 165.06,446.73 165.77,447.23 166.49,448.43 167.21,447.02 167.92,446.87 168.64,446.91 169.35,447.1 170.07,447.87 170.79,446.81 171.5,445.94 172.22,446.02 172.93,445.5 173.65,445.77 174.36,444.73 175.08,446.8 175.8,444.11 176.51,443.72 177.23,445.33 177.94,444.19 178.66,445.36 179.38,445.72 180.09,443.46 180.81,443.46 181.52,444.57 182.24,445.21 182.95,446.06 183.67,445.44 184.39,446.3 185.1,446.53 185.82,446.54 186.53,446.44 187.25,444.99 187.97,446.43 188.68,445.76 189.4,445.69 190.11,446.95 190.83,447.39 191.55,447.29 192.26,447.71 192.98,447.44 193.69,444.85 194.41,444.62 195.12,443.65 195.84,442.32 196.56,444.49 197.27,444.76 197.99,445.92 198.7,445.13 199.42,446.57 200.14,447.19 200.85,448.24 201.57,447.62 202.28,447.46 203,446.53 203.71,445.46 204.43,446.36 205.15,445.44 205.86,446.2 206.58,447.34 207.29,445.19 208.01,446.31 208.73,446.86 209.44,446.87 210.16,448.01 210.87,447.12 211.59,446.12 212.31,445.43 213.02,446.37 213.74,446.57 214.45,446.58 215.17,446.45 215.88,446.82 216.6,446.35 217.32,446.77 218.03,446.44 218.75,445.79 219.46,447.68" fill="none" stroke="#111" stroke-width="0.8" stroke-linejoin="round"/>
<polyline points="112.8,435.53 113.52,436.61 114.23,435.62 114.95,434.06 115.66,434.51 116.38,432.8 117.1,433.15 117.81,435.03 118.53,434.12 119.24,434.92 119.96,435.74 120.67,438.22 121.39,442.46 122.11,445.29 122.82,448.56 123.54,451.5 124.25,451 124.97,451.06 125.69,449.82 126.4,449.62 127.12,446.93 127.83,446.39 128.55,446.86 129.26,445.14 129.98,445.69 130.7,446.6 131.41,446.9 132.13,447.36 132.84,447.19 133.56,448.32 134.28,449.41 134.99,448.61 135.71,450.37 136.42,448.89 137.14,448.6 137.86,448.27 138.57,448.03 139.29,448.27 140,447.91 140.72,447.77 141.43,447.8 142.15,447.63 142.87,448.84 143.58,448.52 144.3,450.81 145.01,448.03 145.73,447.8 146.45,449.1 147.16,447.77 147.88,448.54 148.59,450.09 149.31,450.12 150.03,452.05 150.74,450.46 151.46,450.18 152.17,450.36 152.89,449.21 153.6,449.99 154.32,449.66 155.04,449.97 155.75,450.05 156.47,449.92 157.18,449.02 157.9,449.42 158.62,449.26 159.33,449.58 160.05,448.38 160.76,449.35 161.48,448.71 162.19,447.96 162.91,448.63 163.63,448.05 164.34,447.43 165.06,447.78 165.77,447.9 166.49,448.96 167.21,448.57 167.92,450.08 168.64,450.97 169.35,451.37 170.07,451.44 170.79,449.5 171.5,447.57 172.22,447.27 172.93,446.52 173.65,447.38 174.36,447.75 175.08,449.04 175.8,448.12 176.51,446.7 177.23,448.56 177.94,449.23 178.66,450.48 179.38,449.9 180.09,450.68 180.81,450.6 181.52,449.44 182.24,449.14 182.95,448.11 183.67,446.81 184.39,447.05 185.1,447.68 185.82,448.04 186.53,448.51 187.25,448.38 187.97,448.67 188.68,447.46 189.4,449.59 190.11,450.01 190.83,449.84 191.55,449.86 192.26,449.78 192.98,447.65 193.69,449.13 194.41,447.26 195.12,447.23 195.84,449.45 196.56,449.85 197.27,449.95 197.99,449.79 198.7,447.93 199.42,447.97 200.14,447.82 200.85,447.95 201.57,449.76 202.28,449.5 203,449.71 203.71,449.67 204.43,450.32 205.15,451.21 205.86,450.26 206.58,449.07 207.29,446.86 208.01,448.09 208.73,447.09 209.44,448.12 210.16,449.31 210.87,448.05 211.59,448.81 212.31,448.34 213.02,448.6 213.74,446.84 214.45,446.72 215.17,446.38 215.88,445.86 216.6,447.08 217.32,449.15 218.03,447.92 218.75,447.72 219.46,446.4" fill="none" stroke="#111" stroke-width="0.8" stroke-linejoin="round"/>
<polyline points="112.8,432.35 113.52,433.82 114.23,434.71 114.95,436.08 115.66,434.91 116.38,434.87 117.1,433.46 117.81,433.67 118.53,431.76 119.24,433.8 119.96,437.28 120.67,441.46 121.39,449.93 122.11,451.76 122.82,452.54 123.54,454.31 124.25,452.34 124.97,452.75 125.69,453.22 126.4,451.91 127.12,453.09 127.83,453.49 128.55,453.35 129.26,452.85 129.98,452.68 130.7,452.99 131.41,453.8 132.13,453.86 132.84,453.66 133.56,452.79 134.28,451.44 134.99,451.53 135.71,450 136.42,451.44 137.14,449.34 137.86,449.45 138.57,449.7 139.29,450.06 140,450.52 140.72,451.72 141.43,451.31 142.15,451.74 142.87,454.49 143.58,454.51 144.3,453.29 145.01,452.86 145.73,451.31 146.45,449.55 147.16,453.32 147.88,453 148.59,453.11 149.31,455.7 150.03,452.94 150.74,453 151.46,453.81 152.17,453 152.89,452.48 153.6,453 154.32,452.28 155.04,451.77 155.75,452.12 156.47,451.3 157.18,451.89 157.9,452.58 158.62,454.52 159.33,455.21 160.05,453.86 160.76,453.78 161.48,453.6 162.19,453.63 162.91,452.32 163.63,450.68 164.34,449.26 165.06,448.86 165.77,449.7 166.49,451.45 167.21,452.17 167.92,451.37 168.64,451.39 169.35,451.41 170.07,451.77 170.79,453.48 171.5,451.43 172.22,450.44 172.93,450.51 173.65,449.94 174.36,449.91 175.08,451.54 175.8,452.95 176.51,454.08 177.23,453.05 177.94,452.64 178.66,452.48 179.38,449.85 180.09,450.1 180.81,450.36 181.52,450.24 182.24,451.59 182.95,452.69 183.67,453.25 184.39,454.02 185.1,453.4 185.82,452.43 186.53,451.6 187.25,453.67 187.97,452.33 188.68,452.11 189.4,451.39 190.11,449.86 190.83,450.7 191.55,451.77 192.26,453.3 192.98,452.81 193.69,451.94 194.41,452.5 195.12,451.6 195.84,451.94 196.56,451.67 197.27,452.16 197.99,453.9 198.7,453.28 199.42,452.64 200.14,451.37 200.85,451.8 201.57,451.51 202.28,451.43 203,450.83 203.71,452.66 204.43,451.65 205.15,452.96 205.86,452.55 206.58,451.18 207.29,452.79 208.01,451.96 208.73,452.88 209.44,453.66 210.16,454.33 210.87,454.41 211.59,453.13 212.31,453.05 213.02,453.69 213.74,453.61 214.45,453.74 215.17,455.04 215.88,454.47 216.6,453.62 217.32,452.24 218.03,450.85 218.75,448.58 219.46,449.44" fill="none" stroke="#111" stroke-width="0.8" stroke-linejoin="round"/>
<polyline points="112.8,434.61 113.52,435.17 114.23,433.38 114.95,433.15 115.66,433.61 116.38,434.38 117.1,435.65 117.81,434.63 118.53,434.81 119.24,434.31 119.96,436.33 120.67,440.08 121.39,446.28 122.11,451.36 122.82,455.69 123.54,456.05 124.25,455.63 124.97,456.43 125.69,455.43 126.4,455.53 127.12,455.84 127.83,454.31 128.55,455.3 129.26,457.27 129.98,457.09 130.7,457.28 131.41,455.86 132.13,456.01 132.84,455.55 133.56,455.91 134.28,456.99 134.99,457.02 135.71,456.83 136.42,455.51 137.14,455.08 137.86,454.95 138.57,455.02 139.29,456.22 140,456.16 140.72,456.9 141.43,456.81 142.15,456.14 142.87,453.92 143.58,452.07 144.3,453.64 145.01,454.21 145.73,455.02 146.45,455.62 147.16,453.9 147.88,455.42 148.59,455.14 149.31,454.99 150.03,453.52 150.74,454.19 151.46,455.13 152.17,455.25 152.89,454.7 153.6,453.24 154.32,452.29 155.04,453.75 155.75,454.17 156.47,454.99 157.18,455.64 157.9,453.15 158.62,452.37 159.33,454.41 160.05,454.37 160.76,455.08 161.48,457.6 162.19,456.63 162.91,456.86 163.63,456.83 164.34,456.55 165.06,457.57 165.77,456.7 166.49,458.16 167.21,457.84 167.92,455.54 168.64,455.81 169.35,455.12 170.07,455.42 170.79,456.05 171.5,457.47 172.22,456.79 172.93,456.02 173.65,455.49 174.36,454.82 175.08,455.46 175.8,456.61 176.51,458.25 177.23,457.34 177.94,457.8 178.66,457.3 179.38,456.36 180.09,456.63 180.81,457.27 181.52,456.1 182.24,457.93 182.95,457.05 183.67,457.03 184.39,457.01 185.1,454.4 185.82,454.25 186.53,452.21 187.25,453.62 187.97,453.69 188.68,456.6 189.4,456.5 190.11,455.6 190.83,454.74 191.55,453.6 192.26,454.07 192.98,454.53 193.69,454.96 194.41,454.99 195.12,455.23 195.84,455.47 196.56,455.37 197.27,456.22 197.99,454.75 198.7,455.56 199.42,453.91 200.14,455.55 200.85,456.11 201.57,457.24 202.28,459.01 203,458.98 203.71,457.04 204.43,457.3 205.15,454.08 205.86,454.56 206.58,454.2 207.29,454.69 208.01,457.48 208.73,458.56 209.44,458.33 210.16,457.77 210.87,457.08 211.59,456.9 212.31,456.85 213.02,456.11 213.74,456.92 214.45,456.37 215.17,456.33 215.88,455.64 216.6,455.13 217.32,455.5 218.03,453.74 218.75,456.29 219.46,454.65" fill="none" stroke="#111" stroke-width="0.8" stroke-linejoin="round"/>
</g>
<rect x="107.2" y="380" width="117.4" height="85.3" fill="none" stroke="#111" stroke-width="1.3"/>
<line x1="107.2" y1="394.5" x2="110.8" y2="394.5" stroke="#111" stroke-width="1.1"/>
<text x="102.8" y="398.8" font-size="13.0" fill="#1a1a1a" text-anchor="end" font-family='"Liberation Serif", serif'>2</text>
<line x1="107.2" y1="422.9" x2="110.8" y2="422.9" stroke="#111" stroke-width="1.1"/>
<text x="102.8" y="427.2" font-size="13.0" fill="#1a1a1a" text-anchor="end" font-family='"Liberation Serif", serif'>0</text>
<line x1="107.2" y1="451.3" x2="110.8" y2="451.3" stroke="#111" stroke-width="1.1"/>
<text x="102.8" y="455.6" font-size="13.0" fill="#1a1a1a" text-anchor="end" font-family='"Liberation Serif", serif'>2</text>
<text x="95.7" y="455.6" font-size="13.0" fill="#1a1a1a" text-anchor="end" font-family='"Liberation Serif", serif' textLength="8.4" lengthAdjust="spacingAndGlyphs">−</text>
<line x1="112.8" y1="465.3" x2="112.8" y2="461.7" stroke="#111" stroke-width="1.1"/>
<text x="112.8" y="479.9" font-size="12.5" fill="#1a1a1a" text-anchor="middle" font-family='"Liberation Serif", serif'>0</text>
<line x1="166.4" y1="465.3" x2="166.4" y2="461.7" stroke="#111" stroke-width="1.1"/>
<text x="166.4" y="479.9" font-size="12.5" fill="#1a1a1a" text-anchor="middle" font-family='"Liberation Serif", serif'>5</text>
<line x1="220" y1="465.3" x2="220" y2="461.7" stroke="#111" stroke-width="1.1"/>
<text x="220" y="479.9" font-size="12.5" fill="#1a1a1a" text-anchor="middle" font-family='"Liberation Serif", serif'>10</text>
<text x="77.9" y="425.6" font-size="12.3" fill="#1a1a1a" text-anchor="middle" font-family='"Liberation Sans", sans-serif' transform="rotate(-90 77.9 425.6)" textLength="56" lengthAdjust="spacingAndGlyphs" stroke="#1a1a1a" stroke-width="0.22">Voltage [V]</text>
<text x="165" y="498" font-size="12.3" fill="#1a1a1a" text-anchor="middle" font-family='"Liberation Sans", sans-serif' textLength="46.8" lengthAdjust="spacingAndGlyphs" stroke="#1a1a1a" stroke-width="0.22">Time [µs]</text>
<rect x="261.2" y="293.6" width="172.4" height="171.9" fill="#fdfdfd"/>
<rect x="261.2" y="339" width="172.4" height="17.1" fill="#d1e6e2"/>
<line x1="261.2" y1="347.3" x2="433.6" y2="347.3" stroke="#7fc0b3" stroke-width="0.75" stroke-dasharray="3 1.8"/>
<line x1="261.2" y1="443.62" x2="307.54" y2="443.62" stroke="#c4c4c4" stroke-width="0.7" stroke-dasharray="2.6 1.5"/>
<line x1="261.2" y1="396.33" x2="307.54" y2="396.33" stroke="#c4c4c4" stroke-width="0.7" stroke-dasharray="2.6 1.5"/>
<line x1="261.2" y1="370.53" x2="307.54" y2="370.53" stroke="#c4c4c4" stroke-width="0.7" stroke-dasharray="2.6 1.5"/>
<line x1="261.2" y1="357.4" x2="307.54" y2="357.4" stroke="#c4c4c4" stroke-width="0.7" stroke-dasharray="2.6 1.5"/>
<line x1="261.2" y1="351.96" x2="307.54" y2="351.96" stroke="#c4c4c4" stroke-width="0.7" stroke-dasharray="2.6 1.5"/>
<line x1="261.2" y1="347.99" x2="307.54" y2="347.99" stroke="#d093ab" stroke-width="0.55" stroke-dasharray="2.6 1.5" opacity="0.6"/>
<line x1="261.2" y1="346.46" x2="307.54" y2="346.46" stroke="#d78fab" stroke-width="0.55" stroke-dasharray="2.6 1.5" opacity="0.6"/>
<line x1="261.2" y1="345.45" x2="307.54" y2="345.45" stroke="#d78fab" stroke-width="1.5" stroke-dasharray="2.0 1.2"/>
<polyline points="275.33,398.51 317.71,457.86 379.71,404.48 418.1,356.27" fill="none" stroke="#b2b2b2" stroke-width="1.05" stroke-linejoin="round"/>
<polyline points="275.33,398.51 275.89,399.2 276.44,399.9 277,400.61 277.55,401.32 278.11,402.03 278.66,402.74 279.22,403.44 279.77,404.12 280.33,404.79 280.88,405.43 281.44,406.05 282,406.63 282.55,407.17 283.11,407.68 283.66,408.14 284.22,408.55 284.77,408.9 285.33,409.2 285.88,409.43 286.44,409.59 286.99,409.68 287.55,409.7 288.1,409.63 288.66,409.47 289.21,409.25 289.77,408.95 290.33,408.6 290.88,408.2 291.44,407.76 291.99,407.28 292.55,406.78 293.1,406.26 293.66,405.74 294.21,405.22 294.77,404.7 295.32,404.2 295.88,403.71 296.43,403.23 296.99,402.76 297.55,402.3 298.1,401.84 298.66,401.4 299.21,400.96 299.77,400.53 300.32,400.1 300.88,399.68 301.43,399.26 301.99,398.85 302.54,398.44 303.1,398.04 303.65,397.64 304.21,397.26 304.76,396.92 305.32,396.64 305.88,396.42 306.43,396.29 306.99,396.25 307.54,396.33 308.1,396.54 308.65,396.87 309.21,397.29 309.76,397.76 310.32,398.26 310.87,398.74 311.43,399.17 311.98,399.52 312.54,399.74 313.09,399.85 313.65,399.85 314.21,399.75 314.76,399.58 315.32,399.34 315.87,399.06 316.43,398.74 316.98,398.41 317.54,398.07 318.09,397.73 318.65,397.43 319.2,397.16 319.76,396.94 320.31,396.79 320.87,396.71 321.43,396.74 321.98,396.86 322.54,397.08 323.09,397.37 323.65,397.73 324.2,398.13 324.76,398.57 325.31,399.02 325.87,399.48 326.42,399.93 326.98,400.37 327.53,400.79 328.09,401.18 328.64,401.55 329.2,401.88 329.76,402.18 330.31,402.43 330.87,402.63 331.42,402.77 331.98,402.86 332.53,402.9 333.09,402.89 333.64,402.84 334.2,402.75 334.75,402.63 335.31,402.48 335.86,402.31 336.42,402.12 336.97,401.92 337.53,401.72 338.09,401.51 338.64,401.3 339.2,401.08 339.75,400.86 340.31,400.63 340.86,400.4 341.42,400.17 341.97,399.93 342.53,399.69 343.08,399.44 343.64,399.19 344.19,398.93 344.75,398.67 345.31,398.41 345.86,398.15 346.42,397.88 346.97,397.61 347.53,397.33 348.08,397.06 348.64,396.78 349.19,396.5 349.75,396.22 350.3,395.95 350.86,395.67 351.41,395.4 351.97,395.14 352.52,394.87 353.08,394.62 353.64,394.37 354.19,394.13 354.75,393.89 355.3,393.67 355.86,393.45 356.41,393.25 356.97,393.06 357.52,392.88 358.08,392.72 358.63,392.58 359.19,392.46 359.74,392.36 360.3,392.28 360.85,392.23 361.41,392.2 361.97,392.2 362.52,392.23 363.08,392.28 363.63,392.37 364.19,392.48 364.74,392.62 365.3,392.79 365.85,392.98 366.41,393.2 366.96,393.44 367.52,393.71 368.07,394.01 368.63,394.32 369.19,394.66 369.74,395.02 370.3,395.39 370.85,395.77 371.41,396.16 371.96,396.55 372.52,396.93 373.07,397.31 373.63,397.68 374.18,398.03 374.74,398.36 375.29,398.67 375.85,398.95 376.4,399.2 376.96,399.42 377.52,399.6 378.07,399.76 378.63,399.88 379.18,399.96 379.74,400.01 380.29,400.01 380.85,399.98 381.4,399.9 381.96,399.77 382.51,399.59 383.07,399.36 383.62,399.07 384.18,398.72 384.73,398.31 385.29,397.84 385.85,397.3 386.4,396.68 386.96,396 387.51,395.25 388.07,394.44 388.62,393.56 389.18,392.63 389.73,391.64 390.29,390.6 390.84,389.51 391.4,388.37 391.95,387.2 392.51,385.99 393.07,384.74 393.62,383.45 394.18,382.14 394.73,380.81 395.29,379.46 395.84,378.09 396.4,376.72 396.95,375.34 397.51,373.96 398.06,372.59 398.62,371.23 399.17,369.89 399.73,368.56 400.28,367.27 400.84,366 401.4,364.77 401.95,363.58 402.51,362.44 403.06,361.36 403.62,360.34 404.17,359.4 404.73,358.53 405.28,357.74 405.84,357.05 406.39,356.45 406.95,355.95 407.5,355.55 408.06,355.25 408.61,355.03 409.17,354.88 409.73,354.81 410.28,354.79 410.84,354.82 411.39,354.9 411.95,355.01 412.5,355.14 413.06,355.3 413.61,355.46 414.17,355.62 414.72,355.78 415.28,355.92 415.83,356.04 416.39,356.13 416.95,356.18 417.5,356.18 418.06,356.12 418.61,356 419.17,355.81" fill="none" stroke="#adadad" stroke-width="1.15" stroke-linejoin="round"/>
<polyline points="275.33,398.51 275.89,399.73 276.44,401.01 277,402.33 277.55,403.7 278.11,405.08 278.66,406.48 279.22,407.88 279.77,409.28 280.33,410.65 280.88,411.99 281.44,413.29 282,414.53 282.55,415.71 283.11,416.81 283.66,417.83 284.22,418.75 284.77,419.55 285.33,420.24 285.88,420.8 286.44,421.24 286.99,421.54 287.55,421.7 288.1,421.71 288.66,421.57 289.21,421.28 289.77,420.84 290.33,420.26 290.88,419.54 291.44,418.67 291.99,417.68 292.55,416.55 293.1,415.28 293.66,413.9 294.21,412.4 294.77,410.81 295.32,409.13 295.88,407.37 296.43,405.54 296.99,403.66 297.55,401.73 298.1,399.77 298.66,397.77 299.21,395.75 299.77,393.72 300.32,391.69 300.88,389.67 301.43,387.67 301.99,385.69 302.54,383.74 303.1,381.84 303.65,380 304.21,378.23 304.76,376.57 305.32,375.03 305.88,373.63 306.43,372.4 306.99,371.36 307.54,370.53 308.1,369.92 308.65,369.53 309.21,369.34 309.76,369.33 310.32,369.49 310.87,369.79 311.43,370.21 311.98,370.71 312.54,371.29 313.09,371.92 313.65,372.6 314.21,373.33 314.76,374.11 315.32,374.93 315.87,375.79 316.43,376.69 316.98,377.61 317.54,378.56 318.09,379.53 318.65,380.52 319.2,381.53 319.76,382.55 320.31,383.6 320.87,384.67 321.43,385.77 321.98,386.89 322.54,388.04 323.09,389.2 323.65,390.35 324.2,391.49 324.76,392.61 325.31,393.69 325.87,394.73 326.42,395.72 326.98,396.65 327.53,397.51 328.09,398.32 328.64,399.05 329.2,399.72 329.76,400.3 330.31,400.81 330.87,401.24 331.42,401.58 331.98,401.84 332.53,402.01 333.09,402.09 333.64,402.08 334.2,402 334.75,401.85 335.31,401.63 335.86,401.35 336.42,401.01 336.97,400.63 337.53,400.2 338.09,399.74 338.64,399.24 339.2,398.71 339.75,398.16 340.31,397.58 340.86,396.97 341.42,396.35 341.97,395.71 342.53,395.05 343.08,394.37 343.64,393.67 344.19,392.96 344.75,392.23 345.31,391.49 345.86,390.74 346.42,389.97 346.97,389.2 347.53,388.41 348.08,387.62 348.64,386.82 349.19,386.03 349.75,385.24 350.3,384.45 350.86,383.68 351.41,382.93 351.97,382.19 352.52,381.48 353.08,380.79 353.64,380.14 354.19,379.52 354.75,378.93 355.3,378.38 355.86,377.86 356.41,377.39 356.97,376.94 357.52,376.53 358.08,376.16 358.63,375.82 359.19,375.52 359.74,375.24 360.3,375.01 360.85,374.81 361.41,374.66 361.97,374.56 362.52,374.52 363.08,374.53 363.63,374.62 364.19,374.77 364.74,375.01 365.3,375.34 365.85,375.77 366.41,376.32 366.96,376.98 367.52,377.77 368.07,378.69 368.63,379.73 369.19,380.89 369.74,382.16 370.3,383.54 370.85,385.02 371.41,386.6 371.96,388.27 372.52,390.02 373.07,391.83 373.63,393.68 374.18,395.54 374.74,397.4 375.29,399.22 375.85,400.99 376.4,402.68 376.96,404.28 377.52,405.75 378.07,407.1 378.63,408.31 379.18,409.37 379.74,410.27 380.29,410.99 380.85,411.54 381.4,411.88 381.96,412.02 382.51,411.95 383.07,411.66 383.62,411.16 384.18,410.44 384.73,409.52 385.29,408.38 385.85,407.03 386.4,405.48 386.96,403.73 387.51,401.81 388.07,399.76 388.62,397.58 389.18,395.32 389.73,393 390.29,390.64 390.84,388.27 391.4,385.92 391.95,383.59 392.51,381.3 393.07,379.03 393.62,376.8 394.18,374.59 394.73,372.42 395.29,370.27 395.84,368.17 396.4,366.1 396.95,364.06 397.51,362.07 398.06,360.12 398.62,358.23 399.17,356.4 399.73,354.63 400.28,352.94 400.84,351.32 401.4,349.79 401.95,348.36 402.51,347.02 403.06,345.8 403.62,344.7 404.17,343.72 404.73,342.88 405.28,342.2 405.84,341.67 406.39,341.3 406.95,341.12 407.5,341.11 408.06,341.28 408.61,341.62 409.17,342.12 409.73,342.79 410.28,343.61 410.84,344.58 411.39,345.69 411.95,346.9 412.5,348.2 413.06,349.57 413.61,350.98 414.17,352.41 414.72,353.84 415.28,355.25 415.83,356.62 416.39,357.92 416.95,359.13 417.5,360.23 418.06,361.19 418.61,362.01 419.17,362.65" fill="none" stroke="#adadad" stroke-width="1.15" stroke-linejoin="round"/>
<polyline points="275.33,398.51 275.89,400 276.44,401.57 277,403.21 277.55,404.9 278.11,406.63 278.66,408.38 279.22,410.14 279.77,411.9 280.33,413.63 280.88,415.33 281.44,416.97 282,418.55 282.55,420.06 283.11,421.46 283.66,422.76 284.22,423.93 284.77,424.97 285.33,425.86 285.88,426.59 286.44,427.17 286.99,427.57 287.55,427.8 288.1,427.86 288.66,427.72 289.21,427.4 289.77,426.89 290.33,426.19 290.88,425.31 291.44,424.23 291.99,422.97 292.55,421.51 293.1,419.87 293.66,418.05 294.21,416.06 294.77,413.91 295.32,411.63 295.88,409.23 296.43,406.72 296.99,404.12 297.55,401.45 298.1,398.71 298.66,395.92 299.21,393.1 299.77,390.26 300.32,387.42 300.88,384.58 301.43,381.77 301.99,378.99 302.54,376.26 303.1,373.6 303.65,371.02 304.21,368.55 304.76,366.21 305.32,364.03 305.88,362.03 306.43,360.25 306.99,358.69 307.54,357.4 308.1,356.37 308.65,355.62 309.21,355.11 309.76,354.86 310.32,354.84 310.87,355.05 311.43,355.46 311.98,356.06 312.54,356.81 313.09,357.71 313.65,358.74 314.21,359.89 314.76,361.15 315.32,362.51 315.87,363.95 316.43,365.46 316.98,367.03 317.54,368.63 318.09,370.27 318.65,371.92 319.2,373.58 319.76,375.23 320.31,376.89 320.87,378.54 321.43,380.18 321.98,381.82 322.54,383.44 323.09,385.04 323.65,386.6 324.2,388.12 324.76,389.58 325.31,390.98 325.87,392.32 326.42,393.58 326.98,394.75 327.53,395.85 328.09,396.86 328.64,397.78 329.2,398.61 329.76,399.35 330.31,399.99 330.87,400.54 331.42,400.98 331.98,401.32 332.53,401.55 333.09,401.68 333.64,401.7 334.2,401.62 334.75,401.45 335.31,401.2 335.86,400.86 336.42,400.45 336.97,399.97 337.53,399.43 338.09,398.84 338.64,398.19 339.2,397.5 339.75,396.78 340.31,396.02 340.86,395.23 341.42,394.41 341.97,393.56 342.53,392.69 343.08,391.79 343.64,390.86 344.19,389.92 344.75,388.95 345.31,387.97 345.86,386.97 346.42,385.95 346.97,384.91 347.53,383.87 348.08,382.81 348.64,381.75 349.19,380.7 349.75,379.64 350.3,378.61 350.86,377.58 351.41,376.58 351.97,375.61 352.52,374.67 353.08,373.76 353.64,372.9 354.19,372.08 354.75,371.32 355.3,370.6 355.86,369.93 356.41,369.31 356.97,368.74 357.52,368.21 358.08,367.73 358.63,367.29 359.19,366.89 359.74,366.53 360.3,366.22 360.85,365.95 361.41,365.74 361.97,365.58 362.52,365.5 363.08,365.5 363.63,365.58 364.19,365.76 364.74,366.05 365.3,366.46 365.85,367.02 366.41,367.73 366.96,368.61 367.52,369.66 368.07,370.9 368.63,372.31 369.19,373.88 369.74,375.62 370.3,377.51 370.85,379.55 371.41,381.73 371.96,384.05 372.52,386.5 373.07,389.04 373.63,391.64 374.18,394.28 374.74,396.91 375.29,399.5 375.85,402.03 376.4,404.46 376.96,406.75 377.52,408.88 378.07,410.84 378.63,412.6 379.18,414.16 379.74,415.49 380.29,416.58 380.85,417.42 381.4,417.98 381.96,418.26 382.51,418.24 383.07,417.92 383.62,417.31 384.18,416.41 384.73,415.22 385.29,413.74 385.85,411.99 386.4,409.95 386.96,407.66 387.51,405.15 388.07,402.47 388.62,399.63 389.18,396.7 389.73,393.69 390.29,390.66 390.84,387.64 391.4,384.67 391.95,381.76 392.51,378.91 393.07,376.13 393.62,373.41 394.18,370.75 394.73,368.14 395.29,365.6 395.84,363.12 396.4,360.69 396.95,358.33 397.51,356.02 398.06,353.78 398.62,351.62 399.17,349.53 399.73,347.54 400.28,345.64 400.84,343.85 401.4,342.17 401.95,340.61 402.51,339.18 403.06,337.88 403.62,336.73 404.17,335.74 404.73,334.92 405.28,334.28 405.84,333.84 406.39,333.6 406.95,333.57 407.5,333.76 408.06,334.17 408.61,334.79 409.17,335.63 409.73,336.67 410.28,337.92 410.84,339.37 411.39,341 411.95,342.78 412.5,344.67 413.06,346.65 413.61,348.7 414.17,350.78 414.72,352.86 415.28,354.91 415.83,356.91 416.39,358.82 416.95,360.63 417.5,362.29 418.06,363.77 418.61,365.06 419.17,366.13" fill="none" stroke="#adadad" stroke-width="1.15" stroke-linejoin="round"/>
<polyline points="275.33,398.51 275.89,400.12 276.44,401.81 277,403.58 277.55,405.41 278.11,407.28 278.66,409.17 279.22,411.08 279.77,412.99 280.33,414.87 280.88,416.71 281.44,418.5 282,420.22 282.55,421.86 283.11,423.39 283.66,424.81 284.22,426.09 284.77,427.22 285.33,428.19 285.88,428.99 286.44,429.62 286.99,430.07 287.55,430.34 288.1,430.41 288.66,430.27 289.21,429.94 289.77,429.4 290.33,428.65 290.88,427.7 291.44,426.54 291.99,425.16 292.55,423.58 293.1,421.78 293.66,419.77 294.21,417.57 294.77,415.2 295.32,412.67 295.88,410 296.43,407.21 296.99,404.31 297.55,401.33 298.1,398.27 298.66,395.16 299.21,392 299.77,388.83 300.32,385.64 300.88,382.47 301.43,379.32 301.99,376.21 302.54,373.16 303.1,370.18 303.65,367.3 304.21,364.53 304.76,361.91 305.32,359.47 305.88,357.22 306.43,355.21 306.99,353.44 307.54,351.95 308.1,350.76 308.65,349.85 309.21,349.22 309.76,348.86 310.32,348.77 310.87,348.94 311.43,349.35 311.98,349.98 312.54,350.8 313.09,351.81 313.65,352.99 314.21,354.31 314.76,355.78 315.32,357.36 315.87,359.04 316.43,360.81 316.98,362.64 317.54,364.52 318.09,366.43 318.65,368.35 319.2,370.28 319.76,372.2 320.31,374.1 320.87,376 321.43,377.87 321.98,379.72 322.54,381.54 323.09,383.31 323.65,385.04 324.2,386.71 324.76,388.32 325.31,389.86 325.87,391.32 326.42,392.69 326.98,393.97 327.53,395.16 328.09,396.25 328.64,397.25 329.2,398.16 329.76,398.96 330.31,399.65 330.87,400.25 331.42,400.73 331.98,401.1 332.53,401.36 333.09,401.51 333.64,401.54 334.2,401.47 334.75,401.29 335.31,401.02 335.86,400.66 336.42,400.21 336.97,399.69 337.53,399.11 338.09,398.46 338.64,397.76 339.2,397 339.75,396.21 340.31,395.37 340.86,394.5 341.42,393.6 341.97,392.67 342.53,391.71 343.08,390.72 343.64,389.7 344.19,388.66 344.75,387.59 345.31,386.51 345.86,385.4 346.42,384.28 346.97,383.14 347.53,381.98 348.08,380.82 348.64,379.65 349.19,378.48 349.75,377.33 350.3,376.18 350.86,375.05 351.41,373.95 351.97,372.88 352.52,371.84 353.08,370.84 353.64,369.89 354.19,369 354.75,368.16 355.3,367.37 355.86,366.64 356.41,365.97 356.97,365.34 357.52,364.76 358.08,364.23 358.63,363.75 359.19,363.32 359.74,362.92 360.3,362.57 360.85,362.27 361.41,362.03 361.97,361.86 362.52,361.77 363.08,361.75 363.63,361.84 364.19,362.02 364.74,362.33 365.3,362.78 365.85,363.39 366.41,364.16 366.96,365.13 367.52,366.3 368.07,367.67 368.63,369.23 369.19,370.98 369.74,372.9 370.3,375.01 370.85,377.28 371.41,379.71 371.96,382.3 372.52,385.04 373.07,387.88 373.63,390.8 374.18,393.75 374.74,396.71 375.29,399.62 375.85,402.46 376.4,405.19 376.96,407.78 377.52,410.18 378.07,412.39 378.63,414.38 379.18,416.15 379.74,417.66 380.29,418.9 380.85,419.86 381.4,420.51 381.96,420.84 382.51,420.85 383.07,420.52 383.62,419.86 384.18,418.88 384.73,417.58 385.29,415.97 385.85,414.04 386.4,411.81 386.96,409.29 387.51,406.54 388.07,403.59 388.62,400.48 389.18,397.27 389.73,393.98 390.29,390.67 390.84,387.38 391.4,384.15 391.95,381 392.51,377.92 393.07,374.93 393.62,372 394.18,369.15 394.73,366.37 395.29,363.66 395.84,361.02 396.4,358.45 396.95,355.95 397.51,353.51 398.06,351.15 398.62,348.87 399.17,346.69 399.73,344.6 400.28,342.62 400.84,340.75 401.4,339.01 401.95,337.4 402.51,335.92 403.06,334.6 403.62,333.43 404.17,332.43 404.73,331.62 405.28,331 405.84,330.59 406.39,330.4 406.95,330.44 407.5,330.71 408.06,331.22 408.61,331.96 409.17,332.93 409.73,334.13 410.28,335.56 410.84,337.21 411.39,339.06 411.95,341.07 412.5,343.21 413.06,345.45 413.61,347.75 414.17,350.1 414.72,352.45 415.28,354.77 415.83,357.03 416.39,359.2 416.95,361.25 417.5,363.14 418.06,364.85 418.61,366.33 419.17,367.57" fill="none" stroke="#b1aaac" stroke-width="1.15" stroke-linejoin="round"/>
<polyline points="275.33,398.51 275.89,400.17 276.44,401.93 277,403.76 277.55,405.65 278.11,407.6 278.66,409.57 279.22,411.55 279.77,413.52 280.33,415.48 280.88,417.4 281.44,419.26 282,421.05 282.55,422.75 283.11,424.34 283.66,425.82 284.22,427.15 284.77,428.33 285.33,429.34 285.88,430.18 286.44,430.84 286.99,431.31 287.55,431.59 288.1,431.67 288.66,431.54 289.21,431.2 289.77,430.64 290.33,429.87 290.88,428.88 291.44,427.68 291.99,426.25 292.55,424.6 293.1,422.72 293.66,420.62 294.21,418.32 294.77,415.84 295.32,413.19 295.88,410.39 296.43,407.45 296.99,404.41 297.55,401.27 298.1,398.05 298.66,394.78 299.21,391.46 299.77,388.12 300.32,384.76 300.88,381.42 301.43,378.11 301.99,374.83 302.54,371.62 303.1,368.49 303.65,365.45 304.21,362.54 304.76,359.79 305.32,357.21 305.88,354.84 306.43,352.71 306.99,350.84 307.54,349.26 308.1,347.97 308.65,346.99 309.21,346.29 309.76,345.89 310.32,345.76 310.87,345.92 311.43,346.32 311.98,346.97 312.54,347.83 313.09,348.89 313.65,350.14 314.21,351.55 314.76,353.11 315.32,354.81 315.87,356.61 316.43,358.5 316.98,360.46 317.54,362.48 318.09,364.53 318.65,366.59 319.2,368.64 319.76,370.69 320.31,372.73 320.87,374.74 321.43,376.72 321.98,378.68 322.54,380.59 323.09,382.46 323.65,384.27 324.2,386.02 324.76,387.7 325.31,389.3 325.87,390.82 326.42,392.25 326.98,393.58 327.53,394.82 328.09,395.96 328.64,396.99 329.2,397.93 329.76,398.76 330.31,399.49 330.87,400.1 331.42,400.6 331.98,400.99 332.53,401.27 333.09,401.42 333.64,401.46 334.2,401.39 334.75,401.21 335.31,400.93 335.86,400.55 336.42,400.1 336.97,399.56 337.53,398.95 338.09,398.28 338.64,397.54 339.2,396.76 339.75,395.92 340.31,395.05 340.86,394.15 341.42,393.2 341.97,392.23 342.53,391.22 343.08,390.19 343.64,389.12 344.19,388.03 344.75,386.92 345.31,385.79 345.86,384.63 346.42,383.45 346.97,382.26 347.53,381.05 348.08,379.83 348.64,378.61 349.19,377.39 349.75,376.18 350.3,374.98 350.86,373.8 351.41,372.65 351.97,371.52 352.52,370.44 353.08,369.4 353.64,368.41 354.19,367.47 354.75,366.59 355.3,365.78 355.86,365.01 356.41,364.31 356.97,363.65 357.52,363.05 358.08,362.5 358.63,362 359.19,361.54 359.74,361.13 360.3,360.77 360.85,360.45 361.41,360.2 361.97,360.02 362.52,359.91 363.08,359.9 363.63,359.98 364.19,360.17 364.74,360.49 365.3,360.96 365.85,361.59 366.41,362.4 366.96,363.41 367.52,364.63 368.07,366.07 368.63,367.7 369.19,369.54 369.74,371.56 370.3,373.77 370.85,376.15 371.41,378.71 371.96,381.44 372.52,384.32 373.07,387.31 373.63,390.38 374.18,393.49 374.74,396.6 375.29,399.68 375.85,402.68 376.4,405.56 376.96,408.28 377.52,410.83 378.07,413.16 378.63,415.27 379.18,417.13 379.74,418.73 380.29,420.05 380.85,421.06 381.4,421.76 381.96,422.13 382.51,422.14 383.07,421.8 383.62,421.12 384.18,420.1 384.73,418.75 385.29,417.07 385.85,415.06 386.4,412.73 386.96,410.1 387.51,407.23 388.07,404.14 388.62,400.9 389.18,397.55 389.73,394.12 390.29,390.68 390.84,387.25 391.4,383.89 391.95,380.62 392.51,377.44 393.07,374.33 393.62,371.31 394.18,368.36 394.73,365.5 395.29,362.7 395.84,359.99 396.4,357.34 396.95,354.77 397.51,352.27 398.06,349.85 398.62,347.51 399.17,345.28 399.73,343.14 400.28,341.12 400.84,339.22 401.4,337.45 401.95,335.81 402.51,334.31 403.06,332.97 403.62,331.8 404.17,330.8 404.73,329.99 405.28,329.38 405.84,328.99 406.39,328.82 406.95,328.89 407.5,329.21 408.06,329.76 408.61,330.56 409.17,331.6 409.73,332.88 410.28,334.39 410.84,336.14 411.39,338.09 411.95,340.22 412.5,342.48 413.06,344.85 413.61,347.29 414.17,349.76 414.72,352.24 415.28,354.7 415.83,357.09 416.39,359.39 416.95,361.56 417.5,363.56 418.06,365.38 418.61,366.96 419.17,368.28" fill="none" stroke="#c49cab" stroke-width="1.15" stroke-linejoin="round"/>
<polyline points="275.33,398.51 275.89,400.2 276.44,401.98 277,403.84 277.55,405.77 278.11,407.75 278.66,409.75 279.22,411.77 279.77,413.78 280.33,415.77 280.88,417.72 281.44,419.62 282,421.44 282.55,423.17 283.11,424.8 283.66,426.3 284.22,427.66 284.77,428.86 285.33,429.89 285.88,430.74 286.44,431.42 286.99,431.9 287.55,432.18 288.1,432.26 288.66,432.13 289.21,431.79 289.77,431.23 290.33,430.45 290.88,429.44 291.44,428.21 291.99,426.76 292.55,425.08 293.1,423.16 293.66,421.03 294.21,418.68 294.77,416.14 295.32,413.43 295.88,410.57 296.43,407.57 296.99,404.45 297.55,401.24 298.1,397.95 298.66,394.6 299.21,391.2 299.77,387.78 300.32,384.35 300.88,380.93 301.43,377.53 301.99,374.18 302.54,370.9 303.1,367.69 303.65,364.58 304.21,361.6 304.76,358.78 305.32,356.14 305.88,353.72 306.43,351.53 306.99,349.61 307.54,347.98 308.1,346.66 308.65,345.64 309.21,344.92 309.76,344.49 310.32,344.35 310.87,344.49 311.43,344.9 311.98,345.55 312.54,346.43 313.09,347.51 313.65,348.79 314.21,350.25 314.76,351.86 315.32,353.6 315.87,355.46 316.43,357.41 316.98,359.44 317.54,361.52 318.09,363.63 318.65,365.75 319.2,367.87 319.76,369.98 320.31,372.08 320.87,374.14 321.43,376.18 321.98,378.19 322.54,380.15 323.09,382.06 323.65,383.91 324.2,385.69 324.76,387.41 325.31,389.04 325.87,390.59 326.42,392.04 326.98,393.4 327.53,394.65 328.09,395.81 328.64,396.87 329.2,397.82 329.76,398.67 330.31,399.41 330.87,400.03 331.42,400.54 331.98,400.94 332.53,401.22 333.09,401.38 333.64,401.43 334.2,401.35 334.75,401.17 335.31,400.89 335.86,400.51 336.42,400.04 336.97,399.5 337.53,398.87 338.09,398.19 338.64,397.44 339.2,396.64 339.75,395.79 340.31,394.9 340.86,393.98 341.42,393.02 341.97,392.02 342.53,390.99 343.08,389.94 343.64,388.85 344.19,387.74 344.75,386.6 345.31,385.44 345.86,384.26 346.42,383.06 346.97,381.84 347.53,380.61 348.08,379.37 348.64,378.12 349.19,376.87 349.75,375.63 350.3,374.41 350.86,373.21 351.41,372.03 351.97,370.89 352.52,369.78 353.08,368.72 353.64,367.71 354.19,366.75 354.75,365.86 355.3,365.02 355.86,364.25 356.41,363.53 356.97,362.86 357.52,362.25 358.08,361.69 358.63,361.17 359.19,360.71 359.74,360.29 360.3,359.92 360.85,359.6 361.41,359.34 361.97,359.15 362.52,359.04 363.08,359.02 363.63,359.1 364.19,359.3 364.74,359.62 365.3,360.1 365.85,360.74 366.41,361.57 366.96,362.6 367.52,363.85 368.07,365.31 368.63,366.98 369.19,368.86 369.74,370.93 370.3,373.18 370.85,375.62 371.41,378.24 371.96,381.03 372.52,383.98 373.07,387.04 373.63,390.18 374.18,393.37 374.74,396.56 375.29,399.71 375.85,402.78 376.4,405.73 376.96,408.52 377.52,411.13 378.07,413.52 378.63,415.68 379.18,417.59 379.74,419.23 380.29,420.59 380.85,421.63 381.4,422.35 381.96,422.73 382.51,422.75 383.07,422.41 383.62,421.72 384.18,420.68 384.73,419.3 385.29,417.59 385.85,415.54 386.4,413.16 386.96,410.48 387.51,407.55 388.07,404.41 388.62,401.1 389.18,397.68 389.73,394.19 390.29,390.68 390.84,387.19 391.4,383.77 391.95,380.44 392.51,377.2 393.07,374.05 393.62,370.98 394.18,367.99 394.73,365.08 395.29,362.25 395.84,359.5 396.4,356.82 396.95,354.21 397.51,351.68 398.06,349.23 398.62,346.87 399.17,344.61 399.73,342.46 400.28,340.41 400.84,338.5 401.4,336.71 401.95,335.06 402.51,333.55 403.06,332.2 403.62,331.02 404.17,330.02 404.73,329.22 405.28,328.61 405.84,328.23 406.39,328.07 406.95,328.16 407.5,328.49 408.06,329.07 408.61,329.9 409.17,330.97 409.73,332.28 410.28,333.84 410.84,335.64 411.39,337.64 411.95,339.82 412.5,342.14 413.06,344.57 413.61,347.07 414.17,349.6 414.72,352.15 415.28,354.66 415.83,357.12 416.39,359.47 416.95,361.7 417.5,363.76 418.06,365.63 418.61,367.26 419.17,368.62" fill="none" stroke="#d093ab" stroke-width="1.15" stroke-linejoin="round"/>
<polyline points="275.33,398.51 275.89,400.22 276.44,402.02 277,403.91 277.55,405.86 278.11,407.85 278.66,409.88 279.22,411.92 279.77,413.96 280.33,415.98 280.88,417.95 281.44,419.87 282,421.72 282.55,423.47 283.11,425.12 283.66,426.64 284.22,428.02 284.77,429.23 285.33,430.28 285.88,431.15 286.44,431.83 286.99,432.32 287.55,432.61 288.1,432.69 288.66,432.56 289.21,432.22 289.77,431.65 290.33,430.86 290.88,429.85 291.44,428.6 291.99,427.13 292.55,425.42 293.1,423.48 293.66,421.31 294.21,418.93 294.77,416.36 295.32,413.6 295.88,410.7 296.43,407.65 296.99,404.49 297.55,401.22 298.1,397.88 298.66,394.47 299.21,391.02 299.77,387.54 300.32,384.05 300.88,380.57 301.43,377.12 301.99,373.72 302.54,370.37 303.1,367.11 303.65,363.96 304.21,360.93 304.76,358.06 305.32,355.38 305.88,352.91 306.43,350.68 306.99,348.73 307.54,347.07 308.1,345.72 308.65,344.67 309.21,343.92 309.76,343.48 310.32,343.32 310.87,343.46 311.43,343.87 311.98,344.53 312.54,345.42 313.09,346.52 313.65,347.83 314.21,349.31 314.76,350.95 315.32,352.74 315.87,354.63 316.43,356.63 316.98,358.7 317.54,360.82 318.09,362.98 318.65,365.15 319.2,367.32 319.76,369.47 320.31,371.61 320.87,373.72 321.43,375.79 321.98,377.83 322.54,379.82 323.09,381.77 323.65,383.65 324.2,385.46 324.76,387.2 325.31,388.85 325.87,390.42 326.42,391.89 326.98,393.26 327.53,394.54 328.09,395.71 328.64,396.78 329.2,397.75 329.76,398.6 330.31,399.35 330.87,399.98 331.42,400.5 331.98,400.91 332.53,401.19 333.09,401.36 333.64,401.4 334.2,401.33 334.75,401.14 335.31,400.86 335.86,400.47 336.42,400 336.97,399.45 337.53,398.82 338.09,398.12 338.64,397.37 339.2,396.55 339.75,395.7 340.31,394.79 340.86,393.86 341.42,392.88 341.97,391.87 342.53,390.83 343.08,389.76 343.64,388.66 344.19,387.53 344.75,386.37 345.31,385.2 345.86,384 346.42,382.78 346.97,381.55 347.53,380.29 348.08,379.03 348.64,377.76 349.19,376.5 349.75,375.24 350.3,374 350.86,372.78 351.41,371.59 351.97,370.43 352.52,369.3 353.08,368.23 353.64,367.2 354.19,366.23 354.75,365.33 355.3,364.48 355.86,363.69 356.41,362.96 356.97,362.29 357.52,361.67 358.08,361.1 358.63,360.58 359.19,360.11 359.74,359.68 360.3,359.3 360.85,358.98 361.41,358.71 361.97,358.52 362.52,358.41 363.08,358.39 363.63,358.47 364.19,358.67 364.74,359 365.3,359.48 365.85,360.13 366.41,360.97 366.96,362.01 367.52,363.28 368.07,364.77 368.63,366.47 369.19,368.37 369.74,370.47 370.3,372.76 370.85,375.24 371.41,377.9 371.96,380.74 372.52,383.73 373.07,386.85 373.63,390.04 374.18,393.28 374.74,396.52 375.29,399.73 375.85,402.85 376.4,405.85 376.96,408.7 377.52,411.35 378.07,413.78 378.63,415.98 379.18,417.93 379.74,419.6 380.29,420.98 380.85,422.05 381.4,422.78 381.96,423.16 382.51,423.18 383.07,422.84 383.62,422.15 384.18,421.1 384.73,419.7 385.29,417.96 385.85,415.89 386.4,413.47 386.96,410.76 387.51,407.78 388.07,404.6 388.62,401.24 389.18,397.78 389.73,394.24 390.29,390.68 390.84,387.15 391.4,383.69 391.95,380.32 392.51,377.04 393.07,373.85 393.62,370.74 394.18,367.72 394.73,364.78 395.29,361.93 395.84,359.15 396.4,356.44 396.95,353.81 397.51,351.26 398.06,348.79 398.62,346.41 399.17,344.13 399.73,341.96 400.28,339.91 400.84,337.97 401.4,336.18 401.95,334.52 402.51,333.01 403.06,331.65 403.62,330.47 404.17,329.47 404.73,328.66 405.28,328.06 405.84,327.68 406.39,327.53 406.95,327.63 407.5,327.98 408.06,328.58 408.61,329.42 409.17,330.52 409.73,331.86 410.28,333.44 410.84,335.27 411.39,337.31 411.95,339.53 412.5,341.89 413.06,344.36 413.61,346.91 414.17,349.49 414.72,352.08 415.28,354.64 415.83,357.14 416.39,359.54 416.95,361.81 417.5,363.91 418.06,365.81 418.61,367.47 419.17,368.86" fill="none" stroke="#d78fab" stroke-width="1.15" stroke-linejoin="round"/>
<polyline points="275.33,398.51 275.89,400.23 276.44,402.05 277,403.95 277.55,405.91 278.11,407.93 278.66,409.97 279.22,412.03 279.77,414.08 280.33,416.12 280.88,418.11 281.44,420.04 282,421.91 282.55,423.68 283.11,425.34 283.66,426.87 284.22,428.26 284.77,429.49 285.33,430.54 285.88,431.42 286.44,432.11 286.99,432.6 287.55,432.89 288.1,432.98 288.66,432.85 289.21,432.5 289.77,431.93 290.33,431.14 290.88,430.11 291.44,428.86 291.99,427.38 292.55,425.66 293.1,423.7 293.66,421.51 294.21,419.1 294.77,416.5 295.32,413.72 295.88,410.78 296.43,407.71 296.99,404.51 297.55,401.21 298.1,397.83 298.66,394.38 299.21,390.89 299.77,387.38 300.32,383.85 300.88,380.34 301.43,376.85 301.99,373.4 302.54,370.03 303.1,366.73 303.65,363.54 304.21,360.48 304.76,357.58 305.32,354.86 305.88,352.37 306.43,350.12 306.99,348.14 307.54,346.46 308.1,345.09 308.65,344.02 309.21,343.26 309.76,342.8 310.32,342.64 310.87,342.77 311.43,343.18 311.98,343.84 312.54,344.74 313.09,345.86 313.65,347.18 314.21,348.69 314.76,350.35 315.32,352.16 315.87,354.08 316.43,356.11 316.98,358.21 317.54,360.36 318.09,362.55 318.65,364.75 319.2,366.95 319.76,369.13 320.31,371.29 320.87,373.43 321.43,375.53 321.98,377.6 322.54,379.61 323.09,381.57 323.65,383.47 324.2,385.3 324.76,387.05 325.31,388.73 325.87,390.31 326.42,391.79 326.98,393.18 327.53,394.46 328.09,395.64 328.64,396.72 329.2,397.7 329.76,398.56 330.31,399.31 330.87,399.95 331.42,400.47 331.98,400.88 332.53,401.17 333.09,401.34 333.64,401.38 334.2,401.31 334.75,401.12 335.31,400.84 335.86,400.45 336.42,399.98 336.97,399.42 337.53,398.79 338.09,398.08 338.64,397.32 339.2,396.5 339.75,395.63 340.31,394.72 340.86,393.77 341.42,392.79 341.97,391.77 342.53,390.72 343.08,389.64 343.64,388.53 344.19,387.39 344.75,386.22 345.31,385.03 345.86,383.82 346.42,382.59 346.97,381.35 347.53,380.08 348.08,378.81 348.64,377.53 349.19,376.25 349.75,374.98 350.3,373.73 350.86,372.5 351.41,371.29 351.97,370.12 352.52,368.99 353.08,367.9 353.64,366.86 354.19,365.89 354.75,364.97 355.3,364.12 355.86,363.32 356.41,362.59 356.97,361.91 357.52,361.28 358.08,360.71 358.63,360.18 359.19,359.71 359.74,359.28 360.3,358.89 360.85,358.57 361.41,358.3 361.97,358.1 362.52,357.99 363.08,357.97 363.63,358.05 364.19,358.25 364.74,358.58 365.3,359.07 365.85,359.72 366.41,360.57 366.96,361.63 367.52,362.91 368.07,364.41 368.63,366.12 369.19,368.04 369.74,370.16 370.3,372.48 370.85,374.99 371.41,377.68 371.96,380.54 372.52,383.57 373.07,386.72 373.63,389.95 374.18,393.22 374.74,396.5 375.29,399.74 375.85,402.9 376.4,405.93 376.96,408.81 377.52,411.49 378.07,413.96 378.63,416.18 379.18,418.15 379.74,419.84 380.29,421.24 380.85,422.32 381.4,423.06 381.96,423.45 382.51,423.48 383.07,423.14 383.62,422.43 384.18,421.38 384.73,419.97 385.29,418.21 385.85,416.12 386.4,413.68 386.96,410.94 387.51,407.94 388.07,404.72 388.62,401.34 389.18,397.84 389.73,394.27 390.29,390.68 390.84,387.12 391.4,383.63 391.95,380.23 392.51,376.93 393.07,373.71 393.62,370.58 394.18,367.54 394.73,364.58 395.29,361.71 395.84,358.91 396.4,356.19 396.95,353.55 397.51,350.98 398.06,348.49 398.62,346.1 399.17,343.81 399.73,341.63 400.28,339.57 400.84,337.63 401.4,335.82 401.95,334.16 402.51,332.64 403.06,331.28 403.62,330.1 404.17,329.1 404.73,328.29 405.28,327.69 405.84,327.32 406.39,327.18 406.95,327.28 407.5,327.64 408.06,328.25 408.61,329.1 409.17,330.21 409.73,331.57 410.28,333.18 410.84,335.03 411.39,337.09 411.95,339.34 412.5,341.73 413.06,344.23 413.61,346.8 414.17,349.41 414.72,352.03 415.28,354.62 415.83,357.15 416.39,359.58 416.95,361.87 417.5,364 418.06,365.93 418.61,367.61 419.17,369.03" fill="none" stroke="#d78fab" stroke-width="1.15" stroke-linejoin="round"/>
<polyline points="275.33,398.51 275.89,400.24 276.44,402.07 277,403.98 277.55,405.96 278.11,407.99 278.66,410.04 279.22,412.12 279.77,414.18 280.33,416.23 280.88,418.24 281.44,420.19 282,422.06 282.55,423.84 283.11,425.52 283.66,427.06 284.22,428.46 284.77,429.7 285.33,430.76 285.88,431.64 286.44,432.34 286.99,432.83 287.55,433.13 288.1,433.22 288.66,433.09 289.21,432.74 289.77,432.17 290.33,431.37 290.88,430.34 291.44,429.08 291.99,427.58 292.55,425.85 293.1,423.88 293.66,421.67 294.21,419.24 294.77,416.62 295.32,413.82 295.88,410.85 296.43,407.75 296.99,404.53 297.55,401.2 298.1,397.79 298.66,394.31 299.21,390.79 299.77,387.24 300.32,383.69 300.88,380.14 301.43,376.62 301.99,373.15 302.54,369.74 303.1,366.41 303.65,363.19 304.21,360.1 304.76,357.18 305.32,354.44 305.88,351.92 306.43,349.65 306.99,347.65 307.54,345.95 308.1,344.56 308.65,343.48 309.21,342.71 309.76,342.24 310.32,342.08 310.87,342.2 311.43,342.61 311.98,343.28 312.54,344.18 313.09,345.31 313.65,346.65 314.21,348.16 314.76,349.85 315.32,351.68 315.87,353.62 316.43,355.67 316.98,357.8 317.54,359.98 318.09,362.19 318.65,364.42 319.2,366.64 319.76,368.85 320.31,371.03 320.87,373.19 321.43,375.32 321.98,377.4 322.54,379.43 323.09,381.41 323.65,383.33 324.2,385.17 324.76,386.94 325.31,388.62 325.87,390.21 326.42,391.71 326.98,393.1 327.53,394.4 328.09,395.59 328.64,396.67 329.2,397.65 329.76,398.52 330.31,399.28 330.87,399.92 331.42,400.45 331.98,400.86 332.53,401.15 333.09,401.32 333.64,401.37 334.2,401.29 334.75,401.11 335.31,400.82 335.86,400.43 336.42,399.95 336.97,399.39 337.53,398.76 338.09,398.05 338.64,397.28 339.2,396.45 339.75,395.58 340.31,394.66 340.86,393.71 341.42,392.71 341.97,391.69 342.53,390.63 343.08,389.54 343.64,388.42 344.19,387.27 344.75,386.1 345.31,384.9 345.86,383.68 346.42,382.44 346.97,381.18 347.53,379.91 348.08,378.62 348.64,377.33 349.19,376.05 349.75,374.77 350.3,373.5 350.86,372.26 351.41,371.05 351.97,369.86 352.52,368.72 353.08,367.63 353.64,366.58 354.19,365.6 354.75,364.68 355.3,363.82 355.86,363.02 356.41,362.27 356.97,361.59 357.52,360.96 358.08,360.38 358.63,359.85 359.19,359.37 359.74,358.94 360.3,358.55 360.85,358.22 361.41,357.95 361.97,357.76 362.52,357.64 363.08,357.62 363.63,357.7 364.19,357.9 364.74,358.23 365.3,358.72 365.85,359.38 366.41,360.24 366.96,361.3 367.52,362.59 368.07,364.1 368.63,365.83 369.19,367.77 369.74,369.91 370.3,372.25 370.85,374.78 371.41,377.49 371.96,380.38 372.52,383.43 373.07,386.61 373.63,389.87 374.18,393.17 374.74,396.48 375.29,399.75 375.85,402.94 376.4,406 376.96,408.91 377.52,411.61 378.07,414.1 378.63,416.35 379.18,418.34 379.74,420.04 380.29,421.45 380.85,422.55 381.4,423.3 381.96,423.7 382.51,423.72 383.07,423.38 383.62,422.67 384.18,421.61 384.73,420.19 385.29,418.42 385.85,416.31 386.4,413.86 386.96,411.09 387.51,408.07 388.07,404.83 388.62,401.42 389.18,397.89 389.73,394.3 390.29,390.68 390.84,387.09 391.4,383.58 391.95,380.16 392.51,376.83 393.07,373.6 393.62,370.45 394.18,367.39 394.73,364.42 395.29,361.53 395.84,358.71 396.4,355.98 396.95,353.32 397.51,350.74 398.06,348.25 398.62,345.85 399.17,343.55 399.73,341.36 400.28,339.28 400.84,337.34 401.4,335.53 401.95,333.86 402.51,332.34 403.06,330.98 403.62,329.79 404.17,328.79 404.73,327.98 405.28,327.39 405.84,327.01 406.39,326.88 406.95,326.99 407.5,327.35 408.06,327.97 408.61,328.84 409.17,329.96 409.73,331.33 410.28,332.96 410.84,334.83 411.39,336.91 411.95,339.18 412.5,341.59 413.06,344.11 413.61,346.71 414.17,349.35 414.72,352 415.28,354.61 415.83,357.16 416.39,359.62 416.95,361.93 417.5,364.08 418.06,366.03 418.61,367.73 419.17,369.16" fill="none" stroke="#d78fab" stroke-width="1.15" stroke-linejoin="round"/>
<polyline points="275.33,398.51 275.89,400.25 276.44,402.09 277,404.01 277.55,406.01 278.11,408.05 278.66,410.12 279.22,412.2 279.77,414.29 280.33,416.35 280.88,418.37 281.44,420.33 282,422.22 282.55,424.01 283.11,425.7 283.66,427.25 284.22,428.66 284.77,429.91 285.33,430.98 285.88,431.87 286.44,432.56 286.99,433.07 287.55,433.37 288.1,433.46 288.66,433.33 289.21,432.98 289.77,432.4 290.33,431.6 290.88,430.56 291.44,429.29 291.99,427.79 292.55,426.04 293.1,424.05 293.66,421.83 294.21,419.39 294.77,416.74 295.32,413.91 295.88,410.93 296.43,407.8 296.99,404.54 297.55,401.19 298.1,397.75 298.66,394.24 299.21,390.69 299.77,387.11 300.32,383.52 300.88,379.94 301.43,376.39 301.99,372.89 302.54,369.45 303.1,366.09 303.65,362.84 304.21,359.73 304.76,356.77 305.32,354.01 305.88,351.47 306.43,349.17 306.99,347.16 307.54,345.44 308.1,344.04 308.65,342.94 309.21,342.16 309.76,341.68 310.32,341.51 310.87,341.63 311.43,342.04 311.98,342.71 312.54,343.62 313.09,344.76 313.65,346.11 314.21,347.64 314.76,349.35 315.32,351.2 315.87,353.17 316.43,355.24 316.98,357.39 317.54,359.59 318.09,361.83 318.65,364.09 319.2,366.33 319.76,368.56 320.31,370.77 320.87,372.96 321.43,375.1 321.98,377.2 322.54,379.25 323.09,381.25 323.65,383.18 324.2,385.04 324.76,386.82 325.31,388.52 325.87,390.12 326.42,391.62 326.98,393.03 327.53,394.33 328.09,395.53 328.64,396.62 329.2,397.61 329.76,398.48 330.31,399.25 330.87,399.9 331.42,400.43 331.98,400.84 332.53,401.13 333.09,401.3 333.64,401.35 334.2,401.28 334.75,401.09 335.31,400.8 335.86,400.41 336.42,399.93 336.97,399.37 337.53,398.73 338.09,398.01 338.64,397.24 339.2,396.41 339.75,395.52 340.31,394.6 340.86,393.64 341.42,392.64 341.97,391.6 342.53,390.54 343.08,389.44 343.64,388.31 344.19,387.15 344.75,385.97 345.31,384.76 345.86,383.53 346.42,382.28 346.97,381.01 347.53,379.73 348.08,378.44 348.64,377.14 349.19,375.84 349.75,374.55 350.3,373.28 350.86,372.03 351.41,370.8 351.97,369.61 352.52,368.46 353.08,367.35 353.64,366.3 354.19,365.31 354.75,364.38 355.3,363.51 355.86,362.71 356.41,361.96 356.97,361.27 357.52,360.63 358.08,360.05 358.63,359.52 359.19,359.04 359.74,358.6 360.3,358.21 360.85,357.88 361.41,357.61 361.97,357.41 362.52,357.29 363.08,357.27 363.63,357.35 364.19,357.55 364.74,357.89 365.3,358.38 365.85,359.04 366.41,359.9 366.96,360.98 367.52,362.28 368.07,363.8 368.63,365.54 369.19,367.5 369.74,369.66 370.3,372.01 370.85,374.56 371.41,377.3 371.96,380.21 372.52,383.29 373.07,386.5 373.63,389.79 374.18,393.13 374.74,396.46 375.29,399.76 375.85,402.98 376.4,406.07 376.96,409 377.52,411.74 378.07,414.25 378.63,416.51 379.18,418.52 379.74,420.25 380.29,421.67 380.85,422.77 381.4,423.54 381.96,423.94 382.51,423.96 383.07,423.62 383.62,422.91 384.18,421.84 384.73,420.41 385.29,418.63 385.85,416.5 386.4,414.03 386.96,411.25 387.51,408.2 388.07,404.93 388.62,401.5 389.18,397.95 389.73,394.33 390.29,390.68 390.84,387.07 391.4,383.53 391.95,380.09 392.51,376.74 393.07,373.49 393.62,370.32 394.18,367.24 394.73,364.25 395.29,361.35 395.84,358.52 396.4,355.77 396.95,353.1 397.51,350.51 398.06,348 398.62,345.59 399.17,343.28 399.73,341.08 400.28,339 400.84,337.05 401.4,335.23 401.95,333.56 402.51,332.03 403.06,330.67 403.62,329.48 404.17,328.48 404.73,327.67 405.28,327.08 405.84,326.71 406.39,326.58 406.95,326.7 407.5,327.07 408.06,327.7 408.61,328.58 409.17,329.71 409.73,331.1 410.28,332.74 410.84,334.63 411.39,336.73 411.95,339.02 412.5,341.45 413.06,344 413.61,346.62 414.17,349.29 414.72,351.96 415.28,354.6 415.83,357.17 416.39,359.65 416.95,361.99 417.5,364.16 418.06,366.13 418.61,367.85 419.17,369.3" fill="none" stroke="#d78fab" stroke-width="1.15" stroke-linejoin="round"/>
<line x1="307.54" y1="293.6" x2="307.54" y2="465.5" stroke="#111" stroke-width="0.9" stroke-dasharray="3 1.6"/>
<circle cx="307.54" cy="443.62" r="2.8" fill="#bdbdbd"/>
<circle cx="307.54" cy="396.33" r="2.8" fill="#adadad"/>
<circle cx="307.54" cy="370.53" r="2.8" fill="#adadad"/>
<circle cx="307.54" cy="357.4" r="2.8" fill="#adadad"/>
<circle cx="307.54" cy="351.96" r="2.8" fill="#b1aaac"/>
<circle cx="307.54" cy="349.26" r="2.8" fill="#c49cab"/>
<circle cx="307.54" cy="347.99" r="2.8" fill="#d093ab"/>
<circle cx="307.54" cy="347.07" r="2.8" fill="#d78fab"/>
<circle cx="307.54" cy="346.46" r="2.8" fill="#d78fab"/>
<circle cx="307.54" cy="345.95" r="2.8" fill="#d78fab"/>
<circle cx="307.54" cy="345.45" r="2.8" fill="#d78fab"/>
<text x="286" y="341.6" font-size="11.0" fill="#d78fab" text-anchor="start" font-family='"Liberation Sans", sans-serif'>11<tspan dy="-4.9" font-size="7">th</tspan></text>
<text x="308.9" y="391.3" font-size="11.0" fill="#c2c2c2" text-anchor="start" font-family='"Liberation Sans", sans-serif'>3<tspan dy="-4.9" font-size="7">rd</tspan></text>
<text x="309.7" y="413.1" font-size="11.0" fill="#c2c2c2" text-anchor="start" font-family='"Liberation Sans", sans-serif'>2<tspan dy="-4.9" font-size="7">nd</tspan></text>
<text x="311.4" y="448.3" font-size="11.0" fill="#c2c2c2" text-anchor="start" font-family='"Liberation Sans", sans-serif'>1<tspan dy="-4.9" font-size="7">st</tspan></text>
<rect x="261.2" y="293.6" width="172.4" height="171.9" fill="none" stroke="#111" stroke-width="1.7"/>
<line x1="261.2" y1="322.4" x2="266" y2="322.4" stroke="#111" stroke-width="1.2"/>
<text x="257.2" y="326.7" font-size="13.0" fill="#1a1a1a" text-anchor="end" font-family='"Liberation Serif", serif'>1</text>
<line x1="261.2" y1="379.8" x2="266" y2="379.8" stroke="#111" stroke-width="1.2"/>
<text x="257.2" y="384.1" font-size="13.0" fill="#1a1a1a" text-anchor="end" font-family='"Liberation Serif", serif'>0</text>
<line x1="261.2" y1="437.2" x2="266" y2="437.2" stroke="#111" stroke-width="1.2"/>
<text x="257.2" y="441.5" font-size="13.0" fill="#1a1a1a" text-anchor="end" font-family='"Liberation Serif", serif'>1</text>
<text x="250.1" y="441.5" font-size="13.0" fill="#1a1a1a" text-anchor="end" font-family='"Liberation Serif", serif' textLength="8.4" lengthAdjust="spacingAndGlyphs">−</text>
<line x1="275.9" y1="465.5" x2="275.9" y2="460.7" stroke="#111" stroke-width="1.2"/>
<text x="283.65" y="480.1" font-size="13.0" fill="#1a1a1a" text-anchor="end" font-family='"Liberation Serif", serif'>1</text>
<text x="276.55" y="480.1" font-size="13.0" fill="#1a1a1a" text-anchor="end" font-family='"Liberation Serif", serif' textLength="8.4" lengthAdjust="spacingAndGlyphs">−</text>
<line x1="347" y1="465.5" x2="347" y2="460.7" stroke="#111" stroke-width="1.2"/>
<text x="350.25" y="480.1" font-size="13.0" fill="#1a1a1a" text-anchor="end" font-family='"Liberation Serif", serif'>0</text>
<line x1="418.1" y1="465.5" x2="418.1" y2="460.7" stroke="#111" stroke-width="1.2"/>
<text x="421.35" y="480.1" font-size="13.0" fill="#1a1a1a" text-anchor="end" font-family='"Liberation Serif", serif'>1</text>
<text x="239" y="380.2" font-size="11.5" fill="#1a1a1a" text-anchor="middle" font-family='"Liberation Sans", sans-serif' font-weight="bold" transform="rotate(-90 239 380.2)">y</text>
<text x="347.2" y="497.2" font-size="11.5" fill="#1a1a1a" text-anchor="middle" font-family='"Liberation Sans", sans-serif' font-weight="bold">x</text>
<text x="307.6" y="288.2" font-size="11.6" fill="#1a1a1a" text-anchor="middle" font-family='"DejaVu Sans Mono", "Liberation Mono", monospace' stroke="#1a1a1a" stroke-width="0.25">x=-0.55</text>
<text x="452.2" y="299.2" font-size="10.2" fill="#1a1a1a" text-anchor="start" font-family='"Liberation Sans", sans-serif' font-weight="bold">d</text>
<circle cx="523.33" cy="415.98" r="2.6" fill="#4aa391"/>
<circle cx="524.24" cy="418.49" r="2.6" fill="#4aa391"/>
<circle cx="525.14" cy="415.72" r="2.6" fill="#4aa391"/>
<circle cx="526.05" cy="415.71" r="2.6" fill="#4aa391"/>
<circle cx="526.95" cy="414.93" r="2.6" fill="#4aa391"/>
<circle cx="527.86" cy="414.06" r="2.6" fill="#4aa391"/>
<circle cx="528.77" cy="414.63" r="2.6" fill="#4aa391"/>
<circle cx="529.67" cy="412.68" r="2.6" fill="#4aa391"/>
<circle cx="530.58" cy="412.42" r="2.6" fill="#4aa391"/>
<circle cx="531.48" cy="408.8" r="2.6" fill="#4aa391"/>
<circle cx="532.39" cy="410.26" r="2.6" fill="#4aa391"/>
<circle cx="533.3" cy="409.97" r="2.6" fill="#4aa391"/>
<circle cx="534.2" cy="409.22" r="2.6" fill="#4aa391"/>
<circle cx="535.11" cy="408.79" r="2.6" fill="#4aa391"/>
<circle cx="536.01" cy="408.36" r="2.6" fill="#4aa391"/>
<circle cx="536.92" cy="407.2" r="2.6" fill="#4aa391"/>
<circle cx="537.83" cy="405.89" r="2.6" fill="#4aa391"/>
<circle cx="538.73" cy="405.7" r="2.6" fill="#4aa391"/>
<circle cx="539.64" cy="404.16" r="2.6" fill="#4aa391"/>
<circle cx="540.54" cy="404.27" r="2.6" fill="#4aa391"/>
<circle cx="541.45" cy="403.42" r="2.6" fill="#4aa391"/>
<circle cx="542.36" cy="401.65" r="2.6" fill="#4aa391"/>
<circle cx="543.26" cy="401.66" r="2.6" fill="#4aa391"/>
<circle cx="544.17" cy="401.69" r="2.6" fill="#4aa391"/>
<circle cx="545.07" cy="400.77" r="2.6" fill="#4aa391"/>
<circle cx="545.98" cy="399.56" r="2.6" fill="#4aa391"/>
<circle cx="546.89" cy="397.89" r="2.6" fill="#4aa391"/>
<circle cx="547.79" cy="398.73" r="2.6" fill="#4aa391"/>
<circle cx="548.7" cy="398.01" r="2.6" fill="#4aa391"/>
<circle cx="549.6" cy="396.45" r="2.6" fill="#4aa391"/>
<circle cx="550.51" cy="397.07" r="2.6" fill="#4aa391"/>
<circle cx="551.42" cy="395.95" r="2.6" fill="#4aa391"/>
<circle cx="552.32" cy="394.43" r="2.6" fill="#4aa391"/>
<circle cx="553.23" cy="393.95" r="2.6" fill="#4aa391"/>
<circle cx="554.13" cy="393.59" r="2.6" fill="#4aa391"/>
<circle cx="555.04" cy="392.49" r="2.6" fill="#4aa391"/>
<circle cx="555.95" cy="394.23" r="2.6" fill="#4aa391"/>
<circle cx="556.85" cy="390.84" r="2.6" fill="#4aa391"/>
<circle cx="557.76" cy="391.53" r="2.6" fill="#4aa391"/>
<circle cx="558.66" cy="391.32" r="2.6" fill="#4aa391"/>
<circle cx="559.57" cy="389.27" r="2.6" fill="#4aa391"/>
<circle cx="560.48" cy="388.27" r="2.6" fill="#4aa391"/>
<circle cx="561.38" cy="388.37" r="2.6" fill="#4aa391"/>
<circle cx="562.29" cy="388.12" r="2.6" fill="#4aa391"/>
<circle cx="563.19" cy="386.65" r="2.6" fill="#4aa391"/>
<circle cx="564.1" cy="386" r="2.6" fill="#4aa391"/>
<circle cx="566.51" cy="388.68" r="2.6" fill="#4aa391"/>
<circle cx="570.09" cy="381.53" r="2.6" fill="#4aa391"/>
<circle cx="575.57" cy="374.85" r="2.6" fill="#4aa391"/>
<circle cx="576.76" cy="379.15" r="2.6" fill="#4aa391"/>
<circle cx="581.53" cy="373.19" r="2.6" fill="#4aa391"/>
<circle cx="583.92" cy="370.8" r="2.6" fill="#4aa391"/>
<circle cx="587.49" cy="368.42" r="2.6" fill="#4aa391"/>
<circle cx="589.88" cy="370.8" r="2.6" fill="#4aa391"/>
<circle cx="599.41" cy="357.69" r="2.6" fill="#4aa391"/>
<circle cx="601.8" cy="356.49" r="2.6" fill="#4aa391"/>
<circle cx="604.18" cy="348.15" r="2.6" fill="#4aa391"/>
<circle cx="606.57" cy="352.92" r="2.6" fill="#4aa391"/>
<circle cx="610.14" cy="346.96" r="2.6" fill="#4aa391"/>
<circle cx="613.72" cy="349.34" r="2.6" fill="#4aa391"/>
<circle cx="620.87" cy="341" r="2.6" fill="#4aa391"/>
<circle cx="628.03" cy="337.42" r="2.6" fill="#4aa391"/>
<circle cx="630.41" cy="336.23" r="2.6" fill="#4aa391"/>
<circle cx="632.79" cy="329.07" r="2.6" fill="#4aa391"/>
<circle cx="633.99" cy="333.84" r="2.6" fill="#4aa391"/>
<circle cx="639.95" cy="327.17" r="2.6" fill="#4aa391"/>
<circle cx="647.1" cy="325.5" r="2.6" fill="#4aa391"/>
<circle cx="561.26" cy="386.78" r="2.6" fill="#4aa391"/>
<circle cx="564.36" cy="385.82" r="2.6" fill="#4aa391"/>
<circle cx="579.15" cy="374.38" r="2.6" fill="#4aa391"/>
<circle cx="585.82" cy="369.61" r="2.6" fill="#4aa391"/>
<circle cx="588.68" cy="367.94" r="2.6" fill="#4aa391"/>
<circle cx="605.37" cy="351.01" r="2.6" fill="#4aa391"/>
<circle cx="624.45" cy="339.09" r="2.6" fill="#4aa391"/>
<circle cx="631.6" cy="332.65" r="2.6" fill="#4aa391"/>
<line x1="518.8" y1="420.9" x2="654.7" y2="316.1" stroke="#111" stroke-width="1.1" stroke-dasharray="3.8 1.8"/>
<rect x="518.8" y="316.1" width="135.9" height="104.8" fill="none" stroke="#111" stroke-width="1.3"/>
<line x1="518.8" y1="420.9" x2="518.8" y2="417.3" stroke="#111" stroke-width="1.1"/>
<line x1="518.8" y1="420.9" x2="522.4" y2="420.9" stroke="#111" stroke-width="1.1"/>
<text x="518.8" y="434.7" font-size="12.5" fill="#1a1a1a" text-anchor="middle" font-family='"Liberation Serif", serif'>0.000</text>
<text x="513.8" y="425.1" font-size="12.5" fill="#1a1a1a" text-anchor="end" font-family='"Liberation Serif", serif'>0.000</text>
<line x1="575.42" y1="420.9" x2="575.42" y2="417.3" stroke="#111" stroke-width="1.1"/>
<line x1="518.8" y1="377.23" x2="522.4" y2="377.23" stroke="#111" stroke-width="1.1"/>
<text x="575.42" y="434.7" font-size="12.5" fill="#1a1a1a" text-anchor="middle" font-family='"Liberation Serif", serif'>0.005</text>
<text x="513.8" y="381.43" font-size="12.5" fill="#1a1a1a" text-anchor="end" font-family='"Liberation Serif", serif'>0.005</text>
<line x1="632.05" y1="420.9" x2="632.05" y2="417.3" stroke="#111" stroke-width="1.1"/>
<line x1="518.8" y1="333.57" x2="522.4" y2="333.57" stroke="#111" stroke-width="1.1"/>
<text x="632.05" y="434.7" font-size="12.5" fill="#1a1a1a" text-anchor="middle" font-family='"Liberation Serif", serif'>0.010</text>
<text x="513.8" y="337.77" font-size="12.5" fill="#1a1a1a" text-anchor="end" font-family='"Liberation Serif", serif'>0.010</text>
<text x="583.6" y="451" font-size="12.3" fill="#1a1a1a" text-anchor="middle" font-family='"Liberation Sans", sans-serif' textLength="107" lengthAdjust="spacingAndGlyphs" stroke="#1a1a1a" stroke-width="0.22">MSE to Groundtruth</text>
<text x="477.4" y="372.4" font-size="12.3" fill="#1a1a1a" text-anchor="middle" font-family='"Liberation Sans", sans-serif' transform="rotate(-90 477.4 372.4)" textLength="107" lengthAdjust="spacingAndGlyphs" stroke="#1a1a1a" stroke-width="0.22">MSE to Digital Twin</text>
</svg>
</body></html>
